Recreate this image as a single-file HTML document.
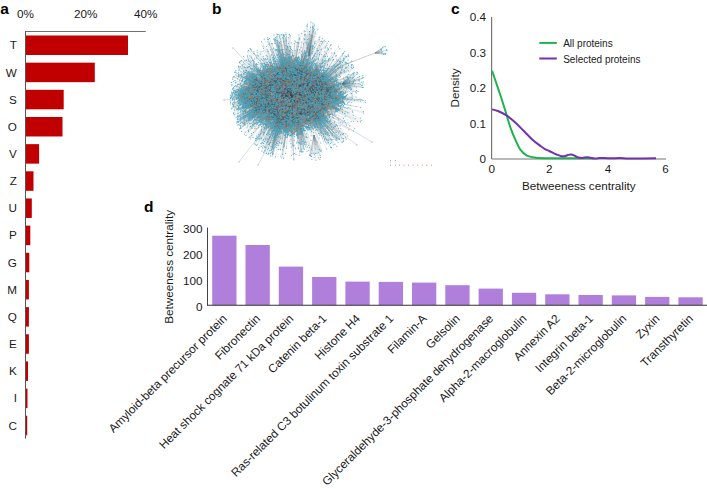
<!DOCTYPE html>
<html><head><meta charset="utf-8"><style>
html,body{margin:0;padding:0;background:#fff;width:707px;height:489px;overflow:hidden}
svg{display:block;font-family:"Liberation Sans", sans-serif}
</style></head><body>
<svg width="707" height="489" viewBox="0 0 707 489">
<filter id="nb" x="-10%" y="-10%" width="120%" height="120%"><feGaussianBlur stdDeviation="0.35"/></filter><g filter="url(#nb)"><path d="M298.9 104.2L300.1 85.3M289.7 129.9L291.3 120M262.7 70.1L277.6 66.3M243.2 84.3L319.1 80.3M271.1 66.1L275.3 80.7M309.1 72.6L294.6 71M327.2 111L307.3 70.2M247.6 92.1L265.1 93.7M290.5 113.4L294.3 111.6M290.1 57.7L274.4 78.1M284.3 99.9L303.3 110.3M313.5 125.2L323.6 115.5M302.4 94.4L294.6 71M272.2 68.9L279.8 67.4M304.6 82.5L312.4 88.2M281 110.7L264.5 103.2M294.7 73.3L307.3 70.2M320.6 84.7L315.6 73.3M274.6 86.5L276.7 92.3M290.6 123.1L271.3 116.9M271.4 66.5L286.3 68.6M291.1 122.7L319.1 80.3M291.8 131.9L289.8 123M334.8 97L336.9 96.1M330.4 104.5L323.6 115.5M262.9 105L281.1 124.7M279.1 125L319.6 114.6M258.6 93.1L242.9 96.9M285.8 125.3L284.9 119.3M289.5 79.5L299.7 84.2M264.1 106.8L242.9 96.9M258.5 97.4L270.2 104.5M273.9 82.3L257.3 107.4M292.4 73.3L279.7 88.3M328.1 97.8L297.8 101.6M304.3 73.6L295.4 96.7M259.1 81.9L288.4 71.7M253.7 114.7L281.1 124.7M245.2 95.9L275.5 117.1M302.1 128.8L280.4 116M240 101.5L297.7 86M270.3 115.3L257.3 107.4M308.7 113.7L304.7 79.4M276.3 94.2L245.5 103.3M343.4 105.5L315.4 114.1M283.5 113L300.2 113.5M326.3 95.6L317.2 74.7M290.4 84.2L288.4 71.7M287.5 83.5L275.6 111.4M320.2 94.2L311.1 91.5M289.2 120.6L284.9 119.3M336.2 107.5L330.3 91.9M251.3 88.4L280.4 116M293.6 114.1L315.4 114.1M274.5 97.5L307.3 70.2M249.9 110.5L242.9 96.9M323 88.2L307.3 70.2M256.2 89.4L254.7 83.4M272.2 68.9L311.1 91.5M242.3 87.5L290 94.2M276.6 65.9L285 75.9M287.6 117.4L272 113.1M280.4 73.5L284 81.2M337.5 95.6L319.6 114.6M316.5 102.7L303.3 110.3M295.2 131.1L271.3 116.9M312.2 127.2L310.6 120.8M311.9 77.3L300.6 92.5M300.6 96.5L285 75.9M318.5 94.9L307.7 100.2M296.4 124L265.4 96.9M299 131.1L280.4 116M259.8 94.1L242.9 96.3M288.8 77.9L266.4 70M318.9 122.7L328.6 103.9M305.7 107.8L321.1 109.4M295 115.6L285.6 95.4M332.9 79.6L330.3 81M279.5 76.5L281.5 81M256.9 74.1L283 96.9M291.6 59.1L297.4 69.1M291.6 119.2L283 96.9M258.8 95.6L253.9 108.9M260.1 102.1L265.9 87.7M272.2 105.6L253.9 108.9M268.8 117.5L284.9 119.3M287.3 119.2L280.2 119.5M267.7 109.9L268.6 110.9M305 82.2L328.6 103.9M240.3 95.3L280.2 119.5M294.3 58.8L311.5 72M305.2 86.1L326.8 84.3M251.5 88.8L261.7 80.9M295 125.2L264.5 103.2M296.7 91.1L300.8 113.3M283.4 125.5L263.6 87.4M305.8 108.7L328.6 103.9M268.6 120.8L315.5 88.3M245.9 96.1L279.7 88.3M291.2 135.2L269 108.2M316.8 126.5L328.6 103.9M283.4 123.1L275.5 117.1M285.3 126.8L303.4 113.6M307.4 78.6L288.4 71.7M293.4 78.1L263 105.3M307.9 59.4L278.3 73.4M288.9 71.5L295.5 75.6M258.8 69.9L259.8 86.5M296.9 61L316.2 92.8M298.3 100.2L280.7 127.3M255.7 78.1L286.1 95.2M260.5 95.4L266 75.8M280.9 100.2L290.9 84.5M257.5 102.8L295.4 96.7M291.1 70.3L286.3 68.6M314.5 99.8L300.2 113.5M290 108.2L300.8 113.3M310.2 72.7L316.6 69.4M259.6 121L276.7 92.3M272.9 86.4L265.9 87.7M313 122.5L319.1 80.3M253.6 103.7L274.7 117M320.1 120.5L271.3 116.9M323.6 92.4L330.3 91.9M310.7 93.1L307.7 100.2M263.5 80L259.8 86.5M278.9 85.2L285.6 95.4M317.9 66.8L315.6 73.3M242.4 89.2L247.5 89.2M294.8 132.2L292.3 118.3M342.1 97.5L317.2 74.7M279.7 65.9L294.3 111.6M335.9 78.3L327.9 101.2M291.1 80.2L330.9 87.5M282.8 105.3L270.9 85.8M310.7 123.5L297.8 101.6M258.9 101L265.1 93.7M269.3 122.9L316 118.4M267.1 62.6L265.4 96.9M253 79.4L275.5 117.1M309.8 90.8L309.5 87.5M244.9 90.4L319.1 80.3M322.3 98.8L327.9 101.2M310.7 93.1L326.5 91.1M282.5 67.7L288.4 71.7M279.7 99.9L280.2 119.5M314 96.4L279.7 88.3M308.8 126.1L311.7 98.4M311.5 108.4L292.3 95M263.3 84.6L244.1 91.1M246.8 96.3L242.9 96.3M274.2 72.8L290 94.2M329.3 90.5L334.1 86.7M292.9 127.4L307.5 111.6M280.9 94.1L265.4 96.9M256 89.6L280.7 127.3M303 113.3L319.6 114.6M341.1 92.3L328.6 103.9M293 133.4L275.6 111.4M298.3 82.4L313.9 90.2M321.9 78.4L303.4 113.6M251.1 85.7L290 96.4M290.7 61.9L290.1 68.3M249.5 95.1L247.4 98.3M280.7 96.2L265.4 96.9M290 119.6L310.6 120.8M319.9 86.1L309.5 87.5M291 63.8L318.4 86M314.5 92.3L300.1 85.3M287.3 61.7L294.7 68.7M291.9 128.8L294.3 111.6M315.6 127.1L319.1 80.3M293.7 87.1L297.7 86M297.6 85.6L292.3 95M261.1 97.4L284 81.2M243.5 98L286 67.5M335.1 112.1L326.5 91.1M259.2 74.9L279.7 88.3M299.5 125.9L300.1 85.3M260.3 82.2L265.9 87.7M281.2 125.4L297.8 101.6M308.5 94.3L294.7 68.7M272 128L300.2 113.5M324.3 117.1L315.5 91.1M313.2 77.7L331.3 95.8M298.7 89.1L307.5 111.6M330 86.2L336.9 96.1M287.6 109.2L280.2 119.5M259.8 91.2L285 75.9M265.5 114.8L266.6 72.8M248.4 89L254.7 83.4M288.9 121.1L268.6 110.9M290.4 65.3L286.1 95.2M298.6 109.1L275.6 116.2M291.5 124.2L302.2 126.1M263.1 79.3L259.8 86.5M279.8 70.8L286.1 95.2M281.1 60.7L301.7 74.7M279.1 73L281.5 81M272.6 109L290 94.2M273.1 114.2L276.7 92.3M262.5 71.1L277.6 66.3M306.2 59.6L330.3 81M293 122.8L290 96.4M248.7 97L285 75.9M263.1 105.2L260.3 83.4M302.2 68.1L311.1 91.5M314 76.1L327.9 101.2M334.2 93.6L301.7 74.7M280.7 96.2L276.8 99.6M277.3 66.7L284.2 104.5M270.2 104.7L256.8 93M305.4 79.5L297.4 69.1M265.5 114.8L264.5 103.2M267 81.8L300.1 85.3M281 77.4L266 100.1M315.6 65.9L301.7 74.7M334.3 101L311.7 98.4M284.6 128.7L284.2 104.5M281.2 125.4L253.9 108.9M276.5 95.4L283 96.9M333.4 82.8L292.1 91.4M248.4 85.8L282.9 114.6M329.9 114.5L311.7 98.4M304.3 73.6L294.6 71M261.5 126.7L268.6 110.9M254 109.9L300.6 92.5M288.6 75.3L297.8 101.6M280.3 111.9L282.9 114.6M312.4 67.5L301.7 74.7M311.5 108.4L330.3 81M292 103.4L286.8 112M261.2 122.2L247.5 89.2M298.2 96.9L303.4 113.6M286.1 129.4L258.8 117.6M297 65L307.3 70.2M271 110.7L272 113.1M289 104.5L291.7 91.8M278.8 123.9L280.2 119.5M296.9 76.1L297.7 86M250.2 87.6L275.6 116.2M241.9 94.6L263.9 97.4M262.6 103.3L295.5 75.6M276.2 102.7L272 113.1M306.3 123.3L330 89M333.3 104.8L336.9 96.1M275.2 99.6L279.7 88.3M323.7 88.4L307.3 70.2M308.1 130L336.9 96.1M239.8 100.9L275.6 111.4M283.5 104.6L307.5 111.6M318.6 89.1L316.2 92.8M262.7 95.6L261.7 80.9M330 94.8L294.1 119.8M292 111.3L289.8 106.4M281.6 115L291.7 91.8M270.9 100L286 67.5M258.3 94L265.1 93.7M291.6 122.9L299.6 94.3M313 63.1L278.3 73.4M341.5 102.9L321.1 109.4M295.2 80.6L282.2 96.1M303.5 71.3L290.1 68.3M318.7 107.8L294.3 111.6M284 126.5L265.4 96.9M306.6 105.7L300.6 92.5M247.6 92.1L281.5 81M255 115.9L276.8 99.6M275.3 77.1L259.8 86.5M305.3 85.4L307.5 69.3M301.3 106.6L303.3 110.3M309.9 121L315.4 114.1M293.5 84L297.4 69.1M273.7 75.9L276.7 92.3M265.8 78.7L266.4 70M271 82.8L309.4 99.1M334.6 97.4L326.8 84.3M266.3 75.8L257.9 84.5M275.4 68L259.8 86.5M302.8 115.4L284.9 119.3M285.6 59.3L307.3 70.2M302.1 128.8L291.3 120M331.4 94.6L284.9 119.3M253.2 116.7L269 108.2M251.3 102.9L284.2 104.5M305.2 66.7L279 67.8M291.9 127.3L286.8 112M278 91.1L282.2 96.1M307.6 101.2L289.8 106.4M303.1 72L294.6 71M296.9 67.9L295.4 96.7M251.6 112L303.4 113.6M292.2 89.6L265.1 93.7M263.3 114.7L275.5 117.1M283 113.1L297.8 101.6M297.4 62.2L304.7 79.4M314.5 103.1L294.7 100.7M279.6 73L285.6 95.4M340.3 106.3L327.9 101.2M300.1 97L307.5 69.3M288.7 130.1L310.7 93M290.5 125.5L292.3 118.3M297.1 111.2L328.6 103.9M307.4 71.8L311.1 91.5M281.9 89.3L275.3 80.7M268.2 109.5L290 96.4M238.8 97.1L307.3 70.2M285.6 59.3L299.6 94.3M339.8 99.2L338.4 99.1M257.7 101.7L265.1 93.7M253.8 74.1L291.3 80.5M319.1 96.9L315.5 88.3M343.2 102.5L299.6 94.3M319.9 106.4L319.1 80.3M273.6 105.6L271.3 116.9M289.7 115.1L289.8 123M311.7 115.9L280.2 119.5M265.8 121.6L286.8 112M255.4 86.2L292.2 67.5M281.5 88.6L276.7 92.3M281.2 118.6L291.7 91.8M257.7 104L275.6 111.4M323.7 120.5L307.2 121.6M316 99.6L317.2 74.7M247.5 113.1L303.4 113.6M285.5 132.7L280.4 116M325 74.3L315.6 73.3M315.4 110.7L282.9 114.6M305.2 70.1L279.7 88.3M321 76.5L311.7 98.4M307.3 63.4L318.4 86M298.5 96.2L276.8 99.6M300.3 120.9L331.3 95.8M291.8 75.2L320.7 95.2M325.4 117.4L302.2 126.1M285.9 104.4L271.3 116.9M294.2 132L297.8 101.6M270.2 69.2L260.3 83.4M299.9 63.2L292.2 67.5M283.5 104.6L307.5 111.6M298.2 114.3L258.8 117.6M316.2 104.7L328.6 103.9M315.6 127.1L294.1 119.8M320.2 84.7L300.1 85.3M285.9 62.6L316.6 69.4M278.7 131.5L272 113.1M266.1 118.9L242.9 96.3M291.9 103.2L323.6 115.5M284 126.5L300.6 92.5M312.1 103.6L300.2 113.5M290.9 117.7L275.6 116.2M316.2 66.1L288.4 71.7M311.5 108.4L309.4 99.1M265.9 116L247.5 89.2M284.5 76.6L279 67.8M287.3 85.1L291.8 99.9M292.5 100L291 102.7M249.1 110.1L261.7 80.9M287.8 132.2L280.7 127.3M335.7 102.4L291.8 99.9M291.3 83.5L307.3 70.2M314.7 121.9L292.3 95M292.7 62.1L290.1 68.3M245.7 105.4L244.5 99M281.4 74.6L259.8 86.5M281.4 88.2L284 81.2M323.6 70.7L330.9 87.5M296 66.8L290 94.2M322.7 80.3L295.5 75.6M247.1 104.7L276.8 99.6M261 122.7L281.5 81M270.6 83.7L282.9 114.6M269.7 80.1L274.4 78.1M332 94.8L319.6 114.6M259.9 94L297.7 86M292.9 126.8L310.6 120.8M269.4 117.9L281.1 124.7M298.4 60.4L294.6 71M315.3 74.3L303.3 110.3M274.1 79.5L261.7 80.9M301.3 106.6L309.5 87.5M326.3 86.2L334.1 86.7M269.1 72.6L266.6 72.8M325.6 105.1L299.6 94.3M315.6 94.5L330.3 91.9M277.2 127.1L276.7 92.3M268.6 69.2L279.7 88.3M270.4 78.9L292.1 91.4M283.5 79.2L282.2 96.1M322.7 98.3L328.6 103.9M325.2 123.6L303.4 113.6M309.2 123.2L307.2 121.6M238.3 90.2L292.1 91.4M280.7 106L284.9 119.3M315.2 111.8L316 118.4M283.1 120.7L294.7 100.7M289.1 66.5L290.9 84.5M318.6 79.2L336.8 89.3M310.3 84.5L305.2 72.7M289.6 78L294.6 71M292.1 69.2L294.7 68.7M279.4 96.6L257.2 82M318.7 90.5L326.5 91.1M280 113.5L284.9 119.3M323.7 88.4L300.1 85.3M299.9 102.7L297.8 101.6M256.5 75.8L257.2 82M303 122.5L321.1 109.4M296 66.8L315.4 114.1M326.4 116.9L289.8 123M304.6 130.6L294.1 119.8M334.2 83.3L327.9 101.2M266.5 125.5L265.3 97.7M276.3 94.2L285.6 95.4M317.1 76.1L309.5 87.5M299.8 124.6L285.6 95.4M330.7 109.3L300.8 113.3M297.5 127.3L275.6 116.2M325.8 86.1L330.9 87.5M326.3 86.2L316.6 69.4M342.6 99.5L290 96.4M280.9 73.4L297.7 86M333 91.7L307.2 121.6M320 72.6L318.5 85.1M277.7 66.3L288.4 71.7M342.8 84.8L330.3 91.9M280.7 117.3L297.8 101.6M268.5 126.3L270.9 85.8M309.4 102.1L290 96.4M321.7 110.4L279 67.8M321.4 118.2L291.3 120M343.6 92.4L303.3 110.3M262.5 120.4L269 108.2M294.6 69.4L291.7 91.8M325.1 73.3L318.4 86M249.5 95.1L272 113.1M271 82.8L291.3 80.5M318.1 96.3L307.5 111.6M265.3 67.3L294.7 100.7M287.6 66.2L300.6 92.5M302 87.4L319.6 114.6M297.4 78.7L286.1 95.2M306.3 122.4L284.8 118.3M262.2 112.3L257.3 107.4M263.4 82L247.5 89.2M304.2 78.6L297.7 86M300.6 66.9L275.3 80.7M264.1 124.5L288.4 71.7M307.6 129.8L315.4 114.1M281.6 109.9L307.5 112.8M324.6 86.6L326.5 91.1M294.2 88.4L315.5 88.3M289.6 67.9L286.1 95.2M326.5 96.5L326.8 84.3M310.7 123.5L300.8 113.3M297 78.4L290.1 68.3M284 66.8L266 100.1M246.5 84L261.7 80.9M251.2 97.4L280.2 119.5M323.9 99.4L298.1 103.5M274.6 77.9L281.5 81M302.6 86L288.4 71.7M240.5 88.9L256.8 93M257.3 104.7L256.8 93M320.5 92L318.4 86M275.2 105.6L263.6 87.4M316.4 89L286.1 95.2M326.4 116.9L268.6 110.9M327.4 100.9L291.5 127M253.1 101.8L257.3 107.4M332 85.3L284.8 118.3M330 105.4L311.7 98.4M296 111.1L298.1 103.5M323.6 72.3L313.9 90.2M326.4 116.9L307.7 100.2M287.5 83.5L282.2 96.1M261.9 91.8L327.9 101.2M317.1 106.2L323.6 115.5M311.4 62.4L316.6 69.4M266.6 89.4L292.2 67.5M286.5 128.9L286.1 95.2M281.2 125.4L286.3 68.6M266.5 102.8L275.6 111.4M324.8 77.3L297.7 86M264.8 115.9L257.3 107.4M326.9 93L326.5 91.1M257.5 105.6L257.3 107.4M246.4 89.2L247.4 98.3M274.1 70.6L257.2 82M332.2 81.5L317.2 74.7M263.1 79.3L284 81.2M306 120.4L328.6 103.9M311.5 103.2L330 89M251.4 111L260.6 73.4M320.4 108.9L312.4 88.2M299.5 109.2L298.1 103.5M308.1 130L316 118.4M255 115.9L266.6 72.8M334.7 88.7L330.3 81M325.8 93.9L316.2 92.8M340.8 95.5L295.5 75.6M328.9 114.4L323.6 115.5M271 110.7L289.8 106.4M262.7 109L265.4 96.9M311.4 62.4L288.4 71.7M287.6 117.4L289.8 106.4M323.9 76.1L294.7 68.7M325.1 78L291.3 80.5M304.4 130.4L309.4 99.1M288.9 133.6L318.6 117.7M337.8 109.7L319.8 99.3M285.3 118.3L289.8 106.4M305.7 72L290 96.4M302.2 67.3L285 75.9M304 128.5L286.8 112M310.7 125.1L318.6 117.7M252.8 96.8L270.9 85.8M289.9 74.9L311.5 72M302.4 94.4L299.5 69.3M323.6 92.4L318.4 86M244.8 92.8L289.8 106.4M291.9 103.2L294.7 100.7M271.7 127.7L263.9 97.4M322.8 77.9L321.6 73M307.3 127.8L285 75.9M252.5 74.8L295.4 96.7M318.5 83.9L301.7 74.7M281.1 78.1L275.6 111.4M260.3 78.1L266.6 72.8M269.8 76.9L253.7 98.7M278.6 98.8L295.4 96.7M336.3 101.3L331.3 95.8M262.7 120.9L307.5 111.6M252.6 77.2L256.8 93M262.4 102.9L294.3 111.6M328.9 100.8L330 89M338.8 105.5L300.2 113.5M297.8 131.1L300.8 113.3M305.7 72L311.1 91.5M291.2 108.4L310.6 120.8M254 109.9L271.3 116.9M247.1 78.3L244.5 99M298.5 71.5L257.2 87.6M345.2 99L286.8 112M295.5 130.8L290 96.4M264.2 70.5L309.5 87.5M337.4 101.6L300.1 85.3M278.9 117.5L291.3 120M336.8 95.4L311.7 98.4M298.9 91.6L312.4 88.2M263.4 96.4L245.5 103.3M332.9 79.6L297.7 86M272.3 95.6L292.3 95M298 116.6L281.7 129.3M246.1 99L292.2 67.5M251.8 111.1L265.1 93.7M312.3 96.4L309.4 99.1M273.7 67L299.7 84.2M262.8 118.1L258.8 117.6M334.4 85.2L319.6 114.6M253.7 84.1L259.8 86.5M239.9 98.6L253.9 108.9M274.4 129.3L282.2 96.1M296.3 57.9L288.4 71.7M308.8 110.8L303.3 110.3M303.1 67L286.1 95.2M291.7 124.9L315.4 114.1M261.9 91.8L274.7 117M277.3 96.5L282.2 96.1M291.5 57L310.7 93M260.1 70.5L290 94.2M280.4 73.5L266 100.1M315.6 127.1L292.3 118.3M287.8 132.2L265.3 97.7M264.9 76.6L257.2 82M331.1 95.2L288.4 71.7M272 78.2L286.1 95.2M265.8 121.6L307.7 100.2M310.7 120.5L290 96.4M268.2 109.5L272 113.1M247.1 104.7L263 105.3M293.2 125.8L319.1 80.3M328.6 86.5L326.8 84.3M274.1 79.5L260.6 73.4M325.2 101.9L291 102.7M301.7 107.9L288.4 71.7M292.1 134.4L302.2 126.1M311.5 119.3L284.8 118.3M285.3 71.6L300.1 85.3M336.1 84L313.9 90.2M284.2 69.7L279 67.8M296.6 127L316.2 92.8M296.6 72.1L309.5 87.5M291.2 104.7L266 100.1M302.4 94.4L311.7 98.4M272.1 98L270.2 104.5M271 71.8L260.6 73.4M303.5 130.3L301.7 74.7M310.4 68.2L315.6 73.3M333.8 92.7L307.5 111.6M316 71.7L294.7 68.7M268.9 115.2L260.3 83.4M262.5 85.9L281.5 81M313.9 93.9L330.3 81M289.6 103.4L261.7 80.9M343 101.4L300.8 113.3M276.9 98.2L284.2 104.5M266.4 92.2L292.2 67.5M275.8 106.3L266 100.1M296.4 115.6L294.3 111.6M319.5 92.6L297.7 86M303.7 99.1L315.5 91.1M291 57.8L299.6 94.3M267.4 120.8L307.7 100.2M268.1 110.9L275.5 117.1M313.4 95L299.7 84.2M247.5 103.3L275.6 111.4M263.3 88.8L291.8 99.9M308 97.2L337.4 91.4M318.1 81.4L299.6 94.3M275.7 69.5L292.1 91.4M285.6 92.2L299.7 84.2M266.7 80.3L298.1 103.5M317.1 119.4L291 102.7M274.6 77.9L266.4 70M281.1 121.3L310.6 120.8M266.7 108.9L284.2 104.5M314.2 96.3L317.2 74.7M297.9 105.4L318.4 86M292.1 77.3L295.5 75.6M305.7 72.2L307.3 70.2M259.2 85.3L264.5 103.2M334.4 97.9L292.2 67.5M321.1 124.7L310.6 120.8M322.1 109.9L299.5 69.3M269.5 104L294.7 100.7M266.3 71.3L282.2 96.1M259.2 116.7L275.5 117.1M257.8 116.4L242.9 96.3M336.4 92L291.3 120M242.4 89.2L276.8 99.6M288.8 121.4L280.7 127.3M326.9 76.3L300.1 85.3M325.9 108.1L313.9 90.2M266.5 116.4L264.5 103.2M280.4 90.4L284.2 104.5M312.2 75.5L313.9 90.2M270 67.1L242.9 96.9M272.8 75.4L299.7 84.2M258.2 107.8L280.7 127.3M274.4 99.4L280.2 119.5M262.7 70.1L292.1 91.4M256.9 120.1L256.8 93M276.6 103.4L307.2 121.6M311.6 105.6L319.1 80.3M335.1 104.9L336.8 89.3M272.9 86.4L276.7 92.3M326.9 95.1L309.5 87.5M281.4 74.6L290.9 84.5M266 106.2L247.4 98.3M306.6 79.2L319.6 114.6M258.2 102.9L266 75.8M251.5 88.6L275.3 80.7M282.5 67.7L299.6 94.3M303.1 72L295.5 75.6M278.5 63.9L270.9 85.8M299.2 63.5L257.9 84.5M277.3 96.5L292.3 95M253.5 96.4L289.8 106.4M340.6 93.4L297.8 101.6M336.5 96L310.6 120.8M307.9 97.9L286.1 95.2M300.6 96.5L315.4 114.1M336.2 107.5L307.5 112.8M271.6 88.4L294.7 100.7M313.5 125.2L313.9 90.2M273.1 81.7L297.7 86M263.1 105.2L242.9 96.3M294.5 114.5L303.3 110.3M279.7 99.9L294.1 119.8M249 98.2L294.7 68.7M252.3 81.7L276.8 99.6M291.6 119.3L303.3 110.3M264.6 113.7L265.9 87.7M305.2 100.9L279.8 67.4M297.2 125.3L280.7 127.3M337.6 89.2L319.8 99.3M285.5 118.8L280.4 116M291.9 127.3L292.1 91.4M243.6 89.6L261.7 80.9M243.5 98L242.9 96.9M272.9 76.1L299.6 94.3M263 96L276.7 92.3M261.6 111.7L274.7 117M265.5 101.4L253.9 108.9M300.4 121.8L275.6 111.4M284.1 131.9L259.8 86.5M292.1 134.4L292.3 95M260.5 96L275.3 80.7M278.1 119.5L276.8 99.6M318.8 116.3L328.6 103.9M273 72.1L265.4 96.9M284.4 129.5L307.2 121.6M273.9 89.7L305.2 72.7M274.1 124.9L310.7 93M291.2 109.7L283 96.9M273.1 115.3L274.7 117M303.3 106L316.2 92.8M298.8 79.4L292.1 91.4M315.7 64L331.3 95.8M324.4 120.4L330.9 87.5M278.8 97.7L263.9 97.4M250 86.8L244.1 91.1M273.3 123.4L292.1 91.4M296 103.1L285 75.9M245.1 90.5L254.7 83.4M336.4 89.3L270.2 104.5M257.3 102.6L257.2 87.6M289.9 74.9L291.3 80.5M259.2 119.3L280.2 119.5M307 60.5L305.2 72.7M338.5 110.3L320.7 95.2M332.1 114.2L310.6 120.8M276.5 70.6L282.9 114.6M241.8 95.2L254.7 83.4M267.1 93.4L275.5 117.1M261.1 117L281.7 129.3M316 107.9L318.5 85.1M244.8 86.6L274.7 117M262 94.2L266 75.8M262.7 116.4L285 75.9M253.8 102.2L307.2 121.6M249.2 91.7L275.3 80.7M297.5 99L295.5 75.6M339.4 102.7L311.5 72M242 91.7L244.1 91.1M316.4 106L307.5 112.8M266.7 80.3L294.7 68.7M245.9 96.9L280.2 119.5M307.3 127.4L315.5 88.3M284 66.8L299.7 84.2M259.9 119.3L280.2 119.5M261.8 73.5L265.1 93.7M295.6 123.9L284.8 118.3M291.2 108.4L284.2 104.5M271.9 84L285 75.9M264.3 128.8L298.1 103.5M272.2 130.5L310.6 120.8M260.8 119.3L256.8 93M264.1 117L265.1 93.7M260.2 74L265.9 87.7M319.2 87.3L338.4 99.1M292.7 62.1L288.4 71.7M315.9 76.5L337.4 91.4M305.9 111.8L321.1 109.4M284.2 68.9L289.8 106.4M292.5 81.4L279.7 88.3M316.4 72.7L285 75.9M288.2 87.6L298.1 103.5M263.3 88.8L275.3 80.7M259.7 74.5L291.8 99.9M254.7 118.2L253.7 98.7M281.6 80.6L279.7 88.3M272.5 87.6L260.3 83.4M295.8 72L270.9 85.8M261 96.1L265.3 97.7M317.8 125.6L326.8 84.3M245.6 110.1L244.1 91.1M261.6 110.2L297.7 86M288.2 120.6L291.3 120M299 73.6L307.3 70.2M315.7 95.5L328.6 103.9M301.1 106.1L307.7 100.2M264.3 72.6L292.3 95M259.2 121.3L284 81.2M245.9 86.7L295.4 96.7M306.3 122.4L327.9 101.2M328 94.6L310.6 120.8M275.5 71.4L278.3 73.4M273.9 87L245.5 103.3M280.9 113.3L281.5 81M259.7 93.3L254.7 83.4M289.3 87.2L279.8 67.4M289.5 79.5L284 81.2M261.8 102.5L261.7 80.9M326.6 75.6L312.4 88.2M304.1 115.2L292.1 91.4M307.1 64.5L318.4 86M291.1 88.8L281.5 81M281 91.3L282.9 114.6M288.1 134.8L280.2 119.5M266.9 82.6L263.6 87.4M296.2 118.6L315.4 114.1M252.4 100.4L265.3 97.7M274.6 77.9L298.1 103.5M333.7 94.4L292.3 95M304.1 72.1L301.7 74.7M291.1 80.9L276.7 92.3M326 98.6L330.3 91.9M271.9 80.7L295.4 96.7M330.1 98.4L295.4 96.7M304.4 120.6L289.8 106.4M255.2 105.4L244.1 91.1M293.6 79.1L318.5 85.1M280 71.9L304.7 79.4M323 82.9L313.9 90.2M314.1 101.8L299.6 94.3M299.9 66.3L303.3 110.3M241.6 101.1L244.1 91.1M304.6 85L311.5 72M287.4 64.1L292.2 67.5M330 105.4L319.6 114.6M248.2 94.8L280.2 119.5M342.8 94L336.8 89.3M286.9 102.1L289.8 106.4M287.4 60.8L288.4 71.7M247.1 90.2L265.4 96.9M315.4 112.5L297.8 101.6M325.2 101.9L297.7 86M315.7 64L318.4 86M329.9 85.4L307.5 111.6M311.6 78.9L292.2 67.5M342.9 95.4L318.6 117.7M284.5 115.4L292.3 118.3M319.6 100.6L318.6 117.7M247.2 95.6L266.4 70M317.1 119.4L326.5 91.1M332.9 79.6L295.4 96.7M300.8 118.2L291.3 120M292.4 67.9L290 94.2M322.9 114L280.7 127.3M289.6 73.8L310.7 93M279.8 108.2L291.8 99.9M331.5 88.8L330 89M316.8 110.7L286.3 68.6M246.8 75.9L297.8 101.6M283.9 130.4L284.8 118.3M242.9 107.7L263.9 97.4M253.6 103.7L297.7 86M323.8 93L307.5 111.6M319 102.2L289.8 106.4M266.9 84.7L279.7 88.3M296.5 130.3L307.5 112.8M300 68.3L284 81.2M284.8 65.8L294.7 100.7M290 122.5L295.4 96.7M248.2 96.8L260.6 73.4M327 107.7L281.5 81M269.9 67L242.9 96.3M276.5 70.6L286.3 68.6M262.5 80.7L266 75.8M288.7 127.3L291.5 127M282.5 67.7L297.7 86M313.8 114.1L307.5 112.8M293.3 88.6L294.7 68.7M325.4 101L334.1 86.7M336.9 92.1L291.7 91.8M309.4 73.9L301.7 74.7M325.9 96L283 96.9M272.9 73.7L285 75.9M251.2 109.6L280.4 116M318.6 102.6L301.7 74.7M287.6 101.3L292.3 95M296.4 62.7L301.7 74.7M293.5 96.9L315.4 114.1M300.6 116L292.3 118.3M243.2 84.3L292.3 118.3M260.3 113.7L264.5 103.2M242.5 102.3L301.7 74.7M283 122.7L291.5 127M332.6 92.9L311.5 72M335 84.5L327.9 101.2M293.6 98.9L284.9 119.3M274.6 110.7L275.6 111.4M338.1 101.3L299.5 69.3M268.4 90.7L292.3 118.3M307.6 127.3L280.2 119.5M313.6 98L315.5 91.1M299.5 119.5L309.4 99.1M289 70.1L301.7 74.7M302.9 92.6L313.9 90.2M297.2 133.1L304.7 79.4M254.9 111.3L289.8 106.4M289 104.5L269 108.2M303.7 91L312.6 116M289.2 96L310.7 93M322.6 91.9L309.5 87.5M324.9 75.7L299.7 84.2M317.1 109.5L321.1 109.4M296.1 96.6L297.8 101.6M320.3 107.7L316.2 92.8M281.7 99.7L300.1 85.3M273.5 125.7L276.8 99.6M276 108.2L292.1 91.4M294.3 134.4L274.7 117M343.5 94L330 89M293.5 121.3L311.5 72M300.6 66.9L300.2 113.5M335.1 93.8L321.1 109.4M245.1 96.4L305.2 72.7M287.6 66.2L284 81.2M259.8 90.3L280.2 119.5M254.7 118.2L279.8 67.4M290.9 103.9L265.1 93.7M254.9 111.3L295.4 96.7M295.8 130L253.7 98.7M336.8 96L286 67.5M287.3 122.9L264.5 103.2M260.2 100.8L253.9 108.9M289.2 81L317.2 74.7M312.8 82.1L298.1 103.5M268.2 122.3L291.3 120M295.2 126L286.1 95.2M251.2 97.4L282.9 114.6M266.2 124.4L272 113.1M283.3 103.8L284.9 119.3M290.4 85.9L270.9 85.8M304.4 120.6L321.1 109.4M291.2 124.9L307.7 100.2M264.3 128.8L310.6 120.8M312.3 100.1L291.8 99.9M278.7 81L279.8 67.4M329.4 91.1L289.8 123M261.5 126.7L291.5 127M298.9 118.3L302.2 126.1M255 74L259.8 86.5M334.7 88.7L316.2 92.8M314.4 124.5L323.6 115.5M320.1 120.5L307.7 100.2M267.8 102.4L268.6 110.9M322.2 101.8L285.6 95.4M242.5 93.5L263 105.3M271 71.8L297.4 69.1M246.2 101.3L256.8 93M265.5 116.4L284.9 119.3M304.9 98.8L304.7 79.4M329 88.4L336.9 96.1M336.9 80.6L291 102.7M297.1 89.4L311.7 98.4M341.5 96L318.5 85.1M247.7 88.3L244.1 91.1M306.9 108L289.8 106.4M318.2 84.5L290 96.4M313.6 98L300.1 85.3M253.1 92.1L281.5 81M275.1 92L292.3 95M300.2 66.7L266.6 72.8M302.9 83L299.6 94.3M326 76.5L292.2 67.5M297.6 58.6L290.9 84.5M322.4 92.5L321.1 109.4M307.3 127.8L319.6 114.6M280.5 127.9L263 105.3M285.3 71.6L283 96.9M329.6 117.4L312.4 88.2M299.9 82.3L299.7 84.2M307.3 127.8L294.1 119.8M266.8 107.9L294.3 111.6M275.5 71.4L275.3 80.7M293.6 114.1L294.1 119.8M327.4 112.3L286.8 112M318.6 102.6L276.7 92.3M326.4 76.5L307.5 69.3M298.1 121.9L300.8 113.3M290.7 107.8L285.6 95.4M291.1 80.9L275.3 80.7M278.8 97.7L264.5 103.2M272.1 98L286.1 95.2M291.2 135.9L268.6 110.9M316.8 96.7L330.9 87.5M270.4 64.7L298.1 103.5M244.8 86.6L301.7 74.7M322 111.9L275.5 117.1M291.1 88.8L295.4 96.7M295.5 126.4L312.6 116M254 117L259.8 86.5M337.8 109.7L328.6 103.9M250 93.4L245.5 103.3M243.4 87.2L263.9 97.4M295.3 126L294.1 119.8M260.9 89.8L259.8 86.5M269.3 122.9L264.5 103.2M273.1 114.2L286.3 68.6M330.8 90.2L337.4 91.4M290.6 60.3L266.4 70M316 99.6L326.8 84.3M267.1 111.4L279.7 88.3M334 96.7L331.3 95.8M289 93.5L291.8 99.9M307.5 110.4L310.6 120.8M276.8 66.6L291.7 91.8M307.3 127.8L328.6 103.9M298.8 57.6L292.2 67.5M338.4 86.4L289.8 106.4M311.6 105.6L289.8 123M256.1 96.2L258.8 117.6M289.9 74.9L321.6 73M286.4 126.9L281.1 124.7M268.5 126.3L282.9 114.6M317 103.9L328.6 103.9M281.9 133.2L297.8 101.6M259.9 116.5L291 102.7M279.8 133.1L319.6 114.6M245.9 96.9L278.3 73.4M336.8 96.4L318.4 86M282.7 61L247.4 98.3M305.7 97.7L315.5 91.1M273.8 86.2L290.1 68.3M329.1 86.5L299.5 69.3M298 57.3L291.8 99.9M308.8 110.8L330.9 87.5M295.4 101.1L274.4 78.1M313.7 121.3L292.2 67.5M332.6 92.9L292.1 91.4M288.5 72L291.8 99.9M335.9 108.6L307.2 121.6M256.1 106.1L265.3 97.7M332.4 82.8L321.1 109.4M276.5 125.7L298.1 103.5M269.6 120.7L291 102.7M244.2 92.3L253.9 108.9M341.8 91.5L274.4 78.1M292.1 103.1L268.6 110.9M310.5 69.3L303.4 113.6M244.4 84L289.8 106.4M250.7 90.7L260.6 73.4M250.4 99.7L279.7 88.3M332.8 85.7L316 118.4M287.4 71.7L294.6 71M272.2 91.3L259.8 86.5M324.9 106L294.3 111.6M281.5 131.7L245.5 103.3M338.5 110.3L309.5 87.5M322.7 119.6L311.7 98.4M317.5 106.1L309.4 99.1M310.9 73.8L311.5 72M269.3 124.2L244.1 91.1M279.1 129.9L280.7 127.3M307.4 71.8L321.1 109.4M294.5 90.9L319.1 80.3M259 102.6L257.2 87.6M324.3 70.4L286.3 68.6M273.2 101.4L289.8 106.4M310.2 101.8L294.1 119.8M266 73.7L270.9 85.8M304.5 85.6L291.7 91.8M281.6 107.2L280.4 116M272.4 81L279 67.8M297.3 119.7L337.4 91.4M303.4 78.6L295.4 96.7M268 85.9L265.1 93.7M326.9 76.3L318.6 117.7M298.7 89.9L291 102.7M301.3 106.6L303.3 110.3M294.7 76.1L294.7 68.7M255.8 101.8L280.4 116M325.4 101L336.9 96.1M342.9 85.2L307.2 121.6M264.3 72.6L284 81.2M297.1 84.3L310.7 93M292.6 119.8L294.3 111.6M338.8 104.6L294.6 71M337.4 85.4L319.1 80.3M258.5 97.4L265.9 87.7M328.3 97L275.6 116.2M279.9 61.9L285 75.9M265.1 76.7L275.6 116.2M296.1 126.7L280.2 119.5M323.7 88.4L336.8 89.3M326 115.6L315.4 114.1M282.9 121.3L284.9 119.3M254.9 77.9L244.1 91.1M291.2 102.4L294.7 100.7M283.6 69L312.4 88.2M339.9 92.9L279.7 88.3M252.7 114L297.7 86M283.3 94.6L286.8 112M308.8 126.1L303.3 110.3M266.3 98.2L280.7 127.3M267.9 123.7L307.5 111.6M279.1 73.1L265.9 87.7M292.5 92.7L265.1 93.7M284.6 125.5L289.8 106.4M287.3 69.6L291 102.7M342.5 96.3L312.6 116M310.7 96.7L291.3 80.5M324.1 80.6L318.6 117.7M299.7 134.3L315.5 88.3M316.2 104.7L300.8 113.3M314.9 93.5L294.6 71M268.1 66.8L257.2 82M286.3 117.4L270.9 85.8M307.1 65.9L291 102.7M293.3 88.6L288.4 71.7M259.8 94.1L266 100.1M336.8 93.5L327.9 101.2M318 86L318.4 86M304.3 123.2L316.2 92.8M297.8 131.1L291.3 120M287.6 64.9L321.6 73M340 83.5L311.5 72M301.2 106.6L275.6 111.4M242.9 107.7L311.7 98.4M261.1 117L263.9 97.4M326.3 95.6L303.3 110.3M292.5 62.1L328.6 103.9M320.9 92.7L326.5 91.1M296.9 129.7L291.5 127M271.9 66.3L295.5 75.6M284.2 69L330 89M324.1 88.8L328.6 103.9M314.2 97.6L307.5 111.6M292.3 80.4L285.6 95.4M266.8 77.4L261.7 80.9M305.7 107.8L307.5 112.8M297.1 67.9L266.4 70M248.8 96.1L303.4 113.6M273.3 96.3L253.7 98.7M285.1 127.9L307.5 111.6M288.8 77.7L294.6 71M246.4 89.2L261.7 80.9M322.9 96.7L310.7 93M293 122.8L292.3 95M266.1 118.9L294.1 119.8M256.8 74.9L274.4 78.1M262.2 81.2L275.6 111.4M263.3 90.9L289.8 123M290.3 115L258.8 117.6M267.9 100.7L257.9 84.5M257.3 117.3L291.3 120M277.5 70.6L275.3 80.7M255.9 108.9L257.2 87.6M253.5 103.5L266.6 72.8M285.4 129.3L290.9 84.5M250 86.8L295.5 75.6M257.2 81.4L300.1 85.3M272.8 75.4L294.7 68.7M312 115.6L294.3 111.6M270.5 77.9L270.2 104.5M287 113.2L309.5 87.5M323.7 93.9L312.6 116M296.4 89.2L309.4 99.1M273.1 67.1L284 81.2M301.5 121.7L281.7 129.3M317.9 69.5L297.7 86M282.9 121.5L280.7 127.3M274.7 73.9L292.3 95M310.9 110.3L315.4 114.1M247.3 106.8L244.5 99M252.7 111.9L280.2 119.5M289.2 81L284.9 119.3M269.4 72.1L269 108.2M310.6 124.1L284.9 119.3M323.8 112.8L290.9 84.5M291.9 129.7L292.3 95M317.1 93.4L290.9 84.5M306.1 109.5L307.5 112.8M262.5 80.5L282.9 114.6M336.6 99.3L334.1 86.7M267.9 123.7L302.2 126.1M277.5 106.8L307.2 121.6M248.5 89.1L265.4 96.9M289.1 124.5L265.3 97.7M291.1 88.8L283 96.9M245.8 108L242.9 96.9M310.1 112.1L300.2 113.5M323.4 90.3L295.4 96.7M244.4 84L286 67.5M303.1 72L286 67.5M285.3 118.3L263.9 97.4M271.9 84L277.6 66.3M293.7 67.8L292.3 95M249.1 82.7L263.9 97.4M323 88.2L336.8 89.3M263.7 92.9L263.9 97.4M255.9 108.9L291.8 99.9M334.6 99.4L330.9 87.5M286.6 116.5L280.2 119.5M317.4 87.9L320.7 95.2M247 101.5L292.3 95M274.1 101.2L275.6 116.2M320.4 98.1L321.6 73M299.3 103.3L300.1 85.3M291.1 65L299.5 69.3M326 102.5L327.9 101.2M259 102.6L247.4 98.3M248.3 78.9L279.8 67.4M276.4 111.2L275.5 117.1M296 99.3L282.2 96.1M278.8 121.9L284.9 119.3M311.4 89.8L307.2 121.6M324.7 110.9L321.1 109.4M324.3 70.4L312.4 88.2M313 86.8L289.8 106.4M296.1 57.2L307.5 111.6M344.2 92.9L300.1 85.3M253.9 77.9L258.8 117.6M240.4 99L318.6 117.7M276.1 90.7L285.6 95.4M320.4 121.7L326.5 91.1M333.5 90.2L299.6 94.3M331 94.2L305.2 72.7M316.5 106.4L300.6 92.5M271.9 95.8L269 108.2M246.9 102L286 67.5M333.2 99.5L336.9 96.1M276.2 79.4L265.4 96.9M253 117.4L307.5 111.6M314.5 92.3L275.6 111.4M300.8 125.2L295.4 96.7M278.7 99.7L274.4 78.1M305.7 72L281.5 81M248.8 94.6L247.5 89.2M299.5 59.3L294.7 100.7M317 86.4L318.4 86M293.1 107.6L303.3 110.3M261.1 90.7L297.8 101.6M328.6 98.5L311.5 72M290.1 70.9L266 75.8M271 82.8L253.7 98.7M321.4 75L316.2 92.8M310.2 72.7L309.5 87.5M293.5 68.5L300.1 85.3M269.9 62.4L326.8 84.3M267.4 120.8L275.3 80.7M331 94.2L316.6 69.4M327.7 122.6L319.8 99.3M309.4 100L316.2 92.8M317.5 71.3L318.5 85.1M276.1 90.7L266 75.8M331.3 108.9L330.3 91.9M278.9 77.5L274.4 78.1M297.4 59.3L266.4 70M288.2 70.8L299.5 69.3M280.2 70.7L309.5 87.5M297.2 80L263.6 87.4M269.5 108.3L281.1 124.7M290.9 103.9L297.8 101.6M288.4 70.9L316.6 69.4M299.3 115.1L292.3 95M294 65.1L304.7 79.4M279.4 107.1L270.2 104.5M239.8 100.9L274.7 117M291.2 120.3L313.9 90.2M264.6 113.7L258.8 117.6M251.5 88.8L263.9 97.4M274.2 95.6L290.9 84.5M303.5 71.3L317.2 74.7M282.4 126.8L286.8 112M294.5 113.5L291.5 127M278 85.6L279 67.8M280.9 65.2L309.5 87.5M258.7 122L289.8 106.4M276 72.9L300.1 85.3M342 94.2L328.6 103.9M264.7 103.2L272 113.1M275.4 68L266 75.8M270.3 111.9L311.1 91.5M308.1 130L311.1 91.5M266.6 122L289.8 123M262 94.2L253.9 108.9M267.1 93.4L269 108.2M247.6 92.1L291.8 99.9M293.9 60.6L291.7 91.8M325.6 78.7L297.7 86M258.6 88.8L300.6 92.5M276.7 83.7L280.4 116M340.4 94.7L319.6 114.6M286.1 73.5L290 94.2M287.7 74.9L286.1 95.2M242.9 107.7L260.3 83.4M244.2 103.7L260.3 83.4M334.1 80.7L327.9 101.2M317.5 94L312.4 88.2M246.3 102.7L275.3 80.7M328.1 114.2L313.9 90.2M303.7 99.1L321.6 73M290.2 79.9L279 67.8M280.8 71.8L305.2 72.7M244.2 103.7L282.2 96.1M292.5 86.3L299.6 94.3M309.6 128.1L257.3 107.4M253.6 103.7L265.4 96.9M263.6 95.7L286.3 68.6M272.4 81L259.8 86.5M304 123.4L327.9 101.2M257.5 70.7L254.7 83.4M261.5 66.8L247.4 98.3M273.7 67L260.6 73.4M313.9 105.2L283 96.9M250.9 110.8L263 105.3M330.9 93.5L294.3 111.6M291.7 59.1L290 94.2M300.8 125.2L276.7 92.3M239.6 101.2L263 105.3M272 127.6L264.5 103.2M273.9 82.3L294.6 71M331 83.3L316.2 92.8M293.2 109.7L288.4 71.7M309.9 121L322.9 84.7M324.7 92.3L336.9 96.1M285 60.3L282.2 96.1M269.2 87.3L257.9 84.5M321.4 106L284.2 104.5M257.3 123L257.3 107.4M267.8 81.9L260.6 73.4M313.5 91.2L300.6 92.5M293.8 87.2L290.9 84.5M241 94.2L242.9 96.9M314 96.4L309.5 87.5M290.5 125.5L264.5 103.2M271.3 68.9L284 81.2M285.6 90.6L285 75.9M289.7 79.6L307.3 70.2M252.4 77.2L247.5 89.2M252 104.5L258.8 117.6M259.4 79L274.4 78.1M246.4 99L244.1 91.1M297.7 58.3L276.7 92.3M342.9 95.7L312.6 116M263.2 117.4L280.2 119.5M270.3 71.1L266.4 70M310.4 81.7L303.3 110.3M304.5 91.2L303.3 110.3M279.5 113.8L270.9 85.8M250 93.4L265.1 93.7M243.4 87.2L259.8 86.5M302.2 64.7L318.5 85.1M260.4 110.1L284.2 104.5M271.9 80.7L297.8 101.6M317 65.1L315.5 91.1M290.1 70.9L292.1 91.4M290.9 63.3L284 81.2M249.4 82.2L284 81.2M322.4 96L310.6 120.8M335.9 81.8L330.3 81M281.8 61.8L307.3 70.2M311.2 68.5L312.4 88.2M299.7 82.6L290 94.2M256.8 84.9L260.3 83.4M281.8 69L299.5 69.3M270.5 111L256.8 93M318.6 102.6L318.4 86M292.1 77.3L284.2 104.5M259.3 75.7L291.8 99.9M262.9 114L265.9 87.7M319.6 111.5L291.3 120M309.1 107.9L309.4 99.1M268.4 94.3L291.3 120M302.2 106.6L284.9 119.3M253.2 88.9L286 67.5M298.2 104.6L285.6 95.4M245.8 112.4L247.5 89.2M312.1 113.3L272 113.1M277.3 96.5L276.7 92.3M245.3 106.8L270.2 104.5M306.3 122.4L307.5 111.6M239.3 95.7L280.4 116M322.9 114L321.1 109.4M305.2 119.1L307.5 112.8M268.5 74.8L257.9 84.5M289.8 130.7L247.4 98.3M322.7 80.3L297.7 86M298.9 104.2L319.8 99.3M290.1 65.7L277.6 66.3M250.9 110.8L269 108.2M304.5 104.3L307.7 100.2M280.3 130.4L302.2 126.1M303 122.5L307.7 100.2M324.7 110.9L316.2 92.8M289.5 69.6L294.6 71M264.6 123.6L288.4 71.7M291 62.1L266 75.8M292.2 60.7L312.4 88.2M266.7 104.9L290.1 68.3M257.5 70.7L300.1 85.3M292.9 124.2L292.3 95M310.3 104L321.1 109.4M244.9 100.4L284.8 118.3M264 100.1L284.8 118.3M287.6 109.2L276.7 92.3M248 102.3L242.9 96.9M249.8 94L298.1 103.5M276 121.4L291.8 99.9M315.6 85L292.3 95M332.6 85.3L319.6 114.6M307.6 101.2L282.9 114.6M263.8 105.4L280.7 127.3M288 80.3L299.5 69.3M293.1 64.4L313.9 90.2M281 93.9L263 105.3M291.3 70.3L288.4 71.7M292.9 91.4L291.8 99.9M334.3 106.5L315.4 114.1M262.2 112.3L291.3 80.5M301.5 122.7L289.8 123M329.5 86.1L311.7 98.4M284.4 121.5L294.3 111.6M327.8 77.3L309.5 87.5M291.8 72.9L290 96.4M253.2 97.7L245.5 103.3M285.5 132.9L300.8 113.3M268.8 113.7L307.5 112.8M300.7 120.6L275.5 117.1M279.1 73.1L272 113.1M242.2 101.3L319.8 99.3M322.4 111.7L270.2 104.5M258.8 98L283 96.9M260.7 124.4L279.7 88.3M294.2 97.9L303.3 110.3M264.7 104.8L300.8 113.3M296.7 78L317.2 74.7M255.9 98.2L245.5 103.3M281.2 110.4L284.2 104.5M249.6 110.2L307.5 111.6M291.6 122.9L307.2 121.6M273.6 118.3L294.6 71M324.1 81.8L303.3 110.3M259.2 83.6L284 81.2M286.6 128.2L268.6 110.9M304.3 117.6L265.9 87.7M326.9 95.1L297.8 101.6M303.4 74.2L261.7 80.9M310.2 129.2L321.1 109.4M298.9 67.2L301.7 74.7M264.3 128.8L284.9 119.3M283.9 130.4L263.9 97.4M307.6 118.7L284.9 119.3M275.1 92L266 100.1M288.3 58.5L266 75.8M293.6 77.4L286.1 95.2M291.1 70.3L297.4 69.1M329.9 85.4L330.3 81M312.9 75.8L307.5 69.3M312.2 126.1L338.4 99.1M272.1 97.8L282.9 114.6M272.8 109.5L276.8 99.6M285.7 86.8L294.7 68.7M290.3 99.3L292.3 118.3M332.9 115.1L321.6 73M306.3 62.2L292.2 67.5M284.9 125.8L313.9 90.2M287 73.8L257.9 84.5M326.9 108.7L303.4 113.6M254.5 98.9L286.1 95.2M316.7 79.7L289.8 123M271.9 118L289.8 123M299.5 121.7L280.7 127.3M289.5 79.5L270.2 104.5M251.5 91.8L279.7 88.3M300.9 93.4L307.5 112.8M325.3 80L312.6 116M251.5 92L258.8 117.6M271.3 68.9L290.9 84.5M323.6 100.7L298.1 103.5M275.1 92L276.7 92.3M247.2 95.6L265.1 93.7M269.7 92.8L279.7 88.3M294 78.2L292.1 91.4M335 88L307.3 70.2M329.6 117.4L307.5 111.6M274.5 97.5L278.3 73.4M328 78.1L310.7 93M308.5 81.8L290 94.2M268 85.9L281.5 81M330 86.2L310.7 93M246.4 89.2L278.3 73.4M306.3 62.2L299.7 84.2M281.8 70.9L290 94.2M280.4 90.4L316.6 69.4M344.2 97.4L307.7 100.2M335.5 107.1L318.6 117.7M317.5 106.1L263 105.3M267.6 85.7L292.2 67.5M273.6 105.6L282.2 96.1M315.9 76.5L322.9 84.7M328.7 92.7L304.7 79.4M270.3 111.9L294.1 119.8M285 71L285.6 95.4M327.1 87.2L330.3 81M302.2 78.9L299.6 94.3M296.1 100.4L271.3 116.9M330.3 79.2L307.5 111.6M304.6 85L330.9 87.5M309.4 102.1L318.4 86M309.9 104.2L330.9 87.5M292.4 127.1L291.3 120M303.4 75.8L315.6 73.3M291 62.1L304.7 79.4M307.2 72.6L277.6 66.3M311.4 66.7L309.5 87.5M317.9 66.8L315.6 73.3M301.7 65.9L292.1 91.4M311.9 98.5L294.6 71M278 85.6L291.7 91.8M290.6 123.1L265.9 87.7M309 69.1L320.7 95.2M299.8 112L284 81.2M320.1 82.5L323.6 115.5M328.9 114.4L312.4 88.2M289.8 80.3L290 96.4M270.8 109L244.1 91.1M290.4 107.9L304.7 79.4M328.7 92.7L299.6 94.3M318.2 81.2L307.5 69.3M289.4 83.6L291 102.7M285.8 123L286.8 112M270.3 71.1L260.6 73.4M293.3 123.9L263.9 97.4M261.8 119L289.8 106.4M320.5 95.8L330.3 91.9M311 97.9L311.1 91.5M257.1 94.8L307.7 100.2M314 96.4L291.7 91.8M266.7 75.3L279.7 88.3M318.2 81.2L318.6 117.7M304.8 102.2L297.4 69.1M296.9 61L307.5 112.8M243.2 98.2L265.4 96.9M282.5 107.5L281.1 124.7M343.1 97.2L328.6 103.9M293.5 121.3L279.7 88.3M323.7 88.4L309.4 99.1M330.9 78.3L322.9 84.7M319.6 100.6L338.4 99.1M332.6 99.8L321.6 73M248.8 89.5L263 105.3M246.2 101.3L257.9 84.5M335.7 96L338.4 99.1M283.5 128.1L276.8 99.6M332 94.8L290.1 68.3M262.5 75.9L253.9 108.9M330.3 102.4L319.1 80.3M265.2 76.6L254.7 83.4M330.3 79.2L297.7 86M283.1 63L279.8 67.4M268.3 72.3L266.6 72.8M250 93.4L270.9 85.8M254 80.4L284 81.2M338.8 105.5L321.1 109.4M325.5 109.7L317.2 74.7M320.6 92.8L337.4 91.4M268.2 122.3L265.9 87.7M315.6 127.1L330.3 81M342.8 94L307.3 70.2M293.2 66.2L291.7 91.8M287.3 122.9L302.2 126.1M290.7 118.2L309.4 99.1M254.4 95.2L261.7 80.9M329.5 86.1L312.6 116M321.6 102.6L301.7 74.7M310.2 116.6L307.5 111.6M265.5 120.4L291.7 91.8M279.6 69.8L278.3 73.4M341 92.5L326.5 91.1M338.8 85.9L301.7 74.7M325.5 85.3L290.9 84.5M261.8 121.8L281.7 129.3M299.4 77.5L276.8 99.6M283.1 73.1L281.5 81M279.4 120.4L307.7 100.2M336.7 97.5L318.4 86M257.2 81.4L290 94.2M271.5 105.5L298.1 103.5M252.2 107.3L291 102.7M245.3 108L288.4 71.7M330.3 79.2L336.9 96.1M258.8 95.6L284 81.2M275.2 60.7L295.5 75.6M280.8 127L289.8 106.4M250.1 91.5L281.7 129.3M259.6 91.6L292.1 91.4M270.3 101.8L268.6 110.9M296.2 118.6L285.6 95.4M316 99.6L307.3 70.2M291.3 89.2L270.2 104.5M262.3 99.3L260.6 73.4M306.1 115.5L319.6 114.6M293.5 109.2L312.6 116M328.1 82.6L292.2 67.5M252.3 102.3L289.8 106.4M315.4 72.4L330.9 87.5M280.9 65.2L278.3 73.4M250.4 99.7L299.6 94.3M341.1 101.5L294.6 71M342.8 94L309.4 99.1M260.1 91L256.8 93M304.1 74.7L307.3 70.2M302.7 102.9L291 102.7M284.3 125.1L266 100.1M312.4 67.5L317.2 74.7M323.7 88.1L307.7 100.2M291.9 132.8L272 113.1M258.6 93.1L266.4 70M325.8 91.5L291.3 80.5M302 87.4L291.8 99.9M248.1 93.9L280.4 116M284.5 131.2L295.4 96.7M242.9 104.7L275.6 111.4M285.1 127.9L309.5 87.5M297.2 125.3L303.3 110.3M264.3 63.3L289.8 123M298.9 129.9L315.4 114.1M328.6 111.7L272 113.1M286.5 90.9L300.6 92.5M312.2 75.5L326.8 84.3M271.3 111.2L266 100.1M258.3 86L259.8 86.5M241 86.3L266 100.1M285.5 69.8L318.5 85.1M312.3 63.3L291.8 99.9M326 95.9L311.1 91.5M266.7 90.9L258.8 117.6M267.8 81.9L288.4 71.7M253.1 79.3L294.7 100.7M329.6 117.4L336.9 96.1M296 99.3L292.3 95M311.1 77L290 96.4M309.8 100.8L290.9 84.5M314.4 101L284 81.2M278.9 91.1L279.8 67.4M243.9 100.5L280.4 116M301.9 87.4L337.4 91.4M286.6 128.2L268.6 110.9M309.5 64.8L291.7 91.8M261.8 121.8L259.8 86.5M291.3 83.5L294.6 71M317.7 81.8L299.7 84.2M308.7 71.9L321.6 73M335.1 97.5L336.9 96.1M249.2 107.8L271.3 116.9M325.8 93.9L328.6 103.9M333.3 91.7L290.9 84.5M299.1 71.3L309.4 99.1M260.7 108.2L280.2 119.5M297.3 62.3L321.6 73M298.7 89.9L294.6 71M274.5 118.9L302.2 126.1M296.3 127.8L307.7 100.2M300.2 129.6L276.8 99.6M333.8 96.7L316.2 92.8M296.2 118.6L299.7 84.2M237.8 89.1L244.5 99M290.4 65.3L290.1 68.3M337.3 111.6L318.6 117.7M309.9 104.2L319.6 114.6M262 74.7L274.4 78.1M272.7 67.2L301.7 74.7M276.1 97.3L257.2 87.6M304.9 98.8L319.6 114.6M257 91.8L245.5 103.3M249.6 94.5L253.7 98.7M307.2 64.3L315.6 73.3M272.9 86.4L285.6 95.4M308.7 127.2L291.3 120M330.3 102.4L315.5 91.1M275.3 80L265.9 87.7M297.8 131.1L289.8 123M323.8 106.7L320.7 95.2M289.7 72.8L301.7 74.7M333.2 78.3L317.2 74.7M281.7 61.7L321.6 73M281.8 70.9L300.1 85.3M266.9 84.7L257.9 84.5M297.5 113.9L281.5 81M276 87.7L265.4 96.9M290.5 127.5L319.6 114.6M298.9 90L304.7 79.4M277.3 129.9L300.6 92.5M310.7 65.7L300.2 113.5M284.4 73.2L286.3 68.6M327 81.7L331.3 95.8M290.1 77.6L285.6 95.4M310.8 66.3L290.9 84.5M318.5 104.3L282.9 114.6M259.4 79L278.3 73.4M289.5 79.5L292.1 91.4M250.2 96.1L295.4 96.7M292 87.4L326.5 91.1M252 99.7L257.9 84.5M324.1 87.6L316.2 92.8M335 88L327.9 101.2M258.9 102.1L279.7 88.3M273.2 125.6L278.3 73.4M319.1 90.9L312.4 88.2M325.6 112.2L300.1 85.3M312.4 98L334.1 86.7M282.9 121.5L265.9 87.7M268.7 101.1L268.6 110.9M241.9 94.6L266 100.1M307 118.5L315.5 91.1M328.1 99.3L313.9 90.2M316 71.7L284.9 119.3M317.9 75.3L319.8 99.3M337.5 109.2L297.8 101.6M250.2 87.6L257.2 82M342.6 101.9L316.2 92.8M332.5 87L283 96.9M300.6 72.7L257.9 84.5M281.7 110.7L285.6 95.4M312.6 94.6L311.1 91.5M270.7 114.2L263.9 97.4M317.8 101.9L310.7 93M269.4 120.3L284.8 118.3M290.1 103.3L291.3 80.5M285.6 92.2L263.6 87.4M298 57.6L266.6 72.8M307.3 106.2L290 96.4M276.5 120L291 102.7M274.1 124.9L274.4 78.1M250.9 80.3L247.4 98.3M300.4 64.4L336.8 89.3M288 123.4L276.8 99.6M261.8 73.5L292.2 67.5M260.4 116.2L268.6 110.9M333.7 94.4L275.6 111.4M324.2 90.9L322.9 84.7M272.6 128.4L284.2 104.5M282.1 70.1L326.5 91.1M314.3 126.8L320.7 95.2M321.4 121.3L299.6 94.3M309.7 87.8L301.7 74.7M281.2 118.6L253.9 108.9M265.4 64.6L334.1 86.7M261.2 70.5L294.3 111.6M301.2 63.4L260.6 73.4M339.4 110L311.1 91.5M260.5 119.6L271.3 116.9M318.2 81.2L318.5 85.1M304.3 91.9L286.1 95.2M253.7 84.1L245.5 103.3M256.5 92.5L282.9 114.6M313.9 104.2L307.5 111.6M302.6 66.4L290 94.2M239.6 95.2L279 67.8M307.5 62.4L284 81.2M294.9 95.6L285 75.9M324.7 118.1L321.1 109.4M292 87.4L285 75.9M274.1 79.5L286.1 95.2M259.8 76.3L275.3 80.7M287.5 81L291.7 91.8M338.1 95.7L323.6 115.5M323.9 99.2L318.5 85.1M289 114.7L303.3 110.3M306 105.2L309.4 99.1M321.1 88.4L315.5 91.1M310.7 120.5L307.7 100.2M318.7 107.8L303.3 110.3M306.7 95.5L284.2 104.5M252.2 73.5L269 108.2M279.3 108.8L275.6 111.4M249.6 79.6L263 105.3M300.3 120.9L319.8 99.3M244.7 102.9L253.7 98.7M273.9 112.3L292.3 95M317.2 111.2L319.6 114.6M296.6 127L326.5 91.1M289.8 82.7L301.7 74.7M239.8 100.9L292.1 91.4M306.7 100.7L302.2 126.1M309.4 103.1L300.6 92.5M278.8 87.9L260.3 83.4M305.2 86.3L320.7 95.2M343.2 102.4L288.4 71.7M257 91.8L266.4 70M299.9 117L284.9 119.3M294.5 120.7L279.7 88.3M310 83.3L300.6 92.5M254.1 80.9L263 105.3M299.3 115.1L310.6 120.8M261.6 111.7L258.8 117.6M244 95.7L292.1 91.4M310.7 93.1L299.5 69.3M288.7 130.1L297.7 86M266.7 108.9L291.7 91.8M248.5 102.2L284 81.2M262 113L291.5 127M275.8 118.8L318.5 85.1M328.2 75.3L330.3 81M252 104.5L259.8 86.5M294.7 99.1L300.2 113.5M254.1 80.9L244.1 91.1M312.5 110.8L284.9 119.3M262.9 105L275.3 80.7M275.7 116.4L274.7 117M247.7 95.2L263.9 97.4M255.1 94.4L258.8 117.6M266.4 109.7L263 105.3M245.5 111.5L281.5 81M334.6 99.4L281.7 129.3M253.6 103.7L284.8 118.3M337.8 109.7L311.7 98.4M293.3 126L291.3 120M286.3 74.3L299.7 84.2M279.1 129.9L280.2 119.5M304.8 71.6L315.6 73.3M314.9 67.4L330 89M340.1 94.5L336.9 96.1M321.2 113.8L307.2 121.6M306.3 123.3L280.4 116M329.9 92.4L312.4 88.2M326 76.5L330.9 87.5M311 97.9L313.9 90.2M286.1 109.5L291.8 99.9M281 91.3L283 96.9M321.9 72L328.6 103.9M310.7 120.5L307.2 121.6M308 111L297.8 101.6M280.1 107.8L282.9 114.6M258.2 68.1L242.9 96.3M319.9 73.9L313.9 90.2M303 95.1L300.6 92.5M292.7 73.3L299.5 69.3M277.1 126.9L269 108.2M238.4 90.2L286.3 68.6M247.5 96.1L265.9 87.7M249.7 100.8L253.7 98.7M258.7 122L286 67.5M323.1 119.8L300.8 113.3M284.2 68.9L304.7 79.4M269.2 80.2L242.9 96.9M288.8 122.7L292.1 91.4M261.2 93.1L260.3 83.4M255.8 117.3L283 96.9M291.7 115.3L310.6 120.8M311.9 68.4L316 118.4M296.2 110.7L309.4 99.1M299.2 129.3L315.5 88.3M243.7 103.3L284.8 118.3M257.6 96.7L289.8 106.4M267 113.5L291.5 127M246.4 99L274.4 78.1M255.9 98.2L291 102.7M269.7 80.1L279 67.8M282.9 96.1L299.7 84.2M291.8 72.9L330 89M272.6 83.3L253.7 98.7M336.1 110.8L336.8 89.3M257.8 110.8L269 108.2M317 104.8L321.1 109.4M307.8 124.5L269 108.2M287.4 76.5L283 96.9M281.1 78.1L291.8 99.9M294 78.2L277.6 66.3M328.3 98.3L317.2 74.7M296.4 89.2L316.2 92.8M280.3 86L266 100.1M307.3 101.9L290 94.2M323.3 98.6L295.5 75.6M280.2 94.9L305.2 72.7M241.9 94.6L284.2 104.5M336.1 103.6L322.9 84.7M251.5 92L281.5 81M293.6 88.2L294.7 68.7M291.9 116.5L258.8 117.6M341.4 84.1L300.6 92.5M272.2 105.7L257.3 107.4M318.6 121.1L327.9 101.2M299.1 129.2L312.6 116M295.3 107L283 96.9M314.9 121.6L315.5 88.3M298.7 71.2L330.3 81M275.9 116.9L315.6 73.3M313.9 105.2L300.2 113.5M278.8 68.8L294.7 68.7M305.5 64.3L318.5 85.1M266.8 127.8L284.8 118.3M315 110.2L312.6 116M270.5 77.9L257.9 84.5M325.9 108.1L310.7 93M304.1 74.7L307.3 70.2M315.1 84.2L315.5 88.3M293.5 75.4L266 75.8M254.8 75.2L291.7 91.8M283.5 114L280.4 116M275 112.7L282.2 96.1M271.9 114.9L290 96.4M322.3 118.2L303.4 113.6M260.2 85.9L265.9 87.7M276 82.9L283 96.9M291.1 88.8L305.2 72.7M293 133.4L281.1 124.7M283.2 61.5L326.8 84.3M314.5 113.4L307.2 121.6M307.4 91.7L319.1 80.3M266.8 107.9L256.8 93M306 105.2L300.2 113.5M274.6 86.5L276.7 92.3M336.5 94.9L263.6 87.4M294.7 66.5L311.1 91.5M265.2 99.6L286.8 112M286.2 89.5L266 75.8M292.2 131.4L319.6 114.6M285.5 69.8L290.9 84.5M292.9 127.4L291.8 99.9M260.5 80.5L290.1 68.3M294 69.8L330.3 81M308.4 118.9L338.4 99.1M255.4 77.5L294.6 71M290.4 65.3L291 102.7M309.9 62.7L305.2 72.7M273.3 67.7L290.9 84.5M265.3 67.3L242.9 96.3M264.3 63.3L299.6 94.3M245.9 92.3L290.9 84.5M319.9 96.8L282.2 96.1M326.1 117.8L291.8 99.9M329.4 103.1L310.6 120.8M318.7 70.3L316 118.4M244.5 101.4L286.8 112M328.2 96.5L303.3 110.3M304 128.5L253.9 108.9M325.8 86.1L307.7 100.2M284.5 130.8L270.2 104.5M328.6 111.7L292.2 67.5M294.7 99.1L288.4 71.7M305.5 64.3L266.4 70M276 121.4L286.1 95.2M338.7 104.9L327.9 101.2M252.5 73.6L265.1 93.7M309.3 92.3L328.6 103.9M337.1 85.8L323.6 115.5M336.3 109.4L338.4 99.1M333.8 83.6L299.5 69.3M290.4 84.2L291.8 99.9M247.2 95.6L299.6 94.3M313.8 68.1L279.8 67.4M272.7 125.7L292.3 95M253.9 77.9L260.6 73.4M328 83.7L295.4 96.7M273.3 76.7L260.6 73.4M321.8 77.9L286 67.5M306.7 100.7L286.1 95.2M314.7 97.3L307.7 100.2M248.7 98.9L263 105.3M292.7 130.2L318.6 117.7M255.5 103.4L274.7 117M247 101.5L281.1 124.7M340.3 103.2L304.7 79.4M256.4 95.8L260.3 83.4M261 84.7L270.2 104.5M298.9 129.9L309.5 87.5M261.1 90.7L284.2 104.5M276 90.6L291.8 99.9M265.2 124.1L284.8 118.3M255.9 98.2L290.1 68.3M264.2 92.4L315.5 91.1M273.2 97.3L280.7 127.3M287.7 102.9L292.3 118.3M341.6 86.3L326.5 91.1M276.7 66.1L286.3 68.6M242.9 107.7L289.8 106.4M297.2 76.4L263.6 87.4M321.3 110.4L292.1 91.4M319.7 80L290.1 68.3M319.1 90.9L292.2 67.5M254.2 86.1L264.5 103.2M274.6 86.5L283 96.9M291.2 68.4L294.7 68.7M291.4 98.5L297.8 101.6M257.9 103.3L286.1 95.2M312.8 82.1L294.6 71M299.8 106.3L292.3 95M308.8 81L294.3 111.6M266.3 105.1L258.8 117.6M309 86L321.1 109.4M291.4 129.1L257.9 84.5M310.9 85.1L312.4 88.2M290.1 90.4L285 75.9M254.5 109.4L253.7 98.7M280.6 116.6L280.2 119.5M271.2 103.2L283 96.9M342.6 101.9L289.8 123M264.9 72.1L279 67.8M297.5 119.6L291.7 91.8M274.4 102.1L265.1 93.7M245.1 96.4L257.9 84.5M282.4 117.7L274.7 117M332.4 102.8L328.6 103.9M298 116.6L275.5 117.1M338.3 85.1L313.9 90.2M250.7 96.3L286.1 95.2M308.5 94.3L311.1 91.5M239.3 94.6L260.6 73.4M302.5 73.5L279 67.8M266.6 81.9L284.8 118.3M280.8 80.6L304.7 79.4M321 79.1L313.9 90.2M297.9 131.2L289.8 123M290.6 66.7L278.3 73.4M267.8 67.7L285 75.9M293.4 87.4L292.1 91.4M248.3 77.9L279 67.8M254.9 77.9L270.2 104.5M291.2 127.2L291.5 127M243.4 87.2L269 108.2M302.3 117.3L275.6 116.2M306.3 115L299.6 94.3M346.4 95.7L291.8 99.9M294.3 119.8L284.9 119.3M274.1 79.5L264.5 103.2M246.9 99.9L275.6 111.4M289.8 82.7L316.6 69.4M331.9 96.3L276.8 99.6M257.6 96.7L244.5 99M272.5 106.3L300.2 113.5M252.4 75.3L265.1 93.7M305.8 84.1L290.9 84.5M325.6 101L294.6 71M276.2 127.2L309.4 99.1M290.2 79.9L315.6 73.3M293.4 78.1L276.8 99.6M263.2 117.4L266 100.1M285.4 131.4L295.5 75.6M284.9 98.4L299.6 94.3M259 84.6L300.6 92.5M305.5 117.1L320.7 95.2M295.2 71.2L299.7 84.2M291.8 68.9L322.9 84.7M305.9 97.8L299.6 94.3M320 108.6L330 89M326 76.5L299.7 84.2M244.7 96.1L280.4 116M280.7 117.3L266 100.1M330.3 102.4L315.5 88.3M283 69.7L291.3 80.5M314.5 103.1L315.5 91.1M312 100.2L318.4 86M337.1 110.8L320.7 95.2M277.9 116L292.3 118.3M275.7 66.1L295.5 75.6M285.8 123L272 113.1M296.7 108L303.4 113.6M291.3 70.3L281.5 81M301.5 121.7L270.2 104.5M319.1 96.9L316 118.4M310.4 106L280.4 116M301.9 61.2L319.1 80.3M339.9 96.2L289.8 106.4M291.2 108.4L284 81.2M276.7 83.7L259.8 86.5M299.9 63.2L322.9 84.7M281.2 110.4L281.5 81M292.2 131.4L258.8 117.6M302.7 77L301.7 74.7M242 91.7L242.9 96.3M322.1 81.1L307.5 111.6M267.9 64.1L286.1 95.2M262 74.7L266.6 72.8M291 58.1L291.3 80.5M291.3 89.2L270.9 85.8M275.1 61.5L266.6 72.8M332.9 107.8L300.2 113.5M313.5 91.2L294.7 68.7M314.5 103.1L312.6 116M319.6 100.6L300.1 85.3M246.1 104.6L265.9 87.7M275 121.1L253.9 108.9M291.2 135.2L303.4 113.6M295 124.9L294.7 100.7M292.7 130.2L310.6 120.8M297.3 119.7L305.2 72.7M273.9 89.7L303.3 110.3M302.3 96.6L279.7 88.3M254.5 109.4L242.9 96.3M288 72.2L315.5 91.1M320.9 100.2L323.6 115.5M255.7 97L299.5 69.3M293.6 98.9L295.5 75.6M294.8 113.1L311.1 91.5M299.2 129.3L283 96.9M305.6 116.7L303.3 110.3M324 106L307.2 121.6M263.2 103.8L266 75.8M322.7 119.6L295.4 96.7M248.8 108.5L260.3 83.4M248.5 89.1L253.9 108.9M260.4 110.1L297.8 101.6M283 69.7L261.7 80.9M279.3 112L271.3 116.9M262.8 118.6L303.4 113.6M328.1 82.6L284 81.2M324.1 80.6L327.9 101.2M261.2 93.1L266 75.8M325.5 88.1L283 96.9M268 75.9L266.6 72.8M317.2 111.5L302.2 126.1M261.5 126.7L258.8 117.6M323.1 110.1L326.8 84.3M322.1 94.9L294.7 68.7M336.2 107.5L313.9 90.2M336.9 92.1L336.8 89.3M328.6 86.5L297.4 69.1M291 111.2L272 113.1M339.2 83.2L307.5 69.3M242.8 98.7L242.9 96.3M298.3 82.4L318.4 86M307.3 99.4L309.5 87.5M273.2 89.3L268.6 110.9M300.9 93.4L291 102.7M305.5 94.5L283 96.9M291.7 64.5L297.4 69.1M250 97L276.7 92.3M288.1 68L274.4 78.1M281.8 61.8L264.5 103.2M262.7 70.1L286 67.5M283.8 82.5L261.7 80.9M283.8 65.1L279.8 67.4M286.8 88.1L291 102.7M285.6 92.2L288.4 71.7M320.6 75.3L318.4 86M330.6 97.9L313.9 90.2M284.2 69.7L286.1 95.2M305.7 72L305.2 72.7M266.3 71.3L276.7 92.3M259 92L294.7 68.7M297.3 63.5L310.7 93M264.6 119.1L280.2 119.5M325.6 105.1L317.2 74.7M263.6 66.5L266.6 72.8M239.2 95.6L244.1 91.1M333.5 106L318.6 117.7M335.7 102.4L315.6 73.3M293 68.4L285 75.9M326.5 79.6L315.6 73.3M248.8 89.5L259.8 86.5M307.1 65.9L299.7 84.2M296.2 116.5L307.2 121.6M281.7 99.7L291.3 120M290.6 87.5L295.4 96.7M258.7 99.1L257.2 87.6M330.4 104.5L291.8 99.9M287.3 119.2L266 100.1M264.6 123.6L286.1 95.2M327.6 113.9L268.6 110.9M323.5 95.9L311.5 72M289 131.4L281.5 81M317.1 106.2L319.6 114.6M286.1 114.8L289.8 106.4M312.2 120.9L291.3 120M261.9 91.8L274.7 117M252.8 111.2L256.8 93M304.5 85.6L292.3 95M312.5 74.2L290.1 68.3M292.1 71.6L311.5 72M265.5 72.7L282.2 96.1M313.5 129.1L336.8 89.3M330.1 89.8L336.9 96.1M249.4 110.4L268.6 110.9M331.3 95L292.3 95M290.4 85.5L292.1 91.4M284.6 126.6L265.3 97.7M278.2 114.2L292.1 91.4M287.6 85.5L292.1 91.4M261.9 90.2L278.3 73.4M287.6 85.5L288.4 71.7M246.4 89.2L247.5 89.2M265.9 121.5L284.8 118.3M279.6 84.5L290.1 68.3M291.2 127.2L280.4 116M319.6 76.5L315.5 88.3M314.9 76.9L291.7 91.8M290.2 68.8L290 96.4M294.5 114.5L269 108.2M256.4 76.3L244.5 99M305.2 100.9L300.1 85.3M291.4 98.5L291.8 99.9M310 123.3L291.3 80.5M324 103.8L319.1 80.3M251.1 85.7L271.3 116.9M285.6 65.6L285.6 95.4M243.6 89.6L257.9 84.5M292.9 135.8L321.1 109.4M266.3 75.8L257.2 87.6M294 68.7L307.3 70.2M320.6 94.2L282.2 96.1M274.1 101.2L257.3 107.4M275.3 72.5L275.3 80.7M261.9 117.9L280.4 116M257.9 103.3L275.6 116.2M296.4 74.2L286.1 95.2M313.4 65.1L282.2 96.1M293.8 132.9L295.4 96.7M317.3 101L310.7 93M250.8 102.3L259.8 86.5M315.6 124.1L318.6 117.7M291.7 87.3L304.7 79.4M258.5 97.4L286.3 68.6M325.5 77.6L276.7 92.3M325.4 117.4L284.2 104.5M315.2 85.9L322.9 84.7M332 85.3L317.2 74.7M338.8 89L286.8 112M245.1 96.4L277.6 66.3M280.9 73.4L281.5 81M271.6 86.3L300.8 113.3M241.9 94.6L279 67.8M336 108.2L318.6 117.7M333.5 106L330.3 81M295.8 91L291.3 80.5M294.3 71.2L330.3 91.9M306.5 128.7L316 118.4M245.3 107L289.8 106.4M321.4 118.2L326.8 84.3M286.5 97.4L290 94.2M291.5 57L290.1 68.3M307.6 127.3L294.1 119.8M262.9 75.6L260.3 83.4M259.1 81.9L270.9 85.8M311.4 94.4L299.6 94.3M338.3 108.3L307.7 100.2M301.4 93.5L294.6 71M333.8 83.6L330.3 81M260.1 97L271.3 116.9M246.3 102.7L278.3 73.4M321.1 88.4L301.7 74.7M339.5 83L276.8 99.6M296.3 59.8L318.4 86M320.5 95.8L303.3 110.3M316.5 93.8L316.2 92.8M336.2 107.5L338.4 99.1M320.6 95.2L294.7 100.7M332.1 114.2L323.6 115.5M297.2 76.4L266 75.8M258 73.7L297.8 101.6M291.2 104.7L292.1 91.4M289.2 125.7L276.7 92.3M268.9 65L283 96.9M264.5 101.6L266 100.1M309.5 84.2L330.3 81M317.2 83.2L309.5 87.5M291 105.3L291 102.7M284.3 129.6L299.7 84.2M301.1 106.1L311.5 72M336.7 82.1L319.8 99.3M271 82.8L244.5 99M266.5 102.8L294.6 71M298.1 119.8L292.1 91.4M334.3 94.9L311.7 98.4M297.2 121.1L298.1 103.5M283.1 73.1L278.3 73.4M241.3 94.4L274.4 78.1M311.2 103.2L318.6 117.7M280 113.5L280.4 116M260 80.2L247.4 98.3M262.3 95.9L294.7 68.7M328.6 86.5L318.4 86M308.4 81.9L283 96.9M311.6 95.2L294.3 111.6M307.1 64.5L292.2 67.5M275.7 62.9L286.3 68.6M319.1 96.9L318.5 85.1M273.6 69.5L284 81.2M279.5 98.6L275.6 116.2M258 73.7L279.7 88.3M252.1 97.5L258.8 117.6M302.2 101.7L280.2 119.5M338.9 98.1L290 94.2M249.1 82.7L256.8 93M297.8 99.9L310.7 93M302 88.3L318.5 85.1M247.3 84.7L291.3 120M278.5 129.1L291.3 120M302.1 66.9L316.6 69.4M290.1 57.7L283 96.9M309.6 118.8L280.7 127.3M253 117.4L269 108.2M269.1 99.9L266 100.1M246.4 100.5L265.1 93.7M276.2 102.7L279.7 88.3M322.3 98.8L309.5 87.5M316.9 68L330.3 91.9M331.9 91.8L318.4 86M269.7 129.6L307.5 112.8M324 73.9L320.7 95.2M319.3 90.1L321.6 73M297.5 127.3L280.4 116M254.2 108.1L263.9 97.4M256.7 84L266.4 70M298.7 61.4L304.7 79.4M265.8 66.2L291.7 91.8M296.9 66.5L282.2 96.1M298.3 103.8L291.8 99.9M285 60.3L290.1 68.3M262.1 87L265.1 93.7M250 86.8L278.3 73.4M276.7 83.7L279 67.8M302.2 106.6L294.1 119.8M255.5 103.4L282.9 114.6M305.4 64.8L286.1 95.2M257.7 101.7L300.2 113.5M316.3 86.5L327.9 101.2M284.6 126.6L322.9 84.7M281.1 76.2L297.7 86M268.1 80.1L263.6 87.4M272.4 107.4L294.1 119.8M311.7 80.3L292.1 91.4M312.6 94.6L294.1 119.8M332 85.3L289.8 123M338.8 89L290.9 84.5M257.8 84L269 108.2M264.6 71.4L257.9 84.5M273.2 89.3L279 67.8M303.4 107.2L311.7 98.4M294.3 83.9L315.5 91.1M273.7 67L266.6 72.8M288.9 121.1L275.6 116.2M280.2 94.9L291.7 91.8M262.8 118.1L290 96.4M345.6 96.6L282.2 96.1M282.6 60.9L315.5 88.3M257.5 118.6L253.9 108.9M247.7 95.2L286.1 95.2M283.5 64.2L292.2 67.5M257.8 110.8L268.6 110.9M277.1 87.6L313.9 90.2M299.2 63.5L326.8 84.3M293.9 69.8L290.1 68.3M335.7 91.5L297.8 101.6M333.9 95.8L309.5 87.5M281.1 76.2L275.6 111.4M287.7 104.8L307.5 112.8M317.2 95.6L319.6 114.6M243.5 105.3L282.2 96.1M244.2 92.3L265.3 97.7M307.4 78.6L311.5 72M301.9 85.6L298.1 103.5M273.5 70.2L292.2 67.5M322.4 92.5L276.8 99.6M252.2 97L285 75.9M270.9 79.1L274.4 78.1M330.6 99.2L322.9 84.7M320.1 74.1L301.7 74.7M338.7 99.1L295.5 75.6M294.7 130.2L315.4 114.1M290.3 69.8L311.7 98.4M266.7 104.9L265.1 93.7M262.9 105L297.8 101.6M255.8 98.1L268.6 110.9M248.3 99.4L271.3 116.9M299.5 59.3L301.7 74.7M284.2 73.3L276.8 99.6M280.7 69.4L291 102.7M303.1 111.7L284.2 104.5M293.7 67.8L311.7 98.4M293.8 76.3L318.5 85.1M284 73.9L281.5 81M296.7 102.5L265.9 87.7M295.5 126.4L304.7 79.4M290.1 90.4L281.5 81M286.3 103.6L303.3 110.3M293.5 96.9L270.2 104.5M245.5 88.6L272 113.1M310.8 66.3L286.3 68.6M257 91.8L291.3 80.5M342.5 96.3L291.5 127M251.6 102.7L257.2 87.6M310.1 112.1L307.5 112.8M304 124.6L315.6 73.3M319.5 92.6L323.6 115.5M279.1 73.1L309.4 99.1M274.2 73.4L290 94.2M307.8 124.5L300.8 113.3M313.4 95L337.4 91.4M304.1 58.9L266 75.8M281.2 110.4L275.5 117.1M249.6 77.9L261.7 80.9M336.2 107.5L284.8 118.3M299.7 68.9L278.3 73.4M270.2 97.5L263 105.3M305.8 101.3L292.3 118.3M286.1 73.5L265.4 96.9M294.3 71.2L315.6 73.3M281.4 74.6L278.3 73.4M284.3 104.7L297.7 86M262.9 103.4L291.8 99.9M338.7 99.1L316.2 92.8M339.3 88.2L295.5 75.6M305.8 84.1L297.8 101.6M290.6 87.5L294.7 68.7M329.6 104.6L336.8 89.3M312.4 103.1L291.3 80.5M267.9 105L297.8 101.6M262.8 118.6L263 105.3M287.3 120.9L253.9 108.9M275.4 118.2L318.6 117.7M267.8 72.5L286.3 68.6M280.8 131L284 81.2M274.1 124.9L310.6 120.8M280.7 117.3L294.3 111.6M246.4 82.6L303.3 110.3M333.8 108.9L312.4 88.2M282.1 127.7L302.2 126.1M277.2 81.4L292.3 95M328.5 82.8L264.5 103.2M284 96.1L280.4 116M297.5 99.5L299.6 94.3M291.9 116.5L291.3 120M308 69.1L307.5 111.6M335.1 90.2L319.6 114.6M243.6 89.6L257.9 84.5M330.6 99.2L322.9 84.7M274.7 84.5L281.5 81M267 81.8L281.5 81M241.6 101.1L266.6 72.8M320.4 70.4L317.2 74.7M325.8 98.4L327.9 101.2M332.9 89.4L330.3 81M299.4 78.9L316.6 69.4M307.2 81.9L292.2 67.5M250.6 116.8L265.9 87.7M271.9 77.4L274.4 78.1M315.1 84.2L297.7 86M325.5 77.6L334.1 86.7M327.4 100.9L330.3 91.9M258.8 98L253.7 98.7M264.1 91.8L265.4 96.9M254 96.3L263.6 87.4M300.9 79.9L284 81.2M286.1 73.5L284 81.2M284.3 57.5L294.6 71M279.3 82.2L278.3 73.4M287.9 70.1L318.5 85.1M324.3 70.4L334.1 86.7M268.4 73.6L300.6 92.5M256.5 75.8L290 96.4M325.8 91.5L330.3 91.9M320.4 108.9L330 89M251.3 88.4L257.2 82M324.2 90.9L297.7 86M343 94.7L309.4 99.1M339.9 96.2L328.6 103.9M272.2 91.3L292.3 95M283.9 130.4L265.9 87.7M306 105.2L319.6 114.6M328 78.1L300.1 85.3M298 116.6L291.3 120M263.1 88.4L257.2 82M320.5 92L300.1 85.3M241.5 97L253.9 108.9M274.8 128.9L275.6 116.2M261.2 70.5L299.7 84.2M258.8 98L263.6 87.4M310.1 94L292.3 95M296.4 115.6L292.3 118.3M293.2 109.7L315.5 88.3M275.2 96L265.3 97.7M255.5 90.7L278.3 73.4M297.3 63.5L307.5 69.3M327.4 103.2L290 94.2M247.5 103.3L266 100.1M310.5 93.7L311.7 98.4M283 81.9L247.5 89.2M283.1 63L278.3 73.4M338.9 102.7L307.7 100.2M311.9 118.6L294.7 100.7M330.1 98.7L291.3 120M261.2 122.2L290 94.2M321.2 113.8L310.7 93M248.6 111.6L260.3 83.4M256.4 95.8L275.5 117.1M303.1 118.1L300.8 113.3M288.3 103.2L263.9 97.4M298 62.2L316.2 92.8M310.7 79.9L300.6 92.5M326.2 111.7L309.5 87.5M293 66.3L299.6 94.3M330.4 108.5L319.8 99.3M265.7 116.8L284.9 119.3M296.9 61L259.8 86.5M246.2 92.5L275.5 117.1M257.8 73.6L279.7 88.3M281.8 62.9L299.7 84.2M332.1 114.2L336.8 89.3M241 100.2L263.9 97.4M290.1 90.4L274.7 117M322.6 66.4L286.8 112M297.4 96.4L281.5 81M299.2 63.5L298.1 103.5M238.8 94.9L266.6 72.8M309.4 100L322.9 84.7M323.9 99.4L326.5 91.1M315.2 89.7L311.1 91.5M276.3 94.2L276.7 92.3M279.7 65.9L266 75.8M305.7 107.8L311.5 72M285.2 115.5L289.8 106.4M292.1 69.2L299.5 69.3M253 79.4L244.5 99M273.8 103.3L265.4 96.9M278.7 131.5L291.5 127M275.2 71.9L278.3 73.4M336.9 92.1L307.5 69.3M244.5 81.6L291.3 120M324.9 106L327.9 101.2M251.1 85.7L257.2 87.6M247.1 84.5L265.4 96.9M291 63.8L307.7 100.2M278.8 121.9L272 113.1M336.6 89.8L276.8 99.6M328.5 82.8L318.5 85.1M299.1 62.5L315.5 88.3M326 76.7L312.4 88.2M291.1 127.3L291.5 127M283.5 114L291.7 91.8M337.4 101.6L331.3 95.8M276.6 103.4L242.9 96.3M245.9 107.6L290 94.2M310.7 120.5L286.1 95.2M313.2 79.8L334.1 86.7M283.5 85.1L278.3 73.4M320.3 69.7L328.6 103.9M339.2 83.2L303.4 113.6M277.6 130.6L284.8 118.3M298.2 61.2L305.2 72.7M268.1 80.1L259.8 86.5M313 86.8L299.6 94.3M321 79.1L305.2 72.7M268.1 116.3L290.9 84.5M260.2 74L297.7 86M272.7 125.7L302.2 126.1M299.4 78.9L291.8 99.9M310.7 96.7L309.5 87.5M320.3 99.3L299.5 69.3M291.2 63.7L286.1 95.2M312.3 63.3L304.7 79.4M275.7 116.4L283 96.9M247.8 107.6L299.7 84.2M339.7 90.1L312.4 88.2M289 131.4L294.7 100.7M282.6 60.9L330.3 81M323.8 86L330.3 91.9M300 68.3L290.1 68.3M318.6 89.1L294.3 111.6M292.6 55.4L260.6 73.4M317.7 81.7L312.4 88.2M284.5 115.4L297.8 101.6M284.7 116.2L303.3 110.3M321.9 112.3L274.4 78.1M313.9 104.2L291 102.7M283.5 85.1L299.7 84.2M327.8 116.2L317.2 74.7M282 120.4L275.6 116.2M288.6 78.4L301.7 74.7M317.9 69.5L307.3 70.2M239.4 95.6L260.3 83.4M258.2 68.1L276.8 99.6M264.9 96.8L283 96.9M246.3 102.7L312.4 88.2M294.7 116.2L282.2 96.1M296.6 127L315.5 88.3M321.9 79.8L330.3 91.9M292.6 92.4L311.7 98.4M304.8 118.5L295.4 96.7M325.5 77.6L291.3 80.5M326 76.5L319.1 80.3M291.8 86.7L263 105.3M337.2 103.3L311.7 98.4M320.4 70.4L291.7 91.8M304.8 87.8L291.7 91.8M297 78.4L318.4 86M302.3 112.1L291 102.7M304.9 97L322.9 84.7M296.6 125.4L263 105.3M316 120.9L300.8 113.3M306.6 105.7L319.8 99.3M295.8 84.7L297.8 101.6M316.3 91.5L309.4 99.1M276.3 73L257.3 107.4M317.5 76L316.2 92.8M317.2 95.6L327.9 101.2M289.8 63.5L285 75.9M288.4 115.4L315.4 114.1M298.7 61.4L318.4 86M268.8 113.7L270.9 85.8M243.6 89.6L295.5 75.6M325.3 88.2L290 94.2M253.4 88.6L289.8 106.4M337.5 95.6L315.5 88.3M276 87.7L276.7 92.3M291 57.8L320.7 95.2M279.4 96.6L266 100.1M285.7 127L269 108.2M278.7 81L295.5 75.6M280.3 111.9L274.7 117M294.6 129.1L283 96.9M302.7 131.6L315.5 91.1M281.5 131.7L292.1 91.4M307.6 101.2L290 96.4M313.3 117.9L294.3 111.6M260.5 96L244.5 99M307.4 91.7L291.7 91.8M296.1 100.4L290 96.4M302.7 82.3L290 96.4M341.1 91.2L297.4 69.1M296.9 67.9L265.4 96.9M322.2 80.3L318.5 85.1M255.5 103.4L294.1 119.8M297.5 99.5L286.1 95.2" fill="none" stroke="#3a4248" stroke-opacity="0.25" stroke-width="0.45"/>
<path d="M351.2 99.7L307.8 96.6M339.3 100.9L307.8 96.6M360.1 99.1L307.8 96.6M342.2 104.6L307.8 96.6M350.3 105.4L307.8 96.6M356.1 97L307.8 96.6M354.5 100.7L307.8 96.6M347.8 99L307.8 96.6M341.9 100.7L307.8 96.6M357.1 100.2L307.8 96.6M361.9 99.7L307.8 96.6M347.7 103.1L307.8 96.6M344 102.1L307.8 96.6M258.5 125.8L271 107.5M254.8 128.6L271 107.5M243.7 120.1L271 107.5M240.6 128.1L271 107.5M247.4 123.9L271 107.5M286.6 57.7L288.4 73.4M282.9 53.4L288.4 73.4M283.2 35L288.4 73.4M284.1 41.3L288.4 73.4M278.9 47.8L288.4 73.4M284.5 36.4L288.4 73.4M284.7 35L288.4 73.4M285 54.3L288.4 73.4M277.5 34.6L288.4 73.4M286.1 55L288.4 73.4M279.7 43.2L288.4 73.4M286 60.6L288.4 73.4M286.7 36.9L288.4 73.4M283 37.6L288.4 73.4M362.8 75.7L326 89.6M344.3 82.1L326 89.6M337.1 82L326 89.6M354.8 76.3L326 89.6M355.1 80.7L326 89.6M346.1 77L326 89.6M347.2 79.1L326 89.6M359.1 80.3L326 89.6M353.7 73.4L326 89.6M336.1 80.8L326 89.6M348.9 74.6L326 89.6M337.9 85.3L326 89.6M336.4 77.9L326 89.6M348.3 79.3L326 89.6M250.6 126.4L262.1 112.5M251.7 123.4L262.1 112.5M241.6 131.5L262.1 112.5M253.5 120.6L262.1 112.5M251.9 128.4L262.1 112.5M244.3 134.2L262.1 112.5M279.8 133.7L280.1 124.4M269.5 134.5L280.1 124.4M273.5 148.6L280.1 124.4M273 143.8L280.1 124.4M325.3 56.5L314.4 76.1M314.2 61.8L314.4 76.1M324.3 63.3L314.4 76.1M318 65.9L314.4 76.1M338.7 46.8L314.4 76.1M334.5 53.5L314.4 76.1M315.9 60.3L314.4 76.1M319.4 54.4L314.4 76.1M328.6 59.2L314.4 76.1M327.6 56.2L314.4 76.1M326.6 53.7L314.4 76.1M321.8 67.8L314.4 76.1M311.6 62.5L314.4 76.1M319.5 54.8L314.4 76.1M331.1 44.7L314.4 76.1M327.5 48L314.4 76.1M316.5 59.2L314.4 76.1M323.9 123.1L307.8 104M340.7 134.5L307.8 104M333.7 127.9L307.8 104M329.4 123L307.8 104M340.7 122.2L307.8 104M321.9 127.7L307.8 104M342.8 123L307.8 104M344.8 120.7L307.8 104M334.7 122.7L307.8 104M332.5 135.4L307.8 104M329.7 121.4L307.8 104M331.5 129.3L307.8 104M340.9 135.1L307.8 104M257.9 70.2L274.9 87.7M240.4 66.7L274.9 87.7M263.4 67.6L274.9 87.7M243.7 56.4L274.9 87.7M248.1 59.1L274.9 87.7M251.5 68.4L274.9 87.7M241.3 60.7L274.9 87.7M248.5 60.2L274.9 87.7M254.4 69.6L274.9 87.7M256.3 68L274.9 87.7M253.5 66.2L274.9 87.7M253.6 65.2L274.9 87.7M241.3 60.6L274.9 87.7M278.9 51.7L283.7 66.6M278.5 53.7L283.7 66.6M279.9 56.4L283.7 66.6M275.8 40.7L283.7 66.6M281.1 34.8L283.7 66.6M281.5 61.1L283.7 66.6M282.7 61L283.7 66.6M283.1 55.3L283.7 66.6M275.4 57L283.7 66.6M278.9 34.5L283.7 66.6M280.7 58L283.7 66.6M278 41.4L283.7 66.6M276.7 40.2L283.7 66.6M334.7 136.2L314.2 113.1M320.8 124.5L314.2 113.1M330.6 143.5L314.2 113.1M332.8 139.6L314.2 113.1M325.8 126L314.2 113.1M314.6 125.7L314.2 113.1M327.9 134.6L314.2 113.1M324.6 126.3L314.2 113.1M345.5 137.3L314.2 113.1M317.9 127.8L314.2 113.1M329 139.4L314.2 113.1M331.8 142.7L314.2 113.1M287.7 46.9L289.8 69.2M284.7 61.5L289.8 69.2M289.4 56.3L289.8 69.2M281.8 34.4L289.8 69.2M289.3 59.4L289.8 69.2M295.7 41.7L289.8 69.2M287.1 59.2L289.8 69.2M283.5 34.9L289.8 69.2M299.2 38.1L289.8 69.2M290.6 48.6L289.8 69.2M286.6 60.2L289.8 69.2M286 34.5L289.8 69.2M288.8 56.8L289.8 69.2M287 53.4L289.8 69.2M287.5 58.2L289.8 69.2M233.5 76.7L269.5 94.4M232.6 79.2L269.5 94.4M245.3 84.1L269.5 94.4M241.8 80.7L269.5 94.4M235.3 82.8L269.5 94.4M245.2 83.7L269.5 94.4M240.1 90.7L269.5 94.4M237.4 84.7L269.5 94.4M233.1 92.8L269.5 94.4M241.8 94.7L269.5 94.4M286 39.6L288.5 82M278.2 50.6L288.5 82M286.8 59.3L288.5 82M279.8 35.5L288.5 82M269.6 38.4L288.5 82M277.6 40.6L288.5 82M277.1 59.3L288.5 82M274.5 40.9L285.6 76.2M281.6 54.4L285.6 76.2M281.8 59.8L285.6 76.2M283.7 58.4L285.6 76.2M277.9 51L285.6 76.2M278.2 46.3L285.6 76.2M282.4 52L285.6 76.2M278.1 45.1L285.6 76.2M275.4 39.6L283.4 74.3M272.3 43.7L283.4 74.3M282.2 60.6L283.4 74.3M274.8 38.9L283.4 74.3M276.7 63.7L283.4 74.3M278.6 61L283.4 74.3M277.2 59.9L283.4 74.3M276.9 34.1L283.4 74.3M275.4 37.6L283.4 74.3M264.2 39.2L283.4 74.3M278 56.9L283.4 74.3M273.3 59.3L283.4 74.3M281.8 61.6L283.4 74.3M274.4 55.2L283.4 74.3M269.3 43.8L283.4 74.3M276.6 49.4L283.4 74.3M337.4 61.3L321.7 81.2M336.7 59.8L321.7 81.2M348.2 54.8L321.7 81.2M324 67L321.7 81.2M325.5 68.4L321.7 81.2M333.6 59.4L321.7 81.2M332.9 60L321.7 81.2M327.7 65.1L321.7 81.2M337.6 65L321.7 81.2M328.7 59.8L321.7 81.2M343.4 58.9L321.7 81.2M340.3 66.5L321.7 81.2M351.2 61.1L321.7 81.2M325.1 61.8L321.7 81.2M324.9 68.1L321.7 81.2M346 56.5L321.7 81.2M277.7 132.3L279.2 116.4M265.2 150.8L279.2 116.4M279.7 130.2L279.2 116.4M281.1 129.7L279.2 116.4M262.5 148L279.2 116.4M273.5 129.4L279.2 116.4M269 126L279.2 116.4M276.2 145.3L279.2 116.4M270.2 126.2L279.2 116.4M268.5 144.5L279.2 116.4M267.4 142.4L279.2 116.4M257.1 144.7L279.2 116.4M271.8 152.5L279.2 116.4M263.5 139.8L279.2 116.4M234.2 114.9L257.1 102M241 109.7L257.1 102M245.2 109.8L257.1 102M236.8 108.8L257.1 102M242.3 110.8L257.1 102M238.2 110.2L257.1 102M238.5 107.5L257.1 102M240.7 114.2L257.1 102M239.1 115.2L257.1 102M237.4 116.5L257.1 102M347 108.3L322.8 99.1M341 108L322.8 99.1M341.6 105.5L322.8 99.1M356 106.7L322.8 99.1M343 98.4L322.8 99.1M342.6 112L308.2 97.9M361.2 120.5L308.2 97.9M363.6 113L308.2 97.9M349 112.9L308.2 97.9M342.4 109.5L308.2 97.9M365.3 102.5L308.2 97.9M342.5 112.8L308.2 97.9M344.4 103.7L308.2 97.9M343.3 102.8L308.2 97.9M342.8 107.9L308.2 97.9M347.4 112.8L308.2 97.9M302.9 52L299.4 69.8M301.4 54.7L299.4 69.8M303.6 43.9L299.4 69.8M307.9 49.4L299.4 69.8M299.9 59L299.4 69.8M304 38.8L299.4 69.8M307.1 35.8L299.4 69.8M302.2 55.1L299.4 69.8M303.3 54.7L299.4 69.8M304.8 39.6L299.4 69.8M301.3 59.3L299.4 69.8M309.6 47.1L299.4 69.8M308.2 51.6L299.4 69.8M301.6 61.8L299.4 69.8M307.5 39.5L299.4 69.8M304.7 50.9L299.4 69.8M236.2 86.8L261.3 92.8M237.6 91.4L261.3 92.8M246.3 79.9L261.3 92.8M244.7 77L261.3 92.8M240 84.6L261.3 92.8M231.9 84.6L261.3 92.8M233.3 81.4L261.3 92.8M235.7 85.6L261.3 92.8M243.8 84.9L261.3 92.8M238.5 84.4L261.3 92.8M232.4 88.8L261.3 92.8M242.9 86.2L261.3 92.8M240.5 83.5L261.3 92.8M314.9 141L306.3 119.9M307.1 137.4L306.3 119.9M310.9 156.5L306.3 119.9M315.7 144.3L306.3 119.9M233.5 105.8L250.5 99.2M240.1 105.3L250.5 99.2M233.6 105L250.5 99.2M233.5 106.6L250.5 99.2M232.7 104.5L250.5 99.2M232.8 106.2L250.5 99.2M234.8 114.7L250.5 99.2M241.4 102.6L250.5 99.2M232 108.1L250.5 99.2M241.2 103.7L250.5 99.2M240.9 98.2L250.5 99.2M244 74.5L259.1 87.7M235.2 72L259.1 87.7M249 78.2L259.1 87.7M242.2 66.9L259.1 87.7M249.2 73.4L259.1 87.7M252.5 73.1L263.8 86.1M248.2 72.2L263.8 86.1M249.5 66.5L263.8 86.1M248.8 71.6L263.8 86.1M241.8 74.2L263.8 86.1M244.3 67L263.8 86.1M238.6 67L263.8 86.1M252 71.2L263.8 86.1M253.5 73.6L263.8 86.1M246.5 70.7L263.8 86.1M240.9 71.8L263.8 86.1M240.3 61.2L263.8 86.1M245.7 67.7L263.8 86.1M241.9 68.6L263.8 86.1M340.9 128.7L314.7 113.5M320.4 126.1L314.7 113.5M333.4 132.5L314.7 113.5M327.1 134.2L314.7 113.5M331.2 140.7L314.7 113.5M338.5 133L314.7 113.5M340.1 126L314.7 113.5M336.8 140L314.7 113.5M328.8 128L314.7 113.5M330.6 147.4L314.7 113.5M321.2 127.5L314.7 113.5M321.5 131.1L314.7 113.5M337.4 126L314.7 113.5M339 136.9L314.7 113.5M308.4 47.8L296.5 79.6M302.5 56.8L296.5 79.6M303 62.3L296.5 79.6M307.8 51.9L296.5 79.6M310.5 40.2L296.5 79.6M309.7 42.2L296.5 79.6M301 47.3L296.5 79.6M304.5 56.4L296.5 79.6M303.4 62L296.5 79.6M305.1 42.3L296.5 79.6M299.5 62.3L296.5 79.6M301.9 56.5L296.5 79.6M234.8 96.7L253.3 95.9M235.5 92.5L253.3 95.9M242.6 92.8L253.3 95.9M241.3 95.2L253.3 95.9M241.7 99.7L253.3 95.9M243 89.8L253.3 95.9M237.3 91.6L253.3 95.9M236.3 98.8L253.3 95.9M232 94.8L253.3 95.9M242.4 85.1L253.3 95.9M330.6 139.1L303.3 102.8M328.1 119.6L303.3 102.8M342.5 134.4L303.3 102.8M336.1 137.5L303.3 102.8M325.9 121.7L303.3 102.8M331.8 126.7L303.3 102.8M334.9 135.9L303.3 102.8M348.9 129.8L303.3 102.8M335.4 126.5L303.3 102.8M347.7 91.9L332.4 91.9M358.1 91.5L332.4 91.9M359.2 81L332.4 91.9M342.5 67.4L332.4 91.9M348.8 84L332.4 91.9M352.9 83.7L332.4 91.9M361.9 82.1L332.4 91.9M359.5 76.7L332.4 91.9M360.2 84.4L332.4 91.9M343.1 91.7L332.4 91.9M347.6 81.5L332.4 91.9M345.6 84.5L332.4 91.9M341.1 81.6L332.4 91.9M363.6 77.7L332.4 91.9M350.8 86.9L332.4 91.9M356.9 72.2L332.4 91.9M337.7 82.5L307.4 92.7M337.4 76.3L307.4 92.7M347.3 76.7L307.4 92.7M359.8 79.2L307.4 92.7M337.6 79.7L307.4 92.7M343.4 78L307.4 92.7M352.6 64.7L307.4 92.7M356.3 87.8L307.4 92.7M261.6 138.3L282 106M267.9 131.2L282 106M263.5 143.4L282 106M255.6 138.7L282 106M265 147.9L282 106M258.4 138.2L282 106M256.3 140.8L282 106M258.9 147.6L282 106M259.9 139L282 106M268 141.4L282 106M271.4 129L282 106M263.3 134.2L282 106M266.7 134.7L282 106M257.2 137.9L282 106M325.5 60.2L311.6 79.7M322.2 60.6L311.6 79.7M339.6 61.5L311.6 79.7M313.1 61L311.6 79.7M335.4 56L311.6 79.7M331 48.6L311.6 79.7M339.9 48.7L311.6 79.7M323.6 68.1L311.6 79.7M339 64.5L311.6 79.7M322.5 63.2L311.6 79.7M321.6 49.2L311.6 79.7M324.4 60.9L311.6 79.7M329.3 58.5L311.6 79.7M326.8 45.6L311.6 79.7M245.4 78.2L269.8 90.6M249.8 72.1L269.8 90.6M240.2 74.7L269.8 90.6M246.8 75.2L269.8 90.6M246.9 67.9L269.8 90.6M245.6 83.4L269.8 90.6M234.4 72.3L269.8 90.6M242.4 79.3L269.8 90.6M249.2 75.5L269.8 90.6M242.3 81.2L269.8 90.6M247.3 67.6L269.8 90.6M235.9 74.9L269.8 90.6M244.4 81.4L269.8 90.6M256.9 70.2L269.8 90.6M239 66.6L269.8 90.6M301.7 42.2L297.9 75.8M312.6 47.3L297.9 75.8M312.2 37.3L297.9 75.8M308 42.3L297.9 75.8M304.5 39.1L297.9 75.8M299.2 61.9L297.9 75.8M307.7 55.8L297.9 75.8M311 36.5L297.9 75.8M306.6 55.5L297.9 75.8M312.3 45.3L297.9 75.8M310.5 44.7L297.9 75.8M302.6 56.2L297.9 75.8M311.5 46.6L297.9 75.8M302.9 53.6L297.9 75.8M240 83.3L275.8 93.2M249.1 78.6L275.8 93.2M234.9 80.6L275.8 93.2M233 77.5L275.8 93.2M239.5 80.7L275.8 93.2M241.4 81.7L275.8 93.2M245.6 83.2L275.8 93.2M241.5 76.6L275.8 93.2M340.4 83.2L321.6 92.7M362.8 85.7L321.6 92.7M355.2 83.5L321.6 92.7M341 82.8L321.6 92.7M354.9 79.9L321.6 92.7M340.3 85.1L321.6 92.7M349.8 86L321.6 92.7M363.3 81.9L321.6 92.7M348.2 83.2L321.6 92.7M240.3 95.1L270.9 95.4M233.3 88.5L270.9 95.4M231.5 92L270.9 95.4M231.5 82.5L270.9 95.4M231.8 85.6L270.9 95.4M236 95.2L270.9 95.4M241.6 89.7L270.9 95.4M271.4 65.2L274.5 71.9M265 64.9L274.5 71.9M263.2 56.4L274.5 71.9M272.7 57.7L274.5 71.9M267.1 49.6L274.5 71.9M263.5 48.2L274.5 71.9M266.2 55.5L274.5 71.9M267.1 51.3L274.5 71.9M261 51.9L274.5 71.9M268.2 51.4L274.5 71.9M257.2 54.9L274.5 71.9M271.5 43.6L274.5 71.9M270.3 57L274.5 71.9M267.4 58.9L274.5 71.9M262.7 65.7L280.8 86.8M265.6 58.7L280.8 86.8M268.7 65.8L280.8 86.8M251.3 50.8L280.8 86.8M260.3 54.1L280.8 86.8M257.2 52.1L280.8 86.8M265.7 65.2L280.8 86.8M248.6 50.5L280.8 86.8M260.1 64L280.8 86.8M266.9 62.3L280.8 86.8M258.3 62.6L280.8 86.8M261.4 59.2L280.8 86.8M262.9 60.4L280.8 86.8M254.7 53.9L280.8 86.8M251 49.6L280.8 86.8M266.8 65.9L280.8 86.8M253.7 53.4L280.8 86.8M303.5 147.1L294.2 108.7M308.8 150.5L294.2 108.7M311.4 149.8L294.2 108.7M299.3 133L294.2 108.7M243.3 117.9L264.8 103.9M241 128.6L264.8 103.9M252.1 116.8L264.8 103.9M249.7 119.8L264.8 103.9M238.1 116.9L264.8 103.9M246.1 115.3L264.8 103.9M250.7 115.2L264.8 103.9M248.1 118.4L264.8 103.9M237.3 119.2L264.8 103.9M244.3 124.2L264.8 103.9M238.9 119.6L264.8 103.9M240.8 120.1L264.8 103.9M247.8 125.9L264.8 103.9M245.7 80.9L266.8 91.8M248 77.2L266.8 91.8M238.7 77.1L266.8 91.8M234.5 76.8L266.8 91.8M243.8 82.9L266.8 91.8M241.1 75.5L266.8 91.8M233.6 102.4L268.4 98.5M232.6 103.4L268.4 98.5M243.7 103.9L268.4 98.5M243.7 106L268.4 98.5M242.3 106.3L268.4 98.5M240.5 104.3L268.4 98.5M235.9 102.9L268.4 98.5M237.7 108.8L268.4 98.5M238.8 100.6L268.4 98.5M233.6 104.6L268.4 98.5M234.5 109.1L268.4 98.5M241.8 111.9L268.4 98.5M234.4 110.7L268.4 98.5M236.4 109.7L268.4 98.5M238.7 107.5L268.4 98.5M230.5 98.4L268.4 98.5M238.9 109.5L268.4 98.5M236.7 91.8L249.4 94.6M235.4 91.3L249.4 94.6M234.3 94L249.4 94.6M230.2 95.2L249.4 94.6M234.6 92L249.4 94.6M238.8 91L249.4 94.6M234.9 90.5L249.4 94.6M233.6 87.5L249.4 94.6M241.4 91.1L249.4 94.6M233.6 92.2L249.4 94.6M233.4 91L249.4 94.6M236.5 94.8L249.4 94.6M240.6 91.6L249.4 94.6M237.2 91.8L249.4 94.6M233.6 90.3L249.4 94.6M236.3 89.8L249.4 94.6M234.4 90.2L249.4 94.6M298.4 142.4L294.8 120M297.5 136.3L294.8 120M301.2 149L294.8 120M301 134.8L294.8 120M301.9 144.6L294.8 120M303.4 148.8L294.8 120M301.5 143.1L294.8 120M298 138.2L294.8 120M303 144L294.8 120M298.5 148.7L294.8 120M300.4 143.8L294.8 120M293.3 145.6L294.8 120M240.7 118.8L268.7 100.6M244.3 119.2L268.7 100.6M237.5 115.8L268.7 100.6M241.1 115.7L268.7 100.6M240 119.5L268.7 100.6M238.1 124.5L268.7 100.6M238.2 122.1L268.7 100.6M236.1 117.2L268.7 100.6M242.1 107.5L268.7 100.6M246 112.9L268.7 100.6M246.1 120.6L268.7 100.6M242.2 114.6L268.7 100.6M237.7 109.6L268.7 100.6M243.4 113.5L268.7 100.6M245.7 111.7L268.7 100.6M250 117.5L263.3 104.5M243.8 118L263.3 104.5M248.6 120L263.3 104.5M243.9 116.1L263.3 104.5M237.8 121.3L263.3 104.5M240.3 117L263.3 104.5M240.9 118.4L263.3 104.5M246.3 115L263.3 104.5M252.4 118.9L263.3 104.5M241.8 122.5L263.3 104.5M245.1 116L263.3 104.5M240.6 123.3L263.3 104.5M243.4 114.6L263.3 104.5M250.7 117.6L263.3 104.5M353.3 81.4L322 89.2M346 62.5L322 89.2M344.8 72.7L322 89.2M335.6 80.4L322 89.2M337.1 79.2L322 89.2M332.6 78.5L322 89.2M349 87.2L322 89.2M334.5 78.1L322 89.2M354.2 79.7L322 89.2M348.2 55.8L322 89.2M335.7 77.1L322 89.2M344.8 51.4L322 89.2M335.8 80L322 89.2M363 100.5L318.4 95.9M351.9 93.7L318.4 95.9M343.5 96.3L318.4 95.9M351.1 97.7L318.4 95.9M341.1 92.2L318.4 95.9M338 105.2L318.4 95.9M352.2 95L318.4 95.9M351.7 89.3L318.4 95.9M360.5 101.1L318.4 95.9M345.4 97.8L318.4 95.9M365.3 100.6L318.4 95.9M346.4 89.9L318.4 95.9M352.7 98.2L318.4 95.9M338.5 84.6L318.4 95.9M352.2 96.9L318.4 95.9M267.3 138.7L276.8 112.4M256.3 145.5L276.8 112.4M261.3 146.6L276.8 112.4M259.3 138.3L276.8 112.4M256.5 138.7L276.8 112.4M285.9 130.7L289 111.3M287.3 137.3L289 111.3M284.5 135.5L289 111.3M282.5 154.6L289 111.3M280.8 156.2L289 111.3M287.4 136.2L289 111.3M282.2 142.9L289 111.3M286.6 148.2L289 111.3M285.4 135L289 111.3M284.2 146.1L289 111.3M280.4 139L289 111.3M284.1 146.2L289 111.3M297.4 49.5L293.3 72.9M292.6 50.8L293.3 72.9M292.5 54L293.3 72.9M299.3 39.3L293.3 72.9M298.8 43.2L293.3 72.9M299.7 38L293.3 72.9M298.6 58.7L293.3 72.9M298.5 42.7L293.3 72.9M293.8 58.7L293.3 72.9M236.4 97.6L249.8 96.1M239.1 98.8L249.8 96.1M240.7 85.8L249.8 96.1M234.6 99.9L249.8 96.1M240.6 110.1L249.8 96.1M238.4 103L249.8 96.1M231 97.2L249.8 96.1M241.5 98.5L249.8 96.1M240.5 97.9L249.8 96.1M234.5 103.1L249.8 96.1M238.3 95.4L249.8 96.1M231.9 97.3L249.8 96.1M232.4 95L249.8 96.1M314.1 128.2L306.5 109.9M323.2 134.4L306.5 109.9M325.1 132.1L306.5 109.9M318.6 127.5L306.5 109.9M327.2 140.1L306.5 109.9M328.6 142.4L306.5 109.9M319.9 133.9L306.5 109.9M325.2 133.4L306.5 109.9M333.3 145L306.5 109.9M333.1 66.5L318.8 81M336.2 64L318.8 81M340.9 61.7L318.8 81M327.1 70.5L318.8 81M320.4 66.6L318.8 81M336.5 55.7L318.8 81M328.3 68L318.8 81M333.6 59.4L318.8 81M338.1 64.9L312.2 86.4M334.5 69L312.2 86.4M342.4 55.9L312.2 86.4M340 67.5L312.2 86.4M346.6 56.6L312.2 86.4M329.7 68.4L312.2 86.4M331.6 66.3L312.2 86.4M348.3 56.3L312.2 86.4M343.8 60.8L312.2 86.4M280 137.7L282.3 120.7M273.9 139.2L282.3 120.7M273 144.7L282.3 120.7M272.7 153L282.3 120.7M279.9 130.2L282.3 120.7M274.4 139.3L282.3 120.7M277 135.5L282.3 120.7M271.4 149.2L282.3 120.7M280.7 133.2L282.3 120.7M279.4 142.7L282.3 120.7M275.8 132.6L282.3 120.7M277.5 143.7L282.3 120.7M278.8 141.3L282.3 120.7M247 81L269.2 91M247.6 73.1L269.2 91M242.6 79.1L269.2 91M246.4 76.7L269.2 91M247.6 75.1L269.2 91M246 81.7L269.2 91M248.8 78.3L269.2 91M247.8 79.2L269.2 91M236.8 76.2L269.2 91M248.8 78.9L269.2 91M246.3 77.9L269.2 91M245 76.3L269.2 91M247 77L269.2 91M240 75.8L269.2 91M238.1 75.8L269.2 91M289.8 50.7L288.1 79.5M276.7 54.8L288.1 79.5M282.4 55.3L288.1 79.5M286.9 59.8L288.1 79.5M282.2 49.6L288.1 79.5M234.3 93.9L264.9 95.8M241.5 98.7L264.9 95.8M237.1 85.9L264.9 95.8M234.3 96.2L264.9 95.8M241.3 85.4L264.9 95.8M232.6 98.8L264.9 95.8M234.3 86.6L264.9 95.8M239.5 94.7L264.9 95.8M231 95.8L264.9 95.8M236.3 91.2L264.9 95.8M231.5 93.2L264.9 95.8M230.5 102.5L264.9 95.8M232.2 89.6L264.9 95.8M241.1 104L264.9 95.8M242.4 123L270 103.2M251.1 119.2L270 103.2M237.1 121.6L270 103.2M237.7 122.4L270 103.2M251.6 117.3L270 103.2M242.2 118.7L270 103.2M243.5 123.7L270 103.2M239.4 125L270 103.2M247.3 116.7L270 103.2M297.7 135.8L295.3 111.4M303.8 141.8L295.3 111.4M305.1 131L295.3 111.4M304.1 130.4L295.3 111.4M303.6 145.8L295.3 111.4M304 136.2L295.3 111.4M299.8 155.4L295.3 111.4M300.4 133.9L295.3 111.4M313.9 153.4L295.3 111.4M311 140.6L295.3 111.4M298.6 142.8L295.3 111.4M297.1 135.3L295.3 111.4M306.9 137.8L295.3 111.4M305.4 146.2L295.3 111.4M303 135.2L295.3 111.4M300.8 149.8L295.3 111.4M306.4 136.9L295.3 111.4M321.8 43.8L299.5 77.8M308.5 43.9L299.5 77.8M314 36.7L299.5 77.8M306.2 43.3L299.5 77.8M327.1 43.3L299.5 77.8M319.4 39.8L299.5 77.8M304.3 53L299.5 77.8M306.1 57.7L299.5 77.8M312.7 51.5L299.5 77.8M306 52.1L299.5 77.8M302.6 61.2L299.5 77.8M308.8 38.4L299.5 77.8M310.8 44.7L299.5 77.8M309.8 34.5L299.5 77.8M311.6 64.5L299.5 77.8M315.1 43.6L299.5 77.8M287.9 47.7L289.8 74.1M290.9 51.8L289.8 74.1M285.8 38.1L289.8 74.1M279.6 42.4L289.8 74.1M286 41L289.8 74.1M289.6 54.6L289.8 74.1M289.1 34.8L289.8 74.1M288.1 49.6L289.8 74.1M289.7 34.5L289.8 74.1M289.2 46.6L289.8 74.1M290.7 46.5L289.8 74.1M284 60.4L289.8 74.1M291.4 49.5L289.8 74.1M288.7 37.7L289.8 74.1M289.3 51.5L289.8 74.1M290.7 47.8L289.8 74.1M269.6 144.9L279.2 117.4M265.1 147.1L279.2 117.4M274.5 135.3L279.2 117.4M268.4 148.5L279.2 117.4M269.8 126.4L279.2 117.4M278.6 136.4L279.2 117.4M263.7 152.4L279.2 117.4M267.1 139.7L279.2 117.4M268.6 153.5L279.2 117.4M271.4 132.6L279.2 117.4M261.1 130.9L279.2 117.4M267.7 142.2L279.2 117.4M274.1 147.9L279.2 117.4M266.7 134.5L279.2 117.4M270.5 142.6L279.2 117.4M272.4 135L279.2 117.4M261.9 151.3L279.2 117.4M247.5 55.8L263.9 78.8M260.7 68.6L263.9 78.8M253.9 51.7L263.9 78.8M251.3 57.8L263.9 78.8M260.3 68.1L263.9 78.8M253.2 64.3L263.9 78.8M253.3 63L263.9 78.8M250 55.9L263.9 78.8M256.3 64.5L263.9 78.8M252.4 60.3L263.9 78.8M246 60.2L263.9 78.8M248.8 66.6L263.9 78.8M251.2 57L263.9 78.8M345.7 63.1L312.3 86.9M334 65.6L312.3 86.9M331.5 69.4L312.3 86.9M340 62.4L312.3 86.9M340.5 59L312.3 86.9M335.5 72.7L312.3 86.9M335.3 70.2L312.3 86.9M344.6 58.9L312.3 86.9M342 69.8L312.3 86.9M346.4 63.8L312.3 86.9M351.8 102.7L328.7 97.7M342.4 100.7L328.7 97.7M344.1 99.8L328.7 97.7M344.4 103.2L328.7 97.7M338 104.9L328.7 97.7M343.7 102.7L328.7 97.7M343.1 98.2L328.7 97.7M248.2 122L265.9 104.2M243 112L265.9 104.2M250 120.1L265.9 104.2M251.7 116.4L265.9 104.2M240.1 118.5L265.9 104.2M250.7 116.6L265.9 104.2M244 123L265.9 104.2M238.8 116.7L265.9 104.2M242.7 122.1L265.9 104.2M246.1 119.9L265.9 104.2M251.3 127.2L265.9 104.2M246.5 121.1L265.9 104.2M244.3 123.5L265.9 104.2M248.8 115.9L259.1 105.2M237.9 125.3L259.1 105.2M248 112.5L259.1 105.2M240.2 120.9L259.1 105.2M240.7 116.7L259.1 105.2M249.6 115.6L259.1 105.2M247.6 113L259.1 105.2M240.9 121.9L259.1 105.2M238.7 122L259.1 105.2M240.3 126.6L259.1 105.2M345.1 56L312.2 87.9M339.2 63.9L312.2 87.9M345.7 67.9L312.2 87.9M343.7 60.7L312.2 87.9M338.7 60.1L312.2 87.9M342.6 62.5L312.2 87.9M277.9 137.3L286.6 118.3M283.4 158.4L286.6 118.3M283 133.1L286.6 118.3M281.8 158L286.6 118.3M274.3 139.9L286.6 118.3M281.7 143.1L286.6 118.3M280.2 149.4L286.6 118.3M283.4 147.4L286.6 118.3M282.1 138.6L286.6 118.3M279.1 143L286.6 118.3M280.9 143.3L286.6 118.3M278.4 149.4L286.6 118.3M284.7 142.1L286.6 118.3M340.7 65.3L318.5 86.8M339.7 75.2L318.5 86.8M331.7 73.8L318.5 86.8M335.9 69.8L318.5 86.8M330.3 74.7L318.5 86.8M348.1 70.2L318.5 86.8M327.7 73.3L318.5 86.8M352.1 61.5L318.5 86.8M338.4 68.5L318.5 86.8M351.3 64.5L318.5 86.8M353.7 66L318.5 86.8M346.2 62.8L318.5 86.8M351.7 65.6L318.5 86.8M351.2 67.1L318.5 86.8M347.2 66.8L318.5 86.8M342.4 66.2L318.5 86.8M338.7 67L318.5 86.8M240.5 111.3L257.4 96.4M239.9 100L257.4 96.4M235.8 107.8L257.4 96.4M230.6 103.9L257.4 96.4M235.1 106.8L257.4 96.4M325.2 138.1L305.8 105.9M324 126.9L305.8 105.9M334.8 144.4L305.8 105.9M331.5 139.5L305.8 105.9M321.3 125.1L305.8 105.9M336.1 124.7L305.8 105.9M336.8 146.3L305.8 105.9M329 130.2L305.8 105.9M336.5 138.1L305.8 105.9M345.9 133.9L305.8 105.9M325.7 134.5L305.8 105.9M278.2 47L288.2 79.8M277.3 42.5L288.2 79.8M274.6 63.5L288.2 79.8M286 32.9L288.2 79.8M288.4 43.3L288.2 79.8M283.4 35.9L288.2 79.8M280 59.2L288.2 79.8M282.5 61.8L288.2 79.8M273.9 35L288.2 79.8M290.5 56.6L288.2 79.8M282 45.2L288.2 79.8M277.4 43.8L288.2 79.8M276.4 49.9L288.2 79.8M273.7 48.2L288.2 79.8M276.7 38L288.2 79.8M248.5 118.9L250.9 103.9M244 111L250.9 103.9M243.6 111.7L250.9 103.9M242.9 110.7L250.9 103.9M240 108.4L250.9 103.9M238.7 113.2L250.9 103.9M239.1 116.3L250.9 103.9M248.5 117.7L250.9 103.9M241.1 117.6L250.9 103.9M338.6 128.6L312 106.4M334.5 113L312 106.4M330.4 120.2L312 106.4M327.3 122.1L312 106.4M339.2 139.3L312 106.4M326.7 121.3L312 106.4M329.1 130L312 106.4M339.3 139.3L312 106.4M343.7 140.2L312 106.4M289.8 141.3L289.3 120.1M292.2 131.9L289.3 120.1M287.8 135.3L289.3 120.1M289.6 135.9L289.3 120.1M283.6 144.7L289.3 120.1M286.5 137.6L289.3 120.1M288.3 134.5L289.3 120.1M285.7 153.5L289.3 120.1M282.7 149.8L289.3 120.1M282.7 154.3L289.3 120.1M232.1 94.8L267.4 96.2M240.5 89.1L267.4 96.2M241.6 100.6L267.4 96.2M238.9 96.3L267.4 96.2M241.5 100.1L267.4 96.2M241.4 94.2L267.4 96.2M239.2 88.7L267.4 96.2M238.6 95.1L267.4 96.2M230.3 100.9L267.4 96.2M231.9 96.3L267.4 96.2M237.9 97L267.4 96.2M232.9 92.6L267.4 96.2M237.6 95.6L267.4 96.2M242 96.8L267.4 96.2M239.7 103.5L267.4 96.2M337.2 65.6L321.6 81.8M343.1 53.5L321.6 81.8M325.9 70.7L321.6 81.8M326.7 71.4L321.6 81.8M345.1 61.9L321.6 81.8M328.1 68.6L321.6 81.8M337.8 68.3L321.6 81.8M342.9 53.9L321.6 81.8M319.7 127.4L319.2 115.9M336.2 136.9L319.2 115.9M321.8 132.9L319.2 115.9M330.4 132.8L319.2 115.9M336.1 140.2L319.2 115.9M321 124.4L319.2 115.9M252.6 73.5L256 83.4M245.4 76.5L256 83.4M244.2 73.1L256 83.4M251.2 69.3L256 83.4M252.4 74.7L256 83.4M250 73.4L256 83.4M238.8 68.1L256 83.4M236 72.8L256 83.4M248 67.1L256 83.4M249.8 74.9L256 83.4M239.7 62.2L256 83.4M250.7 68.4L256 83.4M247.6 77.4L256 83.4M248.7 71.8L256 83.4M253.8 69.9L256 83.4M241.5 74.2L256 83.4M250.8 74L256 83.4M336.3 111.5L331.4 101.9M360.7 107.4L331.4 101.9M344.5 104L331.4 101.9M353.5 121.4L331.4 101.9M335.7 110.7L331.4 101.9M353.7 115.4L331.4 101.9M352.6 111.1L331.4 101.9M336.4 76.5L310.4 88.5M348.5 65.3L310.4 88.5M348 60.1L310.4 88.5M348.6 63.7L310.4 88.5M337.8 67.6L310.4 88.5M343.3 53L310.4 88.5M354.6 86L310.4 88.5M340.7 76.7L310.4 88.5M352.3 68.5L310.4 88.5M349.6 82.3L310.4 88.5M340.5 63.8L313.9 88.8M344.4 70.9L313.9 88.8M333 70.3L313.9 88.8M340.6 72.7L313.9 88.8M336.3 74.8L313.9 88.8M336.6 74.7L313.9 88.8M346 67.7L313.9 88.8M344.1 71.2L313.9 88.8M346.1 72L313.9 88.8M328.4 140.5L304.9 108.5M320.3 128.6L304.9 108.5M329.2 135.5L304.9 108.5M319.8 135.1L304.9 108.5M333.3 137.2L304.9 108.5M255.3 144.4L268 116.2M261.2 131.1L268 116.2M265.9 125.1L268 116.2M254.8 124.1L268 116.2M251.8 135.7L268 116.2M268.9 126.9L268 116.2M261.3 143L268 116.2M249.1 137.6L268 116.2M255.4 140.3L268 116.2M319.6 45.4L305.2 69.4M317.9 50.7L305.2 69.4M310.3 58.3L305.2 69.4M306.9 61.7L305.2 69.4M319.1 37.8L305.2 69.4M312.6 49L305.2 69.4M312.8 57.9L305.2 69.4M328.5 41.4L305.2 69.4M307.8 63.7L305.2 69.4M317.2 50.7L305.2 69.4M309.3 63.3L305.2 69.4M305.7 52.4L305.2 69.4M310 53.3L305.2 69.4M313 48.5L305.2 69.4M232.3 100.2L255.1 94.8M239 89.3L255.1 94.8M243.2 88.4L255.1 94.8M237.8 89.5L255.1 94.8M241.9 96.9L255.1 94.8M242.4 94.5L255.1 94.8M298.6 138.1L295.4 114.2M301.6 151.2L295.4 114.2M294.2 140.5L295.4 114.2M305.7 137.1L295.4 114.2M299.1 134.3L295.4 114.2M299.3 130.4L295.4 114.2M297.9 136.2L295.4 114.2M307.1 151.4L295.4 114.2M305.2 141.9L295.4 114.2M263.6 58.4L282.4 85.5M273.8 59.3L282.4 85.5M274.4 64.2L282.4 85.5M263.1 51L282.4 85.5M270.5 59.5L282.4 85.5M263.1 46L282.4 85.5M271.2 55.5L282.4 85.5M264.1 59.1L282.4 85.5M267.7 56.6L282.4 85.5M257.2 55.8L282.4 85.5M258.6 55.9L282.4 85.5M266.6 46.4L282.4 85.5M256.7 57.9L282.4 85.5M257.2 50.4L282.4 85.5M275.3 128L279.2 120.3M277.5 130.6L279.2 120.3M268.5 139.7L279.2 120.3M270.9 127.6L279.2 120.3M265.7 138.9L283 108.2M263 145.9L283 108.2M264.4 141.5L283 108.2M267.9 135.1L283 108.2M258.6 149.3L283 108.2M263.2 140L283 108.2M270 153.7L283 108.2M260.8 137.9L283 108.2M269.5 137.4L283 108.2M263.3 132.9L283 108.2M276.5 143.6L283 108.2M276.2 135.6L283 108.2M252.9 137.6L283 108.2M267.7 133.1L283 108.2M272.1 146.8L283 108.2M278.2 133.3L283 108.2M341.2 67.3L308.2 92M332.5 78L308.2 92M329.8 66.4L308.2 92M353.3 74.8L308.2 92M309.4 60.6L296.7 84.4M321.4 41.7L296.7 84.4M310.1 38.3L296.7 84.4M314.4 47.4L296.7 84.4M309 43.8L296.7 84.4M317 56.9L296.7 84.4M302.2 61.1L296.7 84.4M308.4 64.5L296.7 84.4M305.8 59.5L296.7 84.4M308.9 58.3L296.7 84.4M308.4 45L296.7 84.4M322.8 42.2L296.7 84.4M270.5 155.9L285.4 107.9M273 138.4L285.4 107.9M269.2 143.8L285.4 107.9M277.5 132.8L285.4 107.9M272.9 136.1L285.4 107.9M272.2 146.5L285.4 107.9M265.8 147.7L285.4 107.9M264.7 146.9L285.4 107.9M273.3 140.2L285.4 107.9M273.7 146L285.4 107.9M332.2 133.9L313.2 110.3M353.6 131L313.2 110.3M334.7 126.8L313.2 110.3M338.8 120L313.2 110.3M326.9 143.9L313.2 110.3M328.4 134L313.2 110.3M326.1 131L313.2 110.3M325.2 120.7L313.2 110.3M314.9 127.4L313.2 110.3M343.5 133.8L313.2 110.3M277.8 61L277.6 68M271.5 54.4L277.6 68M273.2 60.1L277.6 68M267.7 39.5L277.6 68M268.5 39.4L277.6 68M270.7 49.8L277.6 68M269 44L277.6 68M273.1 57.7L277.6 68M277.7 62.9L277.6 68M261.6 41.7L277.6 68M272.9 49.4L277.6 68M311.6 127.4L300.4 109M319.2 138.2L300.4 109M322.8 138.1L300.4 109M317.1 130.3L300.4 109M300.5 132.9L300.4 109M311.1 135.8L300.4 109M321 132.3L300.4 109M321.2 133.3L300.4 109M321.6 150L300.4 109M320.8 143.1L300.4 109M328 142.7L300.4 109M318.6 133.5L306.7 108.4M318.3 125L306.7 108.4M325.5 133.3L306.7 108.4M327.5 132.7L306.7 108.4M347.7 136L306.7 108.4M324.1 131L306.7 108.4M341.4 137.9L306.7 108.4M337.9 139.9L306.7 108.4M238.5 66.1L273.3 89.4M244.1 64L273.3 89.4M238.9 70.5L273.3 89.4M243.7 73.3L273.3 89.4M252.1 75.2L273.3 89.4M235.8 70.5L273.3 89.4M264.2 133.4L271.1 111.4M263.6 123.6L271.1 111.4M262.9 132.3L271.1 111.4M248.5 131.7L271.1 111.4M262.5 142.8L271.1 111.4M266.4 127L271.1 111.4M270.6 126.5L271.1 111.4M255.5 123.5L271.1 111.4M256.2 128.7L271.1 111.4M250 137.1L271.1 111.4M245.2 132.3L271.1 111.4M254.3 143.9L271.1 111.4M256.7 136.2L271.1 111.4M250.2 139L271.1 111.4M253.5 132.5L271.1 111.4M250.6 115.2L268.2 104.2M256.8 122.2L268.2 104.2M249.1 114.3L268.2 104.2M253.3 117.4L268.2 104.2M245 118.8L268.2 104.2M253.4 124.9L268.2 104.2M244 121.9L268.2 104.2M238.4 121.6L268.2 104.2M240.8 127.2L268.2 104.2M237.5 119.3L268.2 104.2M244.2 124L268.2 104.2M237.4 119L268.2 104.2M251 120.2L268.2 104.2M244 124.9L268.2 104.2M252.4 125.7L268.2 104.2M258 122.7L268.2 104.2M254.9 120.5L268.2 104.2M244.3 122.5L268.9 106.7M247.1 127.8L268.9 106.7M250 126.9L268.9 106.7M242.9 126L268.9 106.7M248.6 130.3L268.9 106.7M248.5 130.9L268.9 106.7M239.4 128.9L268.9 106.7M251.5 133.6L268.9 106.7M246 135.6L268.9 106.7M252.6 117.8L268.9 106.7M250.1 114.6L268.9 106.7M249.7 118.3L268.9 106.7M253 126.1L268.9 106.7M254.8 126.8L268.9 106.7M360.3 118.3L310 100.4M343.6 118.5L310 100.4M360.4 121.8L310 100.4M352.8 112.3L310 100.4M351.3 121.6L310 100.4M345.9 111.7L310 100.4M349.8 126L310 100.4M334.9 121.3L310 100.4M355.2 118.7L310 100.4M344 121.8L310 100.4M335.9 115.2L310 100.4M334.5 114.9L310 100.4M357.8 121.6L310 100.4M345.7 122.7L310 100.4M354.8 128.4L310 100.4M346.5 125L310 100.4M363.4 111.6L310 100.4M248.8 114.5L273.5 103.3M240.7 125.4L273.5 103.3M245.2 125L273.5 103.3M250.3 123.8L273.5 103.3M252.8 122.1L273.5 103.3M252.7 124.6L273.5 103.3M256 120.5L273.5 103.3M244.2 77.6L259.9 86.1M243.6 71.3L259.9 86.1M238.4 74.6L259.9 86.1M242.1 77L259.9 86.1M244.4 81.2L259.9 86.1M239.3 62.1L259.9 86.1M252.5 118.9L258.1 103.2M251.1 119.3L258.1 103.2M238 117.6L258.1 103.2M237.6 113.8L258.1 103.2M246 116.9L258.1 103.2M243 108.5L258.1 103.2M304.7 52.1L300.6 76.1M303.9 61.7L300.6 76.1M313.6 46L300.6 76.1M303.9 60.5L300.6 76.1M311 40.5L300.6 76.1M314.7 41.9L300.6 76.1M314.6 43.1L300.6 76.1M310.1 59.6L300.6 76.1M315.9 41L300.6 76.1M312.5 46.3L300.6 76.1M319.9 37L300.6 76.1M308.3 58.5L300.6 76.1M310.8 54.3L300.6 76.1M322.3 38.6L300.6 76.1M310.2 55.8L300.6 76.1M308.2 55L300.6 76.1M267.4 37.7L287.5 82.1M283.1 38.3L287.5 82.1M286.3 61.1L287.5 82.1M284 54.4L287.5 82.1M288.3 58.9L287.5 82.1M277.9 54.9L287.5 82.1M281.2 54L287.5 82.1M280.9 41.6L287.5 82.1M285.8 45.5L287.5 82.1M277.2 49.9L287.5 82.1M275.9 50.5L287.5 82.1M276.9 36.4L287.5 82.1M280.9 49.8L287.5 82.1M275.6 49.3L287.5 82.1M268 41.8L287.5 82.1M285.4 56.9L286.1 70.8M279.8 56.7L286.1 70.8M284.7 58.6L286.1 70.8M283.1 49.5L286.1 70.8M285.1 58.6L286.1 70.8M279.6 45.2L286.1 70.8M273.9 39.3L286.1 70.8M287.6 46.3L286.1 70.8M274 38.9L286.1 70.8M283.3 35.4L286.1 70.8M282.2 52.7L286.1 70.8M280.7 38.9L286.1 70.8M279.6 36.9L286.1 70.8M281.7 50.4L286.1 70.8M336.4 132.2L308.2 105.4M339.1 138.5L308.2 105.4M346.2 139.2L308.2 105.4M332.3 129.6L308.2 105.4M343.3 141.4L308.2 105.4M342.2 142.7L308.2 105.4M335.2 139.7L308.2 105.4M327.4 126.7L308.2 105.4M336.3 124.8L308.2 105.4M338.2 142.3L308.2 105.4M336.2 138.3L308.2 105.4M328 121.3L308.2 105.4M337 125.6L308.2 105.4M327 128.3L308.2 105.4M343.7 138.6L308.2 105.4M291.1 139.8L290 121.2M291.3 147L290 121.2M294 153.8L290 121.2M286.3 131.8L290 121.2M286 132.5L290 121.2M315.1 53.6L305.8 76.5M313.5 60.6L305.8 76.5M325.5 46.9L305.8 76.5M314.8 59.3L305.8 76.5M318.4 50.5L305.8 76.5M313.8 64.8L305.8 76.5M325.1 41.4L305.8 76.5M320.2 41.4L305.8 76.5M322.9 41.5L305.8 76.5M312.8 62.2L305.8 76.5M312.6 58.5L305.8 76.5M313.9 61.3L305.8 76.5M314.3 56.1L305.8 76.5M311.7 62.1L305.8 76.5M326.2 60.8L321.6 78.5M323.9 67.2L321.6 78.5M332 53.1L321.6 78.5M334.8 52.6L321.6 78.5M277.7 135.2L281.7 117.7M272.7 153.8L281.7 117.7M275.7 140.3L281.7 117.7M268.1 154.8L281.7 117.7M276.2 133.4L281.7 117.7M268.2 153.3L281.7 117.7M272.5 135.5L281.7 117.7M272 149.4L278 121.6M266.4 143L278 121.6M268.7 133.5L278 121.6M272.7 133.5L278 121.6M274 128.2L278 121.6M272.2 156.2L278 121.6M272.8 151.5L278 121.6M278.2 130.4L278 121.6M274 127.8L278 121.6M274.9 131.3L278 121.6M270.5 153.6L278 121.6M271.8 129L278 121.6M266.2 153.2L278 121.6M278 145.1L278 121.6M264.3 150.9L278 121.6M273.6 134.6L278 121.6M266.3 153.4L278 121.6M275.5 156.9L286.1 111.4M277.8 141.2L286.1 111.4M273.4 153.8L286.1 111.4M278.3 145.4L286.1 111.4M274.5 141.8L286.1 111.4M275.3 144.5L286.1 111.4M272.8 147.7L286.1 111.4M275.7 146.8L286.1 111.4M280.7 149.8L286.1 111.4M267.8 149.9L286.1 111.4M271.2 150.6L286.1 111.4M281.5 133L286.1 111.4M283.4 134.8L286.1 111.4M272.6 154.4L286.1 111.4M233 99L254.2 95.9M240 90.4L254.2 95.9M241.2 92.5L254.2 95.9M232.7 93.6L254.2 95.9M238.9 94.4L254.2 95.9M242 93.7L254.2 95.9M235.8 92.8L254.2 95.9M237.2 101.6L254.2 95.9M233.6 97.6L254.2 95.9M232.4 99.3L254.2 95.9M230.9 98.3L254.2 95.9M235.1 93.2L254.2 95.9M240 96.9L254.2 95.9M230.3 97.6L254.2 95.9M231.2 96.8L254.2 95.9M240.7 99.1L254.2 95.9M245 78.1L263.5 88.9M245.4 72.5L263.5 88.9M246 72.3L263.5 88.9M244.2 85.9L263.5 88.9M246.1 78.5L263.5 88.9M247.9 73.8L263.5 88.9M244.1 67L263.5 88.9M246.8 77.2L263.5 88.9M238.4 72.9L263.5 88.9M237.6 78.8L263.5 88.9M250.9 75.5L263.5 88.9M238.5 76.5L263.5 88.9M243.7 70.8L263.5 88.9M239.1 69.3L263.5 88.9M320.6 132.4L309.2 106.7M321.1 122.7L309.2 106.7M331.5 123.5L309.2 106.7M329.7 135.5L309.2 106.7M342 141.8L309.2 106.7M321.9 123.6L309.2 106.7M328.2 133L309.2 106.7M331.1 127.3L309.2 106.7M313.4 125.5L309.2 106.7M334.9 126.2L309.2 106.7M331.3 147.7L309.2 106.7M343.5 133.9L309.2 106.7M342.8 138.6L309.2 106.7M337 135.2L309.2 106.7M323.1 60.9L301.9 85.6M328.5 49.6L301.9 85.6M324.2 40.3L301.9 85.6M328.2 49.1L301.9 85.6M322.5 62.3L301.9 85.6M323 65.5L301.9 85.6M323.7 62.3L301.9 85.6M330.3 59.9L301.9 85.6M319.8 52.8L301.9 85.6M322.9 131.5L312.6 116M317.3 142.1L312.6 116M321.1 128.7L312.6 116M317.5 127.8L312.6 116M321.1 151.8L312.6 116M324.9 138.8L312.6 116M331.4 147.7L312.6 116M324.1 140.8L312.6 116M315.8 130.3L312.6 116M320.9 123L312.6 116M325.7 142.1L312.6 116M331.9 136L312.6 116M313.7 132.6L312.6 116M311.8 130.1L312.6 116M326.5 149.1L312.6 116M318.6 128.1L312.6 116M244.4 72.4L267.3 89.5M252.8 72.9L267.3 89.5M247.1 78.8L267.3 89.5M248.8 73.8L267.3 89.5M247.1 80.1L267.3 89.5M238.8 75.3L267.3 89.5M246.6 73.2L267.3 89.5M259.1 136.2L272.6 114.2M263.9 127.6L272.6 114.2M257.9 139.8L272.6 114.2M264.4 127.4L272.6 114.2M268.6 130.4L272.6 114.2M247.6 56.9L257.2 80.8M243.3 62.2L257.2 80.8M256.3 71.1L257.2 80.8M242.2 65.4L257.2 80.8M246.4 60.4L257.2 80.8M250.7 62.4L257.2 80.8M244.5 60.8L257.2 80.8M247.9 51.4L257.2 80.8M246.1 70.5L257.2 80.8M251.5 72L257.2 80.8M250.2 48.5L257.2 80.8M254.6 58.9L257.2 80.8M239.4 62.7L257.2 80.8M246.3 75.1L257.2 80.8M245.9 70.5L257.2 80.8M254.6 66.2L257.2 80.8M254.1 61.5L257.2 80.8M240.8 112.7L261.7 98.8M246.6 112.1L261.7 98.8M241.6 104.9L261.7 98.8M242.1 108.5L261.7 98.8M236.6 123.1L261.7 98.8M233.4 112.8L261.7 98.8M233.9 106.8L261.7 98.8M233.4 113.6L261.7 98.8M238.7 107.9L261.7 98.8M242.8 116.9L261.7 98.8M237.6 105.6L261.7 98.8M239.7 94.8L261.7 98.8M231.5 108.7L261.7 98.8M237.9 108.2L261.7 98.8M244.5 116.3L261.7 98.8M238.8 108.6L261.7 98.8M330.5 45.2L313.4 75.6M318.7 59L313.4 75.6M321.2 63.4L313.4 75.6M321.7 54.5L313.4 75.6M322.7 63.2L313.4 75.6M315.2 59.9L313.4 75.6M324.5 54.9L313.4 75.6M332.3 57.4L313.4 75.6M293.9 159L291.3 114.3M296 154.5L291.3 114.3M293.8 146.2L291.3 114.3M290.3 135.3L291.3 114.3M293.1 154.3L291.3 114.3M293.9 159.9L291.3 114.3M292.3 145L291.3 114.3M291.3 155.7L291.3 114.3M299 34.9L292.5 74.8M294.6 43.7L292.5 74.8M299.6 49.8L292.5 74.8M297.3 42.7L292.5 74.8M287.8 54.5L292.5 74.8M301.7 33.5L292.5 74.8M287.5 46.4L292.5 74.8M297 42.3L292.5 74.8M290.4 35.9L292.5 74.8M304.2 35.9L292.5 74.8M294.9 50.5L292.5 74.8M298.9 57.7L292.5 74.8M294.8 40.9L292.5 74.8M297.1 50.3L292.5 74.8M272.6 145.9L280.5 118.8M273.7 136.8L280.5 118.8M274.8 127.6L280.5 118.8M272.1 142.6L280.5 118.8M271.1 146.9L280.5 118.8M273.4 137.4L280.5 118.8M313.6 30.4L309 56M307.5 24.2L309 56M305.3 34.5L309 56M306.2 26L309 56M307.5 26L309 56M311.3 35.3L309 56M312.8 26.7L309 56M312.3 27.6L309 56M312.8 35.4L309 56M309.2 34.2L309 56M315.1 33.9L309 56M310.9 35.3L309 56M304.2 31L309 56M311 22L309 56M313.1 28.1L309 56M313.2 32L309 56M313.2 28.2L309 56M314.3 25.9L309 56M315.1 32.1L309 56M304.6 34.6L309 56M309.7 31.8L309 56M305.2 31.5L309 56M318 29.1L309 56M312.9 23L309 56M310.5 27.4L309 56M309.3 31.5L309 56M314.1 24.2L309 56M313.2 31.5L309 56M312.9 26.2L309 56M314.6 29.2L309 56M385.4 54.2L375 53M385.3 53.5L375 53M385.1 54.2L375 53M381.5 50L375 53M382.4 51.8L375 53M387.2 50.7L375 53M385.3 46.7L375 53M382.7 47.6L375 53M386.7 50.2L375 53M378.9 51.9L375 53M383.6 54.3L375 53M381.5 52.5L375 53M381.4 48.9L375 53M381 50L375 53M384 46.7L375 53M380.5 49.1L375 53M386.3 49.7L375 53M383.7 54.3L375 53M380 52L375 53M385.1 53.3L375 53M375 53L341 66M375 53L341 66M375 53L341 66M344.7 86.8L342 84M347 80.7L342 84M351.8 67.8L342 84M350.5 77.3L342 84M347.3 84L342 84M353.2 77.5L342 84M347.5 85.6L342 84M362.7 84.1L342 84M358.8 83.8L342 84M352.9 77.2L342 84M356.5 90.6L342 84M348.9 86.4L342 84M351.4 93.5L342 84M349.2 80.6L342 84M347.6 77.3L342 84M356.8 74.3L342 84M345.5 81.2L342 84M350.9 89.1L342 84M348.4 78.1L342 84M354 81.8L342 84M353 91.9L342 84M353.5 73L342 84M362.2 87.6L342 84M351.1 74.7L342 84M350.9 90L342 84M352 83.2L342 84M351.6 89.1L342 84M354.6 72.7L342 84M350.4 80.1L342 84M350.5 87.4L342 84M362 78.4L342 84M349.7 83L342 84M349.9 77.3L342 84M358 77.3L342 84M352.7 78.4L342 84M352.8 83.7L342 84M357.5 72.5L342 84M353 83.3L342 84M348.3 88.3L342 84M355.8 91.9L342 84M352 79L342 84M353.4 67.5L342 84M352.4 83.2L342 84M351.1 93.2L342 84M353.4 82.5L342 84M347.7 77.9L342 84M356.6 92.9L342 84M346 82.1L342 84M346.1 84.1L342 84M357.9 73.8L342 84M352.3 73.4L342 84M362.5 77.8L342 84M361.6 85.5L342 84M344.7 80L342 84M362.4 87.4L342 84M348.6 78.8L342 84M363.2 87.5L342 84M349.3 81.3L342 84M343.9 79.7L342 84M358.5 79.8L342 84M264.4 69.4L264 76M264.9 68.4L264 76M263.2 63.6L264 76M264.6 63.4L264 76M257.7 64.6L264 76M257.9 71.9L264 76M263.1 69L264 76M264.7 69.3L264 76M249.7 64.3L264 76M253.3 60.6L264 76M259.8 69.7L264 76M253.9 67.4L264 76M262 65L264 76M256.2 65.1L264 76M256.1 68.3L264 76M250.1 66.9L264 76M252.7 68.6L264 76M262.3 69.9L264 76M263.5 68.7L264 76M260.4 66L264 76M248.8 63.9L264 76M256.4 63.5L264 76M265 59.7L264 76M262 64.4L264 76M260.2 73.1L264 76M307.2 147.3L301 128M298.5 148.1L301 128M302.8 141.3L301 128M303.9 143.1L301 128M296.9 142.1L301 128M302.1 152.2L301 128M300.9 141.9L301 128M306.3 142.8L301 128M308.7 145.5L301 128M303 151.7L301 128M301.2 139.6L301 128M304.4 144.2L301 128M305.4 141.8L301 128M306 144.5L301 128M301.8 152L301 128M296.8 143.3L301 128M299.7 143.5L301 128M300.5 151.2L301 128M299.9 151.8L301 128M304.5 149.2L301 128M311.9 159.4L314 135M310.3 155.7L314 135M311.4 156.5L314 135M318.3 152.8L314 135M311.8 153.3L314 135M309.7 155.1L314 135M315.9 160.3L314 135M319.7 149.4L314 135M315.4 149L314 135M320.2 155.5L314 135M316.8 153.2L314 135M320.1 151L314 135M314.4 154.8L314 135M318.3 157.9L314 135M314.1 157.5L314 135M319.9 159.4L314 135M320.7 157.5L314 135M320.3 150.9L314 135M315.6 153.4L314 135M310.5 155.1L314 135M319 149.6L314 135M309.5 155.2L314 135M224 100L252 98M224 100L252 98M239 162L262 132M239 162L262 132M258 165L272 138M258 165L272 138M372 142L338 122M372 142L338 122M357 145L333 127M357 145L333 127M233 48L250 66M233 48L250 66M390.6 160.6L390.6 165.3M395.3 160.6L395.3 165.3" fill="none" stroke="#55606a" stroke-opacity="0.25" stroke-width="0.45"/>
<path d="M351.2 99.7h0M339.3 100.9h0M328.7 99.9h0M360.1 99.1h0M334.3 98.8h0M342.2 104.6h0M333.5 102.4h0M350.3 105.4h0M356.1 97h0M345.7 97.5h0M354.5 100.7h0M346.9 100.5h0M347.8 99h0M341.9 100.7h0M333.4 100h0M357.1 100.2h0M349.9 100.9h0M361.9 99.7h0M348.1 99.4h0M347.7 103.1h0M344 102.1h0M340.5 101.1h0M258.5 125.8h0M258 124.1h0M243.7 120.1h0M257.4 113.5h0M240.6 128.1h0M247.4 123.9h0M286.6 57.7h0M282.9 53.4h0M283.9 57h0M283.2 35h0M284.1 41.3h0M285 49.1h0M278.9 47.8h0M279.7 50.8h0M284.5 36.4h0M286.1 55.5h0M284.7 35h0M285 54.3h0M277.5 34.6h0M286.1 55h0M279.7 43.2h0M286 60.6h0M286.8 67.4h0M286.7 36.9h0M283 37.6h0M283.9 41.8h0M362.8 75.7h0M344.3 82.1h0M337.1 82h0M332.4 84.3h0M354.8 76.3h0M355.1 80.7h0M346.1 77h0M347.2 79.1h0M359.1 80.3h0M353.7 73.4h0M347.4 77.5h0M336.1 80.8h0M348.9 74.6h0M337.9 85.3h0M332.4 87.8h0M336.4 77.9h0M348.3 79.3h0M250.6 126.4h0M253.1 122.6h0M251.7 123.4h0M255.1 119.6h0M241.6 131.5h0M249.7 123.3h0M253.5 120.6h0M258.4 116.1h0M251.9 128.4h0M244.3 134.2h0M279.8 133.7h0M269.5 134.5h0M275 130.7h0M273.5 148.6h0M276.4 139.1h0M273 143.8h0M325.3 56.5h0M320.4 66h0M314.2 61.8h0M324.3 63.3h0M321 67.1h0M318 65.9h0M338.7 46.8h0M334.5 53.5h0M328.7 60.4h0M315.9 60.3h0M315.9 63.9h0M319.4 54.4h0M316.8 62.9h0M328.6 59.2h0M321.5 67h0M327.6 56.2h0M325.9 58.8h0M326.6 53.7h0M321.8 67.8h0M311.6 62.5h0M312.8 65.3h0M319.5 54.8h0M317.9 59h0M331.1 44.7h0M327.5 48h0M324.9 51.8h0M316.5 59.2h0M323.9 123.1h0M319.3 117.3h0M340.7 134.5h0M323 118.2h0M333.7 127.9h0M320.2 114.7h0M329.4 123h0M320.6 114.6h0M340.7 122.2h0M321.9 127.7h0M320.6 124.1h0M342.8 123h0M344.8 120.7h0M334.7 122.7h0M328.2 117.9h0M332.5 135.4h0M323.4 122.2h0M329.7 121.4h0M331.5 129.3h0M340.9 135.1h0M257.9 70.2h0M261.9 74.2h0M240.4 66.7h0M256.6 76.4h0M263.4 67.6h0M264 69.4h0M243.7 56.4h0M248.1 59.1h0M251.5 68.4h0M241.3 60.7h0M252.3 69.9h0M248.5 60.2h0M260.1 70.8h0M254.4 69.6h0M256.3 68h0M253.5 66.2h0M257.8 71.4h0M253.6 65.2h0M256.6 69.6h0M241.3 60.6h0M278.9 51.7h0M281.1 56.5h0M278.5 53.7h0M281.6 60.8h0M279.9 56.4h0M281.2 61.1h0M275.8 40.7h0M277.3 45.2h0M281.1 34.8h0M281.5 61.1h0M282.6 63.4h0M282.7 61h0M283.1 55.3h0M283.7 56.6h0M275.4 57h0M278.9 34.5h0M280.7 58h0M284.3 62.8h0M278 41.4h0M279.9 50.7h0M276.7 40.2h0M279.4 52.5h0M334.7 136.2h0M329.2 131.2h0M320.8 124.5h0M330.6 143.5h0M323.5 128.9h0M332.8 139.6h0M326.8 132.6h0M325.8 126h0M314.6 125.7h0M315.1 119.6h0M327.9 134.6h0M321 123.6h0M324.6 126.3h0M345.5 137.3h0M333.4 127.8h0M329 139.4h0M331.8 142.7h0M287.7 46.9h0M288.4 54.6h0M284.7 61.5h0M289.4 56.3h0M281.8 34.4h0M289.3 59.4h0M295.7 41.7h0M292.3 55.6h0M287.1 59.2h0M283.5 34.9h0M299.2 38.1h0M290.6 48.6h0M286.6 60.2h0M287.5 61.3h0M286 34.5h0M286.6 40.7h0M288.8 56.8h0M288.2 58.5h0M287 53.4h0M287.5 58.2h0M244.4 82.4h0M232.6 79.2h0M240.8 83.4h0M245.3 84.1h0M256.3 88.7h0M241.8 80.7h0M252.5 86.6h0M235.3 82.8h0M245.2 83.7h0M256.9 89.1h0M240.1 90.7h0M237.4 84.7h0M233.1 92.8h0M240.8 94.1h0M255.2 95.7h0M286 39.6h0M286.8 60h0M278.2 50.6h0M281 57h0M286.8 59.3h0M287.7 67.1h0M279.8 35.5h0M269.6 38.4h0M277.6 40.6h0M279.7 46.6h0M277.1 59.3h0M274.5 40.9h0M281.6 54.4h0M282.8 58.3h0M281.8 59.8h0M283.7 58.4h0M277.9 51h0M278.2 46.3h0M279.6 52h0M282.4 52h0M278.1 45.1h0M275.4 39.6h0M278.3 49.7h0M272.3 43.7h0M274.8 38.9h0M276.7 63.7h0M278.6 61h0M277.2 59.9h0M279.8 61.7h0M276.9 34.1h0M275.4 37.6h0M275.1 43.3h0M264.2 39.2h0M273.7 57.5h0M278 56.9h0M273.3 59.3h0M281.8 61.6h0M274.4 55.2h0M269.3 43.8h0M273.3 52.2h0M276.6 49.4h0M277.3 55.5h0M337.4 61.3h0M336.7 59.8h0M348.2 54.8h0M340.4 61.3h0M324 67h0M323.1 70.5h0M325.5 68.4h0M333.6 59.4h0M332.9 60h0M327.7 65.1h0M328.7 59.8h0M343.4 58.9h0M340.3 66.5h0M351.2 61.1h0M347.4 63.4h0M325.1 61.8h0M323.4 69.6h0M324.9 68.1h0M346 56.5h0M343.7 58.1h0M277.7 132.3h0M278.7 125h0M265.2 150.8h0M281.1 129.7h0M262.5 148h0M266 140.8h0M273.5 129.4h0M269 126h0M270.4 123.9h0M276.2 145.3h0M277 131.2h0M270.2 126.2h0M271.9 125.6h0M268.5 144.5h0M267.4 142.4h0M269.2 138.6h0M257.1 144.7h0M271.8 152.5h0M272.6 148h0M263.5 139.8h0M234.2 114.9h0M241 109.7h0M245.2 109.8h0M236.8 108.8h0M248.2 104.2h0M242.3 110.8h0M246.6 108.1h0M238.2 110.2h0M238.5 107.5h0M247.7 105.9h0M240.7 114.2h0M243.8 112.6h0M247.8 108.3h0M237.4 116.5h0M247.7 107.4h0M347 108.3h0M344.8 107.7h0M341 108h0M332.8 104.3h0M341.6 105.5h0M356 106.7h0M343 98.4h0M342.6 112h0M361.2 120.5h0M363.6 113h0M348.2 107.5h0M349 112.9h0M340 110.1h0M323.4 103.6h0M365.3 102.5h0M342.5 112.8h0M344.4 103.7h0M326 100.8h0M343.3 102.8h0M342.8 107.9h0M338.4 106.3h0M347.4 112.8h0M334.1 108.2h0M302.9 52h0M300.6 62.3h0M301.4 54.7h0M307.9 49.4h0M299.9 59h0M299.8 63.3h0M304 38.8h0M307.1 35.8h0M304.6 51h0M302.2 55.1h0M303.3 54.7h0M304.8 39.6h0M301.3 59.3h0M309.6 47.1h0M308.2 51.6h0M301.6 61.8h0M301.3 64h0M307.5 39.5h0M304.5 53.6h0M304.7 50.9h0M236.2 86.8h0M237.6 91.4h0M246.3 79.9h0M248.5 81.5h0M244.7 77h0M248.1 81h0M240 84.6h0M231.9 84.6h0M233.3 81.4h0M235.9 82.3h0M235.7 85.6h0M243.8 84.9h0M238.5 84.4h0M232.4 88.8h0M246.7 90.2h0M242.9 86.2h0M240.5 83.5h0M314.9 141h0M307.1 137.4h0M306.5 133.8h0M310.9 156.5h0M309.5 147.7h0M315.7 144.3h0M233.5 105.8h0M240.8 102.9h0M240.1 105.3h0M243.2 103h0M233.6 105h0M239.3 102.6h0M233.5 106.6h0M240 102.7h0M232.7 104.5h0M232.8 106.2h0M238.6 103.6h0M234.8 114.7h0M241.4 102.6h0M232 108.1h0M239 104.9h0M241.2 103.7h0M245.3 102.2h0M240.9 98.2h0M244 98.6h0M244 74.5h0M235.2 72h0M249 78.2h0M242.2 66.9h0M249.2 73.4h0M250.3 75.1h0M252.5 73.1h0M259.1 80.6h0M248.2 72.2h0M253.8 76.6h0M249.5 66.5h0M248.8 71.6h0M251.1 74.8h0M241.8 74.2h0M244.3 67h0M238.6 67h0M252 71.2h0M254.2 75h0M253.5 73.6h0M255.3 75h0M246.5 70.7h0M240.9 71.8h0M240.3 61.2h0M242.9 64.7h0M245.7 67.7h0M252.1 74.9h0M241.9 68.6h0M340.9 128.7h0M320.4 126.1h0M333.4 132.5h0M327.1 134.2h0M331.2 140.7h0M338.5 133h0M340.1 126h0M330.7 121.1h0M336.8 140h0M331.1 133.8h0M328.8 128h0M330.6 147.4h0M323.3 133.2h0M321.2 127.5h0M320.2 124.4h0M321.5 131.1h0M337.4 126h0M329.7 121.2h0M339 136.9h0M335.1 132.7h0M308.4 47.8h0M302.5 56.8h0M303 62.3h0M300.9 67.1h0M307.8 51.9h0M302.5 64.5h0M310.5 40.2h0M302.1 61.2h0M309.7 42.2h0M305.2 56.2h0M301 47.3h0M301.4 51.3h0M304.5 56.4h0M301 66.2h0M303.4 62h0M305.1 42.3h0M299.5 62.3h0M299 68h0M301.9 56.5h0M234.8 96.7h0M235.5 92.5h0M242.6 92.8h0M241.3 95.2h0M244 95.7h0M241.7 99.7h0M243 89.8h0M245.6 90.9h0M237.3 91.6h0M241 93.2h0M236.3 98.8h0M232 94.8h0M242.4 85.1h0M330.6 139.1h0M328.1 119.6h0M320.6 114.6h0M342.5 134.4h0M336.1 137.5h0M318.2 115.7h0M331.8 126.7h0M322.1 117.7h0M334.9 135.9h0M331 118.9h0M335.4 126.5h0M347.7 91.9h0M358.1 91.5h0M345.4 91.3h0M359.2 81h0M345.1 87.1h0M342.5 67.4h0M348.8 84h0M345 86h0M352.9 83.7h0M361.9 82.1h0M349.2 85.5h0M359.5 76.7h0M360.2 84.4h0M352 86.9h0M343.1 91.7h0M337.6 92.3h0M347.6 81.5h0M345.6 84.5h0M341.1 81.6h0M363.6 77.7h0M349.6 82.9h0M350.8 86.9h0M356.9 72.2h0M337.7 82.5h0M337.4 76.3h0M347.3 76.7h0M336.8 80.9h0M359.8 79.2h0M342.7 84.1h0M337.6 79.7h0M331.3 82h0M352.6 64.7h0M356.3 87.8h0M331.1 91.2h0M261.6 138.3h0M267.9 131.2h0M263.5 143.4h0M270.6 127.8h0M255.6 138.7h0M258.7 134.6h0M265 147.9h0M258.4 138.2h0M256.3 140.8h0M258.9 147.6h0M261 143.5h0M259.9 139h0M271.8 120.5h0M268 141.4h0M271.4 129h0M274.3 122.5h0M263.3 134.2h0M269.4 124h0M266.7 134.7h0M271.7 127h0M257.2 137.9h0M325.5 60.2h0M322.2 60.6h0M319 64.7h0M339.6 61.5h0M335.4 56h0M327.4 64.5h0M331 48.6h0M324.3 60.8h0M339.9 48.7h0M323.6 68.1h0M322.1 69.9h0M339 64.5h0M331.7 69.4h0M322.5 63.2h0M321.6 49.2h0M316 63.7h0M324.4 60.9h0M329.3 58.5h0M321.1 66.5h0M326.8 45.6h0M325.2 47.9h0M245.4 78.2h0M249.8 72.1h0M240.2 74.7h0M246.8 75.2h0M256.5 82.3h0M246.9 67.9h0M252.2 73.7h0M245.6 83.4h0M255.3 86.1h0M234.4 72.3h0M248.1 79.6h0M242.4 79.3h0M252.3 84h0M249.2 75.5h0M253.3 78.1h0M242.3 81.2h0M247.3 67.6h0M235.9 74.9h0M244.4 81.4h0M249.4 82.7h0M256.9 70.2h0M239 66.6h0M301.7 42.2h0M312.6 47.3h0M306.5 56.4h0M312.2 37.3h0M306.6 51.9h0M308 42.3h0M304.5 39.1h0M299.2 61.9h0M307.7 55.8h0M311 36.5h0M306.6 55.5h0M312.3 45.3h0M310.5 44.7h0M305.1 58.9h0M302.6 56.2h0M311.5 46.6h0M301.5 59.8h0M240 83.3h0M244.9 83.7h0M249.1 78.6h0M260.1 85.5h0M234.9 80.6h0M233 77.5h0M239.5 80.7h0M241.4 81.7h0M250.9 85.1h0M245.6 83.2h0M241.5 76.6h0M245.8 78.8h0M340.4 83.2h0M362.8 85.7h0M355.2 83.5h0M335.9 87.4h0M341 82.8h0M354.9 79.9h0M349.7 81.9h0M340.3 85.1h0M349.8 86h0M345.6 87.1h0M363.3 81.9h0M350.1 85.3h0M348.2 83.2h0M240.3 95.1h0M233.3 88.5h0M243.1 90.5h0M231.5 92h0M231.5 82.5h0M231.8 85.6h0M253.2 91.8h0M236 95.2h0M241.6 89.7h0M271.4 65.2h0M265 64.9h0M263.2 56.4h0M272.7 57.7h0M273.3 59.6h0M267.1 49.6h0M263.5 48.2h0M266.2 55.5h0M268.7 61.7h0M267.1 51.3h0M261 51.9h0M266.9 59.4h0M268.2 51.4h0M257.2 54.9h0M271.5 43.6h0M270.3 57h0M267.4 58.9h0M271 65.6h0M262.7 65.7h0M270.7 72.9h0M265.6 58.7h0M268.7 65.8h0M251.3 50.8h0M262 64h0M260.3 54.1h0M257.2 52.1h0M265.7 65.2h0M268.8 69.5h0M248.6 50.5h0M260.1 64h0M269.4 75.3h0M266.9 62.3h0M258.3 62.6h0M261.4 59.2h0M269.6 71.2h0M262.9 60.4h0M266.1 66.8h0M254.7 53.9h0M260.8 63.3h0M251 49.6h0M266.8 65.9h0M253.7 53.4h0M265.2 67.3h0M303.5 147.1h0M308.8 150.5h0M303 133.1h0M311.4 149.8h0M299.3 133h0M243.3 117.9h0M241 128.6h0M248.7 120.3h0M252.1 116.8h0M249.7 119.8h0M251.7 117.4h0M238.1 116.9h0M243.8 114.8h0M246.1 115.3h0M250.1 113.2h0M250.7 115.2h0M257.6 108.9h0M248.1 118.4h0M237.3 119.2h0M244.5 116.3h0M244.3 124.2h0M249.7 120.2h0M238.9 119.6h0M251.4 111.2h0M240.8 120.1h0M243.7 117.4h0M247.8 125.9h0M249.6 123.8h0M245.7 80.9h0M248 77.2h0M253.8 81h0M238.7 77.1h0M234.5 76.8h0M242.6 80.5h0M243.8 82.9h0M241.1 75.5h0M250.8 82.8h0M232.6 103.4h0M243.7 103.9h0M243.7 106h0M242.3 106.3h0M244.2 104.6h0M240.5 104.3h0M253.3 101.2h0M235.9 102.9h0M250.9 100.2h0M237.7 108.8h0M244.3 107.4h0M238.8 100.6h0M233.6 104.6h0M234.5 109.1h0M241.8 111.9h0M234.4 110.7h0M236.4 109.7h0M238.7 107.5h0M230.5 98.4h0M246.3 99.6h0M238.9 109.5h0M236.7 91.8h0M241.6 92.2h0M234.3 94h0M236.6 94.8h0M230.2 95.2h0M235.7 95h0M234.6 92h0M238.8 91h0M234.9 90.5h0M239.5 91.1h0M233.6 87.5h0M241.4 91.1h0M233.6 92.2h0M235.2 91.9h0M233.4 91h0M236.5 94.8h0M241.2 94.5h0M240.6 91.6h0M237.2 91.8h0M241.3 92.2h0M233.6 90.3h0M236.3 89.8h0M234.4 90.2h0M241.1 92.5h0M298.4 142.4h0M297.5 136.3h0M296.9 130.8h0M301.2 149h0M301.9 144.6h0M298.8 132.7h0M303.4 148.8h0M301.5 143.1h0M298 138.2h0M303 144h0M298.5 148.7h0M300.4 143.8h0M297.9 135h0M293.3 145.6h0M240.7 118.8h0M247.1 117.1h0M237.5 115.8h0M254.5 107h0M241.1 115.7h0M253.8 108.5h0M240 119.5h0M253.8 110.2h0M238.1 124.5h0M238.2 122.1h0M245.3 117.4h0M236.1 117.2h0M250.6 110.1h0M242.1 107.5h0M250.7 106.1h0M246 112.9h0M246.1 120.6h0M258.7 110.5h0M245.7 112.7h0M237.7 109.6h0M243.4 113.5h0M256.6 107h0M245.7 111.7h0M256 106.5h0M243.8 118h0M250.1 113.5h0M248.6 120h0M252.6 115.9h0M243.9 116.1h0M249.1 113.8h0M237.8 121.3h0M244.8 117.6h0M240.3 117h0M245.5 113.1h0M240.9 118.4h0M246.3 115h0M252.3 110.5h0M252.4 118.9h0M241.8 122.5h0M251.8 114.1h0M245.1 116h0M240.6 123.3h0M244.4 120.2h0M243.4 114.6h0M250.7 117.6h0M346 62.5h0M342.1 65.1h0M344.8 72.7h0M339.2 77.4h0M335.6 80.4h0M332.6 81.8h0M337.1 79.2h0M335 80h0M332.6 78.5h0M349 87.2h0M334.5 78.1h0M331.7 79.8h0M348 81.9h0M348.2 55.8h0M339.7 67.5h0M335.7 77.1h0M328.3 84.6h0M344.8 51.4h0M335.8 80h0M329.5 86.1h0M363 100.5h0M341.7 98.1h0M351.9 93.7h0M336.2 94.6h0M343.5 96.3h0M351.1 97.7h0M338 97.6h0M341.1 92.2h0M333.5 92.9h0M338 105.2h0M328.6 100.2h0M352.2 95h0M339 95.6h0M351.7 89.3h0M344.8 90.2h0M360.5 101.1h0M345.4 97.8h0M342.3 97.3h0M365.3 100.6h0M358.9 99.6h0M346.4 89.9h0M352.7 98.2h0M334 97.6h0M338.5 84.6h0M332.3 87.7h0M352.2 96.9h0M344 97h0M267.3 138.7h0M256.3 145.5h0M259.2 139.8h0M261.3 146.6h0M259.3 138.3h0M266.3 129.1h0M256.5 138.7h0M266.6 126.3h0M285.9 130.7h0M287.4 124.9h0M287.3 137.3h0M284.5 135.5h0M285.2 132.1h0M282.5 154.6h0M286 132.4h0M280.8 156.2h0M287.4 136.2h0M282.2 142.9h0M286.6 148.2h0M285.4 135h0M286.2 132.7h0M284.2 146.1h0M280.4 139h0M284.6 123.5h0M285.8 130.7h0M297.4 49.5h0M295 62.5h0M292.6 50.8h0M293.8 62.6h0M292.5 54h0M299.3 39.3h0M298.8 43.2h0M298.3 46.6h0M299.7 38h0M298.6 58.7h0M298.5 42.7h0M293.8 58.7h0M293.8 61.5h0M242.9 98.3h0M240.7 85.8h0M234.6 99.9h0M240.6 110.1h0M244.5 104.7h0M238.4 103h0M231 97.2h0M238.2 95.8h0M240.5 97.9h0M234.5 103.1h0M238.3 95.4h0M231.9 97.3h0M232.4 95h0M236.9 95.1h0M314.1 128.2h0M320.2 130.6h0M325.1 132.1h0M318.6 127.5h0M315.7 123.1h0M327.2 140.1h0M328.6 142.4h0M326.3 139.5h0M319.9 133.9h0M325.2 133.4h0M320.7 129.1h0M333.3 145h0M333.1 66.5h0M336.2 64h0M332.6 68.1h0M340.9 61.7h0M336.2 65.6h0M327.1 70.5h0M320.4 66.6h0M319.8 73h0M336.5 55.7h0M328.3 68h0M333.6 59.4h0M327 68.5h0M338.1 64.9h0M334.9 67.7h0M334.5 69h0M330.5 71.8h0M342.4 55.9h0M337.9 60.7h0M346.6 56.6h0M329.7 68.4h0M331.6 66.3h0M348.3 56.3h0M343.8 60.8h0M280 137.7h0M273.9 139.2h0M273 144.7h0M276.3 136.7h0M272.7 153h0M273.5 149.8h0M279.9 130.2h0M274.4 139.3h0M275.1 134.4h0M277 135.5h0M271.4 149.2h0M275 142.1h0M280.7 133.2h0M280.6 131.7h0M279.4 142.7h0M275.8 132.6h0M277.5 143.7h0M278.8 141.3h0M247 81h0M251.6 83.1h0M247.6 73.1h0M242.6 79.1h0M246.4 76.7h0M252.5 80.9h0M247.6 75.1h0M246 81.7h0M253.8 84.5h0M248.8 78.3h0M259 85.5h0M247.8 79.2h0M236.8 76.2h0M240.6 78.3h0M248.8 78.9h0M251.9 78.9h0M250 80h0M245 76.3h0M247 77h0M240 75.8h0M243.1 77.4h0M238.1 75.8h0M289.8 50.7h0M276.7 54.8h0M280.9 64h0M282.4 55.3h0M283.8 60.3h0M286.9 59.8h0M282.2 49.6h0M283.5 60.2h0M234.3 93.9h0M250.1 95.3h0M241.5 98.7h0M247 98.1h0M237.1 85.9h0M247.5 89h0M234.3 96.2h0M238.7 95.6h0M241.3 85.4h0M232.6 98.8h0M237.5 98.2h0M234.3 86.6h0M239.5 94.7h0M231 95.8h0M240.5 95.2h0M236.3 91.2h0M248.5 92.9h0M231.5 93.2h0M245.9 94.5h0M230.5 102.5h0M234.2 102h0M232.2 89.6h0M243.6 91.6h0M241.1 104h0M242.4 123h0M251.1 119.2h0M237.1 121.6h0M248.3 115.4h0M237.7 122.4h0M250.4 114.4h0M251.6 117.3h0M255.8 113.6h0M242.2 118.7h0M243.5 123.7h0M250 118.4h0M239.4 125h0M247.3 116.7h0M297.7 135.8h0M297.7 131h0M303.8 141.8h0M305.1 131h0M304.1 130.4h0M303.6 145.8h0M302.3 141.7h0M304 136.2h0M302.2 131.2h0M299.8 155.4h0M297.8 137.7h0M300.4 133.9h0M313.9 153.4h0M311 140.6h0M298.6 142.8h0M295.5 125.8h0M297.1 135.3h0M306.9 137.8h0M301.7 126.5h0M305.4 146.2h0M303.8 139.3h0M303 135.2h0M300.8 149.8h0M299.6 142.8h0M306.4 136.9h0M303 130.2h0M321.8 43.8h0M312.7 57.8h0M308.5 43.9h0M305.5 54.1h0M314 36.7h0M309.7 47.5h0M306.2 43.3h0M306.5 47.9h0M327.1 43.3h0M304.3 53h0M303.3 59.7h0M306.1 57.7h0M312.7 51.5h0M306 52.1h0M300.6 68.8h0M308.8 38.4h0M308 45.3h0M310.8 44.7h0M309.8 34.5h0M304.2 55.9h0M311.6 64.5h0M309.2 66.1h0M315.1 43.6h0M311.9 52.4h0M287.9 47.7h0M290.9 51.8h0M285.8 38.1h0M279.6 42.4h0M286 41h0M289.6 54.6h0M289.1 34.8h0M288.1 49.6h0M289.7 34.5h0M289.2 46.6h0M290.7 46.5h0M284 60.4h0M285.9 63h0M291.4 49.5h0M292.2 52.7h0M288.7 37.7h0M289.3 50.5h0M289.3 51.5h0M290.7 47.8h0M269.6 144.9h0M274.1 133.5h0M265.1 147.1h0M274.5 135.3h0M274.9 131.2h0M268.4 148.5h0M273 133.1h0M269.8 126.4h0M271 124.9h0M278.6 136.4h0M263.7 152.4h0M271.3 137.3h0M267.1 139.7h0M268.6 153.5h0M272.3 140.5h0M271.4 132.6h0M261.1 130.9h0M267.7 142.2h0M271.2 134.7h0M274.1 147.9h0M266.7 134.5h0M269.1 130.4h0M270.5 142.6h0M272.4 135h0M261.9 151.3h0M247.5 55.8h0M260.7 68.6h0M253.9 51.7h0M251.3 57.8h0M256.2 66.5h0M260.3 68.1h0M253.2 64.3h0M253.3 63h0M257 69h0M250 55.9h0M252.8 60.3h0M256.3 64.5h0M252.4 60.3h0M246 60.2h0M251 65.4h0M248.8 66.6h0M251.2 57h0M255.8 64.8h0M345.7 63.1h0M334 65.6h0M323.7 75.5h0M331.5 69.4h0M340 62.4h0M340.5 59h0M335.5 72.7h0M328.5 76.7h0M335.3 70.2h0M344.6 58.9h0M334.2 66.8h0M342 69.8h0M346.4 63.8h0M333.8 72h0M351.8 102.7h0M348.8 102.3h0M342.4 100.7h0M336.1 100h0M344.1 99.8h0M344.4 103.2h0M340.4 101.5h0M338 104.9h0M335.8 102.6h0M343.7 102.7h0M335.5 99.8h0M343.1 98.2h0M250.3 120.2h0M243 112h0M250 120.1h0M252.4 118.1h0M251.7 116.4h0M257.4 111.6h0M240.1 118.5h0M244.8 115.9h0M250.7 116.6h0M249.8 117.4h0M238.8 116.7h0M253.3 110.3h0M242.7 122.1h0M250.6 116.5h0M246.1 119.9h0M253.4 114.8h0M251.3 127.2h0M246.5 121.1h0M248 118h0M244.3 123.5h0M253.6 115.8h0M248.8 115.9h0M237.9 125.3h0M248 112.5h0M251.5 109.4h0M240.2 120.9h0M245.5 116.6h0M240.7 116.7h0M248 111.5h0M249.6 115.6h0M247.6 113h0M250.4 112.4h0M240.9 121.9h0M247.4 115.9h0M238.7 122h0M243.3 118.4h0M240.3 126.6h0M345.1 56h0M335.3 66.2h0M339.2 63.9h0M345.7 67.9h0M343.7 60.7h0M342.6 62.5h0M326.6 74.3h0M277.9 137.3h0M283.4 158.4h0M283 133.1h0M281.8 158h0M274.3 139.9h0M281.7 143.1h0M280.2 149.4h0M283.4 147.4h0M284.1 143.7h0M282.1 138.6h0M284.3 130.7h0M279.9 136.7h0M280.9 143.3h0M278.4 149.4h0M284.7 142.1h0M285.5 135.1h0M340.7 65.3h0M339.7 75.2h0M331.7 73.8h0M324.7 81h0M335.9 69.8h0M330.6 75.6h0M330.3 74.7h0M322.9 81.7h0M348.1 70.2h0M332.7 78.5h0M327.7 73.3h0M352.1 61.5h0M338.4 68.5h0M335.1 72.1h0M351.3 64.5h0M346.5 67.9h0M353.7 66h0M339.3 75.1h0M346.2 62.8h0M351.7 65.6h0M341.2 72.5h0M351.2 67.1h0M336.8 75.6h0M347.2 66.8h0M342.4 66.2h0M338.7 67h0M240.5 111.3h0M246.3 106.2h0M239.9 100h0M243.8 98.9h0M230.6 103.9h0M241.3 101.1h0M235.1 106.8h0M325.2 138.1h0M324 126.9h0M334.8 144.4h0M331.5 139.5h0M321.3 125.1h0M336.1 124.7h0M336.8 146.3h0M327 135.3h0M329 130.2h0M320.1 120.8h0M336.5 138.1h0M327.5 126.9h0M345.9 133.9h0M330.3 124h0M325.7 134.5h0M314 120.1h0M278.2 47h0M279.2 50.9h0M277.3 42.5h0M274.6 63.5h0M286 32.9h0M288.4 43.3h0M287.9 64.1h0M283.4 35.9h0M286.5 49.7h0M280 59.2h0M283.6 67.4h0M282.5 61.8h0M273.9 35h0M281.6 58.6h0M290.5 56.6h0M282 45.2h0M277.4 43.8h0M279.7 50.8h0M276.4 49.9h0M278 57.8h0M273.7 48.2h0M276.7 38h0M280 49.4h0M248.5 118.9h0M249.1 116.9h0M244 111h0M243.6 111.7h0M242.9 110.7h0M240 108.4h0M238.7 113.2h0M242 110.1h0M239.1 116.3h0M248.5 117.7h0M249.5 114.7h0M241.1 117.6h0M245 113.4h0M338.6 128.6h0M334.5 113h0M331.6 112h0M330.4 120.2h0M327.3 122.1h0M339.2 139.3h0M326.7 121.3h0M329.1 130h0M339.3 139.3h0M327.6 126.1h0M343.7 140.2h0M289.8 141.3h0M291.9 130.9h0M287.8 135.3h0M288.2 131.5h0M289.6 135.9h0M288.9 130.4h0M283.6 144.7h0M285.8 136.6h0M286.5 137.6h0M288.3 134.5h0M287.9 128.3h0M285.7 153.5h0M282.7 149.8h0M287.8 135.3h0M282.7 154.3h0M285.5 137h0M232.1 94.8h0M235.5 94.6h0M240.5 89.1h0M241.6 100.6h0M246.7 99h0M238.9 96.3h0M241.5 100.1h0M244.6 99.8h0M241.4 94.2h0M254.9 91.8h0M238.6 95.1h0M230.3 100.9h0M234.6 101h0M231.9 96.3h0M237.9 97h0M232.9 92.6h0M239.6 93.6h0M237.6 95.6h0M242 96.8h0M239.7 103.5h0M254.9 99.9h0M337.2 65.6h0M343.1 53.5h0M325.9 70.7h0M324.5 72.5h0M326.7 71.4h0M326.3 72.8h0M345.1 61.9h0M333.2 71.8h0M328.1 68.6h0M326.6 70.6h0M337.8 68.3h0M335.9 69.5h0M342.9 53.9h0M334.2 64.7h0M319.7 127.4h0M336.2 136.9h0M321.8 132.9h0M330.4 132.8h0M326.6 127.7h0M336.1 140.2h0M321 124.4h0M320.7 123.1h0M252.6 73.5h0M253 76.8h0M245.4 76.5h0M244.2 73.1h0M251.2 69.3h0M252.4 74.7h0M250 73.4h0M250.8 75h0M238.8 68.1h0M236 72.8h0M248 67.1h0M250.8 71.9h0M249.8 74.9h0M239.7 62.2h0M250.7 68.4h0M254.2 76h0M247.6 77.4h0M248.7 71.8h0M249.4 73.4h0M253.8 69.9h0M241.5 74.2h0M246.3 77.2h0M336.3 111.5h0M335.8 110h0M360.7 107.4h0M345 104.1h0M344.5 104h0M353.5 121.4h0M335.7 110.7h0M333.8 106.7h0M353.7 115.4h0M352.6 111.1h0M343.1 106.4h0M336.4 76.5h0M331.1 77.9h0M348.5 65.3h0M341.3 69.1h0M348 60.1h0M336.3 71.1h0M337.8 67.6h0M323.5 78.2h0M343.3 53h0M354.6 86h0M336.6 78.9h0M352.3 68.5h0M348.3 71.1h0M349.6 82.3h0M336.2 84.5h0M340.5 63.8h0M331.9 73.6h0M344.4 70.9h0M340.9 73.1h0M333 70.3h0M340.6 72.7h0M330.1 79.2h0M336.3 74.8h0M329.9 79.2h0M336.6 74.7h0M346 67.7h0M344.1 71.2h0M346.1 72h0M331.3 79.3h0M328.4 140.5h0M320.3 128.6h0M329.2 135.5h0M319.8 135.1h0M314.8 124.1h0M255.3 144.4h0M260.7 134.2h0M261.2 131.1h0M263.5 125.3h0M265.9 125.1h0M266.7 120.6h0M254.8 124.1h0M256.2 123.3h0M251.8 135.7h0M268.9 126.9h0M268.9 122.8h0M261.3 143h0M261.3 138.8h0M249.1 137.6h0M255.4 140.3h0M317.1 48.6h0M317.9 50.7h0M310.3 58.3h0M307.9 61.6h0M306.9 61.7h0M306.2 63.9h0M319.1 37.8h0M312.6 53.7h0M312.6 49h0M310.5 57.9h0M312.8 57.9h0M310.7 59.9h0M328.5 41.4h0M307.8 63.7h0M307.5 65.1h0M317.2 50.7h0M309.3 63.3h0M305.7 52.4h0M304.7 58.9h0M310 53.3h0M313 48.5h0M309.8 55.8h0M232.3 100.2h0M239 89.3h0M240 90.5h0M243.2 88.4h0M237.8 89.5h0M243.8 91.4h0M241.9 96.9h0M242.4 94.5h0M298.6 138.1h0M301.6 151.2h0M300.2 144.6h0M294.2 140.5h0M294.7 136.5h0M305.7 137.1h0M299.1 134.3h0M299.3 130.4h0M298.3 126.4h0M297.9 136.2h0M307.1 151.4h0M304.8 142.7h0M305.2 141.9h0M302.7 133.8h0M263.6 58.4h0M273.8 59.3h0M276.7 68.6h0M274.4 64.2h0M275.8 67.9h0M263.1 51h0M270.5 59.5h0M263.1 46h0M269.7 60.1h0M271.2 55.5h0M264.1 59.1h0M267.7 56.6h0M257.2 55.8h0M260.2 60.3h0M258.6 55.9h0M267.3 66h0M266.6 46.4h0M256.7 57.9h0M262.2 63.4h0M257.2 50.4h0M266.6 64.7h0M275.3 128h0M276.5 125.1h0M277.5 130.6h0M277.4 127.5h0M268.5 139.7h0M270.9 127.6h0M273.6 124.3h0M265.7 138.9h0M263 145.9h0M264.4 141.5h0M268.3 133.1h0M267.9 135.1h0M258.6 149.3h0M265.7 139.2h0M263.2 140h0M270 153.7h0M272.3 146.3h0M260.8 137.9h0M264.7 132.3h0M269.5 137.4h0M263.3 132.9h0M276.5 143.6h0M277.2 130.6h0M276.2 135.6h0M252.9 137.6h0M265.5 123.4h0M267.7 133.1h0M274.8 122.8h0M272.1 146.8h0M278.2 133.3h0M279.2 125.8h0M341.2 67.3h0M321.1 85.2h0M329.8 66.4h0M353.3 74.8h0M309.4 60.6h0M303.4 73.6h0M321.4 41.7h0M314.1 55.4h0M310.1 38.3h0M314.4 47.4h0M309 43.8h0M317 56.9h0M302.2 61.1h0M300.1 68h0M308.4 64.5h0M305.8 59.5h0M308.9 58.3h0M308.4 45h0M322.8 42.2h0M320.1 49.3h0M270.5 155.9h0M273 138.4h0M276.9 129.4h0M269.2 143.8h0M277.5 132.8h0M281.4 121.6h0M272.9 136.1h0M272.2 146.5h0M276.3 133h0M265.8 147.7h0M270.5 136.8h0M264.7 146.9h0M269.3 137.1h0M273.3 140.2h0M273.7 146h0M277.7 132.1h0M332.2 133.9h0M323.9 123.3h0M353.6 131h0M334.7 126.8h0M338.8 120h0M326.9 143.9h0M323.8 134.9h0M328.4 134h0M322.9 126.6h0M326.1 131h0M322.7 126.1h0M325.2 120.7h0M314.9 127.4h0M313.8 120.9h0M343.5 133.8h0M339.4 131h0M277.8 61h0M277 64.6h0M271.5 54.4h0M273.2 60.1h0M267.7 39.5h0M268.5 39.4h0M270.7 49.8h0M274.8 58.5h0M269 44h0M273.4 56h0M273.1 57.7h0M274.1 58.8h0M277.7 62.9h0M277.8 63.6h0M261.6 41.7h0M272.9 49.4h0M311.6 127.4h0M319.2 138.2h0M322.8 138.1h0M317.1 130.3h0M300.5 132.9h0M311.1 135.8h0M306.4 124.7h0M321 132.3h0M319 129.6h0M321.2 133.3h0M314.8 125.9h0M321.6 150h0M314.3 135.8h0M320.8 143.1h0M312 128.5h0M328 142.7h0M323.5 136.5h0M318.6 133.5h0M316 127h0M318.3 125h0M325.5 133.3h0M327.5 132.7h0M347.7 136h0M328 122.2h0M324.1 131h0M341.4 137.9h0M323.8 122.8h0M332.1 134h0M238.5 66.1h0M257.7 77.9h0M244.1 64h0M254.3 73.7h0M238.9 70.5h0M250.7 75.3h0M243.7 73.3h0M249.7 76.9h0M252.1 75.2h0M257.9 79.3h0M235.8 70.5h0M243.4 74.7h0M264.2 133.4h0M263.6 123.6h0M262.9 132.3h0M266.9 121.2h0M248.5 131.7h0M259.9 122.5h0M262.5 142.8h0M263.7 134.9h0M266.4 127h0M265.7 121.1h0M270.6 126.5h0M255.5 123.5h0M262.9 116.9h0M256.2 128.7h0M250 137.1h0M245.2 132.3h0M254.3 143.9h0M261.5 129.3h0M256.7 136.2h0M250.2 139h0M258.7 127.7h0M253.5 132.5h0M259.4 124.6h0M250.6 115.2h0M256.8 122.2h0M260.1 117.7h0M249.1 114.3h0M251 111.7h0M253.3 117.4h0M259.7 111.1h0M245 118.8h0M254.1 113.6h0M253.4 124.9h0M244 121.9h0M250.7 116.9h0M238.4 121.6h0M240.8 127.2h0M237.5 119.3h0M243.7 116.3h0M244.2 124h0M237.4 119h0M245.1 115.4h0M251 120.2h0M244 124.9h0M254.5 116.6h0M252.4 125.7h0M254.4 123.5h0M258 122.7h0M261.5 116.5h0M260.9 112.4h0M244.3 122.5h0M253.3 117.6h0M247.1 127.8h0M253.4 121h0M250 126.9h0M253.7 122h0M242.9 126h0M248.6 130.3h0M257.2 120.2h0M248.5 130.9h0M239.4 128.9h0M255.5 116.4h0M251.5 133.6h0M256.8 124.6h0M246 135.6h0M256.8 123.1h0M252.6 117.8h0M261.4 111.4h0M250.1 114.6h0M249.7 118.3h0M253 126.1h0M259.3 119.1h0M254.8 126.8h0M257.4 122.8h0M360.3 118.3h0M344.8 113.4h0M343.6 118.5h0M360.4 121.8h0M344.7 113.7h0M352.8 112.3h0M341.1 109.4h0M351.3 121.6h0M345.9 111.7h0M349.8 126h0M328.1 111.3h0M334.9 121.3h0M355.2 118.7h0M344 121.8h0M338.1 118.6h0M335.9 115.2h0M329.3 112.2h0M334.5 114.9h0M345.2 116.4h0M345.7 122.7h0M354.8 128.4h0M348 122.9h0M346.5 125h0M363.4 111.6h0M349.9 108.1h0M248.8 114.5h0M260.1 108.7h0M240.7 125.4h0M252 117.5h0M245.2 125h0M250.3 123.8h0M252.8 122.1h0M257.6 118.1h0M252.7 124.6h0M256 120.5h0M244.2 77.6h0M246.8 79.3h0M243.6 71.3h0M238.4 74.6h0M242.1 77h0M244.4 81.2h0M239.3 62.1h0M248.9 74.7h0M252.5 118.9h0M252 117.2h0M251.1 119.3h0M238 117.6h0M242.3 113.5h0M237.6 113.8h0M245.9 110.2h0M246 116.9h0M243 108.5h0M304.7 52.1h0M303.9 61.7h0M313.6 46h0M310 54.1h0M303.9 60.5h0M302.2 69.2h0M314.7 41.9h0M314.6 43.1h0M310.6 53.5h0M310.1 59.6h0M315.9 41h0M308.5 56.3h0M312.5 46.3h0M319.9 37h0M311.1 53.3h0M308.3 58.5h0M310.8 54.3h0M322.3 38.6h0M310.2 55.8h0M308.2 55h0M267.4 37.7h0M277.8 61.7h0M283.1 38.3h0M285.5 52.4h0M286.6 67.7h0M284 54.4h0M288.3 58.9h0M277.9 54.9h0M282.5 67.9h0M281.2 54h0M280.9 41.6h0M285.8 45.5h0M286.7 61.2h0M277.2 49.9h0M279.5 56.6h0M275.9 50.5h0M278 54.7h0M276.9 36.4h0M280.9 49.8h0M275.6 49.3h0M281.1 60.8h0M268 41.8h0M285.4 56.9h0M279.8 56.7h0M284.7 58.6h0M283.1 49.5h0M284.5 61.3h0M285.1 58.6h0M285 64.5h0M279.6 45.2h0M283.8 59.3h0M273.9 39.3h0M287.6 46.3h0M274 38.9h0M274.8 43.4h0M283.3 35.4h0M282.2 52.7h0M280.7 38.9h0M279.6 36.9h0M280.1 43.6h0M281.7 50.4h0M283 53.4h0M336.4 132.2h0M326.4 121.8h0M339.1 138.5h0M332.3 129.6h0M343.3 141.4h0M332.8 131.3h0M342.2 142.7h0M337.7 138.4h0M335.2 139.7h0M327.5 128h0M327.4 126.7h0M321.5 119.9h0M336.3 124.8h0M338.2 142.3h0M336.2 138.3h0M324.3 125.2h0M328 121.3h0M325.7 118.6h0M337 125.6h0M327 128.3h0M319.4 118.8h0M343.7 138.6h0M291.3 147h0M294 153.8h0M293.9 145.3h0M286.3 131.8h0M315.1 53.6h0M313.5 60.6h0M325.5 46.9h0M318.1 58.9h0M314.8 59.3h0M318.4 50.5h0M313.6 61.2h0M313.8 64.8h0M325.1 41.4h0M317.1 54.1h0M320.2 41.4h0M322.9 41.5h0M312.8 62.2h0M312.6 58.5h0M313.9 61.3h0M311 66.9h0M314.3 56.1h0M311.7 62.1h0M326.2 60.8h0M322.8 70.2h0M323.9 67.2h0M332 53.1h0M328.1 61.2h0M334.8 52.6h0M277.7 135.2h0M272.7 153.8h0M276.9 137.4h0M275.7 140.3h0M278.1 132.3h0M268.1 154.8h0M270 150.6h0M276.2 133.4h0M277.9 128.9h0M268.2 153.3h0M272.5 135.5h0M274 133.3h0M272 149.4h0M274.5 136.5h0M266.4 143h0M268.7 133.5h0M272.7 133.5h0M274 128.2h0M275.8 125.9h0M272.2 156.2h0M272.6 147.2h0M272.8 151.5h0M275.6 136.1h0M278.2 130.4h0M277.7 129.1h0M274 127.8h0M274.9 131.3h0M270.5 153.6h0M275.4 137.6h0M271.8 129h0M266.2 153.2h0M269.8 143h0M278 145.1h0M279 132.8h0M264.3 150.9h0M273.6 134.6h0M275.3 131.1h0M266.3 153.4h0M275.5 156.9h0M276.5 147.4h0M277.8 141.2h0M281.1 127.1h0M273.4 153.8h0M276.6 142.6h0M278.3 145.4h0M274.5 141.8h0M275.3 144.5h0M272.8 147.7h0M277.3 135h0M275.7 146.8h0M280.7 149.8h0M267.8 149.9h0M271.2 150.6h0M281.5 133h0M283.4 134.8h0M284 129.3h0M272.6 154.4h0M279.2 133.4h0M233 99h0M240 90.4h0M247.5 93.8h0M241.2 92.5h0M248.7 93.5h0M232.7 93.6h0M240.1 95.3h0M238.9 94.4h0M242 93.7h0M244.8 94.9h0M235.8 92.8h0M238.6 93.4h0M237.2 101.6h0M245.7 98.3h0M233.6 97.6h0M232.4 99.3h0M238.1 98.6h0M230.9 98.3h0M243.4 97.9h0M235.1 93.2h0M240 96.9h0M230.3 97.6h0M231.2 96.8h0M242.8 96.3h0M240.7 99.1h0M247.9 96.4h0M245 78.1h0M252.8 83.5h0M245.4 72.5h0M246 72.3h0M249.6 75.4h0M244.2 85.9h0M246.1 78.5h0M249.1 79.4h0M247.9 73.8h0M255.6 80.8h0M244.1 67h0M246.8 77.2h0M238.4 72.9h0M249.3 80.3h0M250.9 75.5h0M257 81.3h0M238.5 76.5h0M249.6 82.4h0M243.7 70.8h0M239.1 69.3h0M320.6 132.4h0M317.4 127.5h0M321.1 122.7h0M316.1 116.4h0M331.5 123.5h0M329.7 135.5h0M323.6 125.9h0M342 141.8h0M321.9 123.6h0M328.2 133h0M325.3 128.9h0M331.1 127.3h0M313.4 125.5h0M312.1 118.9h0M334.9 126.2h0M327.4 120.3h0M331.3 147.7h0M343.5 133.9h0M330.4 124.6h0M342.8 138.6h0M328.8 126.4h0M337 135.2h0M323.1 60.9h0M318.9 65.7h0M328.5 49.6h0M322.4 59.3h0M324.2 40.3h0M328.2 49.1h0M324 56.3h0M322.5 62.3h0M317.4 67.9h0M323 65.5h0M323.7 62.3h0M330.3 59.9h0M325 65.7h0M319.8 52.8h0M322.9 131.5h0M317.3 142.1h0M321.1 128.7h0M317.5 127.8h0M316.2 127h0M321.1 151.8h0M324.9 138.8h0M320.2 127.7h0M331.4 147.7h0M326.7 139.8h0M324.1 140.8h0M315.8 130.3h0M320.9 123h0M319.3 122.1h0M325.7 142.1h0M324.4 139.5h0M331.9 136h0M313.7 132.6h0M311.8 130.1h0M326.5 149.1h0M321.7 135.4h0M318.6 128.1h0M316.1 124.3h0M244.4 72.4h0M247.7 76.6h0M252.8 72.9h0M258.3 77.9h0M247.1 78.8h0M258.1 84.9h0M248.8 73.8h0M247.1 80.1h0M238.8 75.3h0M246.6 73.2h0M256.7 81.8h0M259.1 136.2h0M266.5 123.6h0M263.9 127.6h0M257.9 139.8h0M260.8 133.7h0M264.4 127.4h0M268.6 130.4h0M247.6 56.9h0M249 61.5h0M243.3 62.2h0M247.8 67.5h0M256.3 71.1h0M256.2 76.5h0M242.2 65.4h0M249.2 73.2h0M246.4 60.4h0M250.7 62.4h0M244.5 60.8h0M247.9 51.4h0M250.9 61.2h0M246.1 70.5h0M250.9 75.5h0M251.5 72h0M254 75.8h0M250.2 48.5h0M254.6 58.9h0M246.3 75.1h0M245.9 70.5h0M254.6 66.2h0M255.1 70.4h0M254.1 61.5h0M254.3 68.6h0M240.8 112.7h0M247.8 108.5h0M246.6 112.1h0M253.2 105.8h0M241.6 104.9h0M250.4 101.4h0M242.1 108.5h0M236.6 123.1h0M233.4 112.8h0M233.9 106.8h0M233.4 113.6h0M244.8 107h0M238.7 107.9h0M242.8 116.9h0M239.7 94.8h0M231.5 108.7h0M237.9 108.2h0M244.6 104.4h0M244.5 116.3h0M238.8 108.6h0M330.5 45.2h0M324 56.8h0M318.7 59h0M321.2 63.4h0M316.5 70.6h0M321.7 54.5h0M322.7 63.2h0M317.9 69.2h0M315.2 59.9h0M324.5 54.9h0M319.7 63.5h0M332.3 57.4h0M293.9 159h0M295.5 148.3h0M293.8 146.2h0M292.3 133.2h0M290.3 135.3h0M291.6 125.1h0M293.1 154.3h0M291.8 133.7h0M293.9 159.9h0M294.3 153.5h0M292.3 145h0M291.3 155.7h0M291 143.5h0M299 34.9h0M294.6 43.7h0M293.9 55.6h0M299.6 49.8h0M296 61.1h0M297.3 42.7h0M287.8 54.5h0M301.7 33.5h0M287.5 46.4h0M297 42.3h0M290.4 35.9h0M291.3 42.9h0M304.2 35.9h0M299.2 52.7h0M294.9 50.5h0M298.9 57.7h0M294.8 40.9h0M293.6 56.1h0M297.1 50.3h0M272.6 145.9h0M273.7 136.8h0M274.8 127.6h0M275.9 131.1h0M271.1 146.9h0M273.4 137.4h0M275.2 133.5h0M313.6 30.4h0M307.5 24.2h0M305.3 34.5h0M306.2 26h0M307.5 26h0M312.8 26.7h0M312.3 27.6h0M309.2 34.2h0M315.1 33.9h0M310.9 35.3h0M304.2 31h0M311 22h0M313.1 28.1h0M313.2 32h0M313.2 28.2h0M314.3 25.9h0M315.1 32.1h0M309.7 31.8h0M305.2 31.5h0M318 29.1h0M312.9 23h0M310.5 27.4h0M309.3 31.5h0M314.1 24.2h0M313.2 31.5h0M312.9 26.2h0M314.6 29.2h0M385.4 54.2h0M385.3 53.5h0M385.1 54.2h0M381.5 50h0M382.4 51.8h0M387.2 50.7h0M385.3 46.7h0M382.7 47.6h0M386.7 50.2h0M378.9 51.9h0M383.6 54.3h0M381.5 52.5h0M381.4 48.9h0M381 50h0M384 46.7h0M380.5 49.1h0M386.3 49.7h0M383.7 54.3h0M380 52h0M385.1 53.3h0M344.7 86.8h0M347 80.7h0M351.8 67.8h0M350.5 77.3h0M347.3 84h0M353.2 77.5h0M347.5 85.6h0M362.7 84.1h0M358.8 83.8h0M352.9 77.2h0M356.5 90.6h0M348.9 86.4h0M351.4 93.5h0M349.2 80.6h0M347.6 77.3h0M356.8 74.3h0M345.5 81.2h0M350.9 89.1h0M348.4 78.1h0M354 81.8h0M353 91.9h0M353.5 73h0M362.2 87.6h0M351.1 74.7h0M350.9 90h0M352 83.2h0M351.6 89.1h0M354.6 72.7h0M350.4 80.1h0M350.5 87.4h0M362 78.4h0M349.7 83h0M349.9 77.3h0M358 77.3h0M352.7 78.4h0M352.8 83.7h0M357.5 72.5h0M353 83.3h0M348.3 88.3h0M355.8 91.9h0M352 79h0M353.4 67.5h0M352.4 83.2h0M351.1 93.2h0M353.4 82.5h0M347.7 77.9h0M356.6 92.9h0M346 82.1h0M346.1 84.1h0M357.9 73.8h0M352.3 73.4h0M362.5 77.8h0M361.6 85.5h0M344.7 80h0M362.4 87.4h0M348.6 78.8h0M363.2 87.5h0M349.3 81.3h0M343.9 79.7h0M358.5 79.8h0M264.4 69.4h0M264.9 68.4h0M263.2 63.6h0M264.6 63.4h0M257.7 64.6h0M257.9 71.9h0M263.1 69h0M264.7 69.3h0M249.7 64.3h0M253.3 60.6h0M259.8 69.7h0M253.9 67.4h0M262 65h0M256.2 65.1h0M256.1 68.3h0M250.1 66.9h0M252.7 68.6h0M262.3 69.9h0M263.5 68.7h0M260.4 66h0M248.8 63.9h0M256.4 63.5h0M265 59.7h0M262 64.4h0M260.2 73.1h0M307.2 147.3h0M298.5 148.1h0M302.8 141.3h0M303.9 143.1h0M296.9 142.1h0M302.1 152.2h0M300.9 141.9h0M306.3 142.8h0M308.7 145.5h0M303 151.7h0M301.2 139.6h0M304.4 144.2h0M305.4 141.8h0M306 144.5h0M301.8 152h0M296.8 143.3h0M299.7 143.5h0M300.5 151.2h0M299.9 151.8h0M311.9 159.4h0M310.3 155.7h0M311.4 156.5h0M318.3 152.8h0M311.8 153.3h0M309.7 155.1h0M319.7 149.4h0M315.4 149h0M320.2 155.5h0M316.8 153.2h0M320.1 151h0M314.4 154.8h0M314.1 157.5h0M319.9 159.4h0M320.3 150.9h0M315.6 153.4h0M310.5 155.1h0M319 149.6h0M390.6 165.3h0M395.3 165.3h0" fill="none" stroke="#44a8c8" stroke-width="1.0" stroke-linecap="round"/>
<path d="M254.8 128.6h0M317.9 127.8h0M233.5 76.7h0M241.8 94.7h0M282.2 60.6h0M337.6 65h0M279.7 130.2h0M239.1 115.2h0M342.4 109.5h0M303.6 43.9h0M325.9 121.7h0M348.9 129.8h0M343.4 78h0M313.1 61h0M302.9 53.6h0M233.6 102.4h0M235.4 91.3h0M301 134.8h0M244.3 119.2h0M242.2 114.6h0M250 117.5h0M353.3 81.4h0M354.2 79.7h0M284.1 146.2h0M236.4 97.6h0M239.1 98.8h0M241.5 98.5h0M323.2 134.4h0M340 67.5h0M246.3 77.9h0M319.4 39.8h0M302.6 61.2h0M248.2 122h0M244 123h0M338.7 60.1h0M279.1 143h0M235.8 107.8h0M292.2 131.9h0M239.2 88.7h0M250.8 74h0M348.6 63.7h0M340.7 76.7h0M333.3 137.2h0M319.6 45.4h0M332.5 78h0M337.9 139.9h0M254.9 120.5h0M357.8 121.6h0M311 40.5h0M286.3 61.1h0M346.2 139.2h0M291.1 139.8h0M286 132.5h0M237.6 78.8h0M239.4 62.7h0M237.6 105.6h0M296 154.5h0M272.1 142.6h0M311.3 35.3h0M312.8 35.4h0M304.6 34.6h0M304.5 149.2h0M315.9 160.3h0M318.3 157.9h0M320.7 157.5h0M309.5 155.2h0M224 100h0M239 162h0M258 165h0M372 142h0M357 145h0M233 48h0M390.6 160.6h0M395.3 160.6h0M399.5 165.2h0M404.1 165.2h0M408.6 165.2h0M413.1 165.2h0M417.7 165.2h0M422.2 165.2h0M426.8 165.2h0M431.4 165.2h0" fill="none" stroke="#b87c55" stroke-width="1.0" stroke-linecap="round"/>
<path d="M280 131.8h0M262.9 103.4h0M308.6 88.9h0M281.5 110.3h0M295.8 85.3h0M286.2 89.5h0M344.2 92.9h0M296.6 127h0M263.2 80h0M330.4 104.5h0M305.2 86.3h0M238.1 97.3h0M334.5 104.9h0M325.8 81.9h0M289.2 125.7h0M308.8 110.8h0M268 85.9h0M293.3 88.6h0M313.4 100.4h0M327.5 118.9h0M298.6 82.1h0M273.2 121.6h0M275.2 105.6h0M247.8 107.3h0M318.9 79.9h0M322.4 78.1h0M272.2 98h0M254.7 118.2h0M290.7 118.2h0M279.4 96.6h0M259.2 121.3h0M309.3 92.3h0M282.8 127.2h0M250.5 115.3h0M284.3 129.6h0M303.1 112.3h0M334.6 106.1h0M331.3 95h0M304.4 101.9h0M279.5 101.8h0M302.9 98.2h0M284.7 109.2h0M254.1 91.2h0M262.6 116h0M247.6 103.9h0M314.2 110.5h0M291.2 108.4h0M298 116.6h0M276.2 127.2h0M324.5 78.7h0M305 68.3h0M287.2 63.4h0M301.4 104.2h0M289.1 128.5h0M313.1 113.3h0M293.4 120.9h0M288.1 100.4h0M322.1 109.9h0M274.4 128.7h0M257.3 104.7h0M256.7 84.9h0M271.2 106.8h0M264.2 121.7h0M275 112.7h0M284 59.6h0M297.8 74.3h0M248.2 94.8h0M323.3 98.6h0M248.7 98.9h0M332.4 82.8h0M245 90.6h0M317.6 106.4h0M277.3 129.9h0M288.6 84.4h0M323.9 79.3h0M289.4 64.6h0M292.9 135.8h0M288.1 97.5h0M331.1 76.4h0M277.1 104.3h0M259.2 119.3h0M283.6 115h0M263.2 73.3h0M330 105.4h0M261.9 106.5h0M315.6 85h0M251.7 86.6h0M266.1 70.8h0M327.8 104.6h0M312.4 73.1h0M313.7 121.3h0M307.3 63.4h0M302.2 101.7h0M260.4 110.1h0M319.4 114.3h0M292.4 62.6h0M265.3 121.8h0M270.8 109h0M264 87.5h0M311.9 72.8h0M283.9 85.9h0M322.5 110.3h0M307.4 91.7h0M290.9 122.7h0M276.5 95.4h0M272.1 97.6h0M333.9 89.3h0M295.3 69.7h0M293.6 70.2h0M309 66.3h0M309 86h0M244.4 111.3h0M288 123.4h0M255 119.6h0M293.3 102.2h0M306.5 109.4h0M301.4 93.5h0M291.3 70.3h0M322.5 114.3h0M268.8 113.7h0M265.7 89.1h0M293.9 69.8h0M283.1 120.7h0M248.2 92.1h0M341.1 87h0M323.8 106.7h0M255.6 93h0M299.7 82.6h0M319.6 93.1h0M288.9 133.6h0M259.6 114.3h0M243.1 107.2h0M336.4 102.6h0M298.9 90h0M260.3 78.1h0M325.6 105.1h0M326.4 76.5h0M323.5 117.9h0M290.4 98h0M269.1 98.4h0M288.6 134h0M322.7 106.6h0M278.1 82h0M250.8 103.7h0M306.6 111.5h0M249.4 87.6h0M298.2 61.2h0M262.1 123.5h0M262.9 74.3h0M282.5 107.5h0M313 69.9h0M262.8 71.7h0M264.5 107.2h0M284.8 113.7h0M271.9 95.8h0M239.3 94.6h0M272.1 98h0M335.1 112.1h0M265.9 102h0M298 123h0M260.3 115.9h0M323.7 88.4h0M259.6 96h0M300.5 126h0M250 104h0M311.9 124.1h0M282.9 103.8h0M322 117.5h0M238.6 97.4h0M286.5 119.5h0M267.8 68.9h0M275.9 128.8h0M249.1 110.1h0M245.8 95.6h0M295.9 79.8h0M252.9 91.7h0M306.2 80.3h0M273.3 76.7h0M334.8 97h0M290.3 68.1h0M263.4 116.6h0M247.9 104.8h0M292.1 82.3h0M300.4 64.4h0M284.1 62.2h0M282.2 107.2h0M313.9 105.2h0M288.2 70.8h0M339.3 88.2h0M246.3 102.7h0M293 61.5h0M297.8 71.5h0M285.4 70.8h0M280 113.5h0M244.7 91.1h0M324.7 110.9h0M314.2 96.3h0M294.7 98h0M294 99.3h0M242 99.1h0M326.7 83.5h0M246 106.1h0M280.8 131h0M288.4 70.9h0M274.3 95.2h0M327.4 100.9h0M279.9 77.6h0M309.4 79.7h0M242 104h0M288.5 131.8h0M270.8 118.9h0M271 71.8h0M273.2 101.4h0M264.7 118.2h0M267.3 99.5h0M280 68.5h0M302.8 82.7h0M275.4 125.2h0M298.8 57.6h0M254 117h0M287.7 68.9h0M305.2 119.1h0M266.1 79.6h0M260.2 100.8h0M291.7 124.9h0M239.3 95.7h0M274.4 86.3h0M296.7 135.6h0M295.5 123.2h0M322.9 94.7h0M309.8 100.8h0M312 67.2h0M303.4 114.6h0M284 96.1h0M316.6 68.3h0M260.3 89.5h0M316.2 104.7h0M329.3 90.5h0M278.9 117.5h0M332.3 96.8h0M322.6 96.3h0M265.1 86.4h0M301.4 132.9h0M288.5 67.2h0M261.8 73.5h0M273 93.2h0M272.9 116.6h0M251.9 87.2h0M282.3 115.1h0M313.8 114.9h0M296.1 109h0M288.7 103.8h0M307.3 117.3h0M293.5 118.3h0M272.2 68.9h0M247.2 95.6h0M259.8 76.3h0M330.6 83.8h0M291.3 76.7h0M293 68.4h0M251.5 104.4h0M307.9 93.5h0M250.3 97.3h0M338.1 89.5h0M333.9 79.5h0M271.6 123.7h0M318.5 72.8h0M321 91.9h0M316 99.6h0M299.4 77.5h0M246.6 83.9h0M307.9 113.8h0M291 116.9h0M293.9 82.3h0M293.4 66h0M339.1 103.1h0M321.8 96.2h0M292.6 92.4h0M240 101.5h0M256.8 106.3h0M259.5 98.2h0M291.6 122.9h0M263.7 77.4h0M278.6 75.3h0M300.2 131.7h0M307.3 100.5h0M288.9 86.8h0M332.8 85.7h0M269.6 86.7h0M327.9 105.1h0M322.1 81.1h0M323.4 123h0M279.8 131.6h0M285.7 127h0M286.8 88.1h0M295 125.2h0M288.7 123h0M300.9 93.4h0M311.4 105.1h0M247.3 99h0M298.2 114.3h0M322.7 90.4h0M285.4 129.6h0M302.9 92.6h0M296.1 126.7h0M261.3 79.8h0M277.5 70.6h0M329.1 85.4h0M299.2 63.5h0M337.4 98.7h0M290.9 103.9h0M249.9 106.2h0M284.7 77.1h0M274.1 79.5h0M256.4 76.3h0M257.5 74.3h0M289.2 120.6h0M250.7 86.5h0M307.6 101.2h0M258 73.7h0M255.4 96.2h0M272.7 90.3h0M246.2 92.5h0M306 105.2h0M279.8 108.2h0M276.3 104.7h0M252.6 80.2h0M318.5 94.9h0M284.4 114.2h0M254.1 75.8h0M268.6 79.1h0M279.1 73h0M277.3 66.7h0M301.2 75.6h0M241.5 90.2h0M240.7 90.8h0M271.3 68.9h0M302.9 83h0M291.4 70.2h0M257.3 123h0M280.2 75.8h0M324.9 80.9h0M271.7 88h0M282.2 89.1h0M274.3 96.2h0M279.5 76.5h0M253.7 84.1h0M298.1 83.6h0M344.3 96.9h0M316 71.7h0M284.2 69h0M260.6 122h0M315.6 94.5h0M288.5 72h0M269.9 86.7h0M255.6 90.5h0M274.4 129.3h0M284.3 78.4h0M303 113.3h0M259.9 94h0M302.2 106.6h0M290.3 130.8h0M320.4 67.3h0M241.4 100.2h0M262.8 92.2h0M239.6 101.2h0M278.8 68.8h0M255.7 100.6h0M251.6 88.7h0M342.9 85.2h0M303.7 93.8h0M291 111.9h0M310.4 68.2h0M288.8 121.4h0M255 115.9h0M313.9 104.2h0M295.8 76.5h0M245.5 111.5h0M287.3 119.2h0M331.1 106.1h0M322.7 80.3h0M306.3 122.4h0M300.4 121.8h0M292.6 126.4h0M282.9 121.3h0M264.4 115.9h0M280.4 75.9h0M318.9 122.7h0M303.7 128.9h0M250.6 116.8h0M325.1 78h0M300.2 106.4h0M331 83.3h0M297.4 62.7h0M334.7 88.7h0M301.2 106.6h0M293.9 129.3h0M287.6 70.5h0M276.5 120h0M296.1 81.6h0M269.2 80.2h0M259.1 70.7h0M298.7 71.2h0M296.2 134.3h0M271 63.2h0M284.6 125.5h0M283.8 76.3h0M277.8 75.4h0M256 116.7h0M324.4 120.4h0M266.3 105.1h0M297.2 121.1h0M278.7 131.5h0M278.9 77.5h0M252.7 108.2h0M280.8 63.9h0M302.9 94.4h0M323.5 97.5h0M250.2 102.7h0M341.5 102.9h0M311.6 105.6h0M291.1 80.2h0M296 111.1h0M259.9 115.1h0M238.7 106.6h0M321.2 95.8h0M268.1 101.5h0M252.3 96.7h0M309.4 109.3h0M337.5 95.6h0M291.1 66.5h0M279.4 95.1h0M333.2 95.5h0M263.6 79.1h0M324.9 75.7h0M262.7 96.6h0M317.8 91.3h0M314.2 97.6h0M285 72.9h0M297.3 62.3h0M338.5 110.3h0M248.4 85.8h0M253.2 116.7h0M315.5 123.2h0M286.5 128.9h0M278 91.1h0M265.5 102.5h0M280.5 127.9h0M291.4 132.2h0M268.9 65h0M276.6 119.9h0M333.6 93.1h0M303.1 125.9h0M296.7 120.4h0M329.4 91.1h0M248.5 102.2h0M286.4 128.3h0M284.4 73.2h0M244 102.1h0M314.9 93.5h0M313 86.8h0M253.1 79.3h0M253.4 88.6h0M309 64.3h0M334.6 99.4h0M290.6 60.3h0M287.1 66h0M314.3 77.5h0M244.8 99.6h0M249.9 93.9h0M274.5 97.5h0M295.3 65.6h0M299.8 118.5h0M301.5 118.1h0M335.7 91.5h0M243.6 95.4h0M271.5 105.5h0M290.9 128.1h0M247.1 78.3h0M301.7 107.9h0M283.1 115.7h0M273.6 118.3h0M311.6 95.2h0M259 92h0M329.5 86.1h0M263.3 88.8h0M324 103.8h0M309.7 123.4h0M257.5 116.6h0M290.4 85.5h0M318.6 79.2h0M248 79.3h0M327.1 92.5h0M307.3 99.4h0M308.4 86.9h0M284.1 115.4h0M328.3 99.6h0M320.3 119.7h0M294.2 72.9h0M284.2 128.3h0M270.3 101.8h0M247.2 91.6h0M262 94.2h0M299.9 117h0M292.8 111.1h0M283.5 113h0M324.1 80.6h0M276.3 96h0M308 70.3h0M283.1 125.9h0M311.7 131.6h0M298.9 129.9h0M281.6 115h0M309.9 121h0M301.2 63.4h0M260.1 120.9h0M262.5 75.9h0M317.5 80.6h0M339.7 102h0M252.4 80.9h0M306.7 127.1h0M259.6 95.5h0M284.4 129.5h0M285.3 102.1h0M312.6 96.3h0M332.4 102.8h0M303.7 119.6h0M334.4 81.9h0M290.9 66h0M258.2 102.9h0M291.8 114.8h0M276 128.8h0M290.7 81.5h0M300.4 75.2h0M291.6 84.5h0M318 86h0M247.1 104.7h0M302.1 81h0M258.3 94h0M336.8 95.4h0M269.4 95.8h0M310.1 112.1h0M309 62.9h0M320.9 91.3h0M240.3 95.3h0M317.5 76.1h0M298.4 69.7h0M308.1 95.9h0M280 71.9h0M273.5 70.2h0M327.6 112.3h0M261.8 99h0M344.2 97.6h0M268.4 88.4h0M320.9 114.8h0M312.8 119.2h0M254.3 76.6h0M257.8 111.2h0M310 83.3h0M267.2 89.3h0M256.7 92.3h0M303.4 78.6h0M339.7 102.2h0M241.6 100.1h0M323.8 86h0M325.5 109.7h0M303.7 117h0M259.2 116.7h0M338.3 87.2h0M294.9 79.8h0M267.8 81.9h0M336 108.2h0M327.1 107h0M252.7 95.4h0M328 78.1h0M341.4 84.1h0M308.7 68.1h0M337.7 86.6h0M280.6 95.5h0M280.9 73.4h0M286.8 60.5h0M299.3 115.1h0M295.8 72h0M289 119.5h0M306.2 86.6h0M265.5 72.7h0M282.6 122.9h0M245.4 80.3h0M253 80.2h0M328.1 114.2h0M336 96.5h0M287.1 108.4h0M298.8 79.4h0M287.7 104.8h0M343.2 102.4h0M291.8 70.2h0M299.9 132.8h0M302.6 86h0M257.7 87.1h0M344.6 93.3h0M308.1 130h0M311.4 109.8h0M286.1 129.4h0M274.4 110.7h0M308.7 108h0M306.5 109.3h0M260.6 76.5h0M311.4 62.4h0M273.8 121.3h0M317.5 87.9h0M290.1 65.7h0M323.7 120.5h0M251.2 97.4h0M329.1 86.5h0M274.8 107h0M292.9 61.2h0M263.6 66.5h0M320.1 74.1h0M302.1 96.5h0M260.3 111.3h0M262 117.3h0M316.4 94.9h0M290.3 112h0M275 70.2h0M323.5 95.9h0M253.1 93.6h0M263.9 117.7h0M274.4 102.1h0M323.6 93h0M312.4 98h0M329.6 117.4h0M250 97h0M337.8 101.3h0M271.3 111.2h0M332.9 89.4h0M274.5 118.2h0M326.8 76h0M255.4 82.6h0M262.4 92.1h0M292.9 100.1h0M321 76.5h0M276.8 77.1h0M303.7 96h0M253.7 88.7h0M246.3 94.8h0M260.2 74h0M245.3 106.8h0M285.8 99h0M318.3 88.6h0M269.9 62.4h0M303.6 105.3h0M269.3 124.2h0M342.9 95.7h0M250.4 99.7h0M248.1 99h0M259.6 74.4h0M315.9 96h0M276.3 112.9h0M304.9 105.5h0M322.6 66.4h0M310.2 129.2h0M310.9 110.3h0M330.4 114.3h0M318.6 121.1h0M257.3 117.3h0M331.4 100.7h0M261.7 107.7h0M264.2 70.5h0M333.7 94.4h0M254.2 86.1h0M279.2 61.9h0M285.1 84.1h0M266.1 115h0M315.6 104.8h0M316.9 66.1h0M245.6 94.7h0M323.7 88.1h0M325.5 90.4h0M268.1 79.4h0M297 123.5h0M311.9 68.4h0M292.1 134.4h0M327.8 80.7h0M324.1 88.8h0M325.3 121.9h0M312.8 66.5h0M326.4 116.9h0M317.8 120.8h0M253.4 97.7h0M326.9 76.3h0M246.4 100.5h0M290.7 76.3h0M289.8 80.3h0M324.3 70.4h0M273.9 94.6h0M292.7 73.3h0M308.3 122h0M254.4 93.3h0M316.4 92.2h0M255.4 100.4h0M311 117.6h0M335.7 96h0M290.7 107.8h0M330 94.8h0M269.8 68.2h0M276.6 65.9h0M244.4 95.9h0M292.6 133.6h0M272 96.1h0M327.9 93.8h0M310.2 101.8h0M260.7 110.9h0M300.4 82.8h0M314.3 77.2h0M307 90.2h0M290.1 131.7h0M283 113.1h0M282.7 77.2h0M273.9 124.3h0M298.9 91.6h0M257.7 96h0M259 102.6h0M260.8 109.1h0M341.4 88.2h0M269.1 124.1h0M298.9 80.9h0M259.1 81.9h0M341.9 96.5h0M284 78.6h0M300.6 66.9h0M326.5 79.6h0M323.9 76.1h0M262.7 75.7h0M273.2 130.1h0M291.5 124.2h0M279 123.3h0M260.5 118.3h0M282.3 110.9h0M250.9 79h0M305.8 92h0M250.9 109.8h0M277.8 80.3h0M289.6 103.4h0M328.2 96.5h0M266.3 118.4h0M284.3 125.1h0M291.7 111.2h0M274.2 92.6h0M332.7 84.8h0M297.9 63.3h0M315.5 82.8h0M333.4 90.4h0M326.2 116.6h0M322.8 73.3h0M260.4 80.7h0M284.7 63h0M263.2 117.5h0M293.1 64.4h0M338.3 100.9h0M329 77.2h0M289.3 64.1h0M264.8 100.5h0M275.4 68h0M284 126.5h0M286.3 117.4h0M279.6 73h0M337.1 109.2h0M280.9 100.2h0M271.6 88.4h0M321.8 77.9h0M293.6 90.7h0M247.4 111.9h0M242.8 98.7h0M315.8 73.9h0M322.2 80.3h0M288.2 97.9h0M259 94.8h0M337.9 91.3h0M292.6 55.4h0M240.4 99h0M278.7 95.6h0M267.1 112.7h0M297.2 76.4h0M334.6 97.4h0M327.2 86.2h0M245.9 86.7h0M277.4 94.8h0M264.1 97.3h0M344.5 97.2h0M288.1 68h0M279.9 61.9h0M297.5 129.1h0M340.5 99h0M303.7 91h0M280.4 126.3h0M296 103.1h0M244.5 81.6h0M319.9 80.6h0M306.5 121.5h0M253.5 96.4h0M317.7 126.4h0M284.7 131.2h0M293.1 101.6h0M243.6 88.2h0M307.6 71.3h0M287.7 102.9h0M299.8 106.3h0M293 82.6h0M269.2 87.3h0M276.1 90.7h0M309.4 100h0M254 115.4h0M317.5 94h0M335.7 102.4h0M281 91.3h0M276 89h0M273.5 103.3h0M292 111.6h0M295.4 101.1h0M279.9 90.4h0M312.5 91.6h0M245.3 107h0M285.8 123h0M279.8 112.6h0M316.7 129.3h0M262 94.4h0M271.9 80.7h0M289 63.4h0M320 72.6h0M335.1 93.8h0M286 120h0M305.9 111.8h0M322 96.6h0M309.9 85.6h0M287.6 85.5h0M321.6 111.7h0M328.2 75.3h0M289.9 74.9h0M284.8 115.5h0M290.3 62.5h0M248.8 79h0M298.1 119.8h0M320.1 82.5h0M238.2 103.1h0M269 116.2h0M298.8 75.1h0M318.5 99.7h0M312.5 110.8h0M249.2 91.7h0M325.1 73.3h0M304 128.5h0M248.8 94.6h0M272.6 83.3h0M328.1 82.6h0M264.3 111.3h0M320.6 92.8h0M287.4 76.5h0M264.1 91.8h0M325.2 95.4h0M296.2 127.3h0M306 120.4h0M287.3 69.6h0M285.3 71.6h0M275.2 71.9h0M249.6 77.9h0M287.6 109.2h0M272.4 113.7h0M309.4 119h0M264.1 106.8h0M293.1 125.9h0M278.1 70.8h0M310.3 84.5h0M276 82.9h0M291.4 122.6h0M265.4 74.7h0M299.9 67.6h0M272.3 114.9h0M250.7 90.7h0M303 95.1h0M331.9 91.8h0M271.8 124.5h0M322.9 96.7h0M253 79.4h0M268 75.9h0M279.4 127.8h0M273.8 83.9h0M268.6 108.2h0M253.6 78.9h0M329.7 83.5h0M292.8 69.7h0M271.4 66.5h0M343 101.4h0M321.1 87.7h0M293.6 128.5h0M249.5 95.1h0M309.4 63.2h0M291.1 127.3h0M289.7 78.4h0M296.9 66.5h0M284.8 131.4h0M283.8 65.1h0M304.5 85.6h0M271.2 73.8h0M294.3 119.8h0M275.1 117.7h0M328.2 107.9h0M299.5 109.2h0M280.3 114.4h0M283.2 91.8h0M270.5 103.7h0M263.4 96.4h0M321.6 102.6h0M278.4 131.9h0M315.3 99.3h0M268.3 126.6h0M262.5 120.4h0M328.7 86.4h0M302.4 90.7h0M336.9 92.1h0M263.3 82.4h0M290.9 85.1h0M323 88.2h0M264.8 115.9h0M253.5 105.5h0M296.1 116.4h0M309.4 91.7h0M309.7 83.6h0M336.6 109.5h0M275.6 110.7h0M264.8 99.8h0M253.1 92.1h0M337.5 109.2h0M243.7 103.3h0M340.3 106.3h0M270 126.2h0M288.8 111.9h0M311.9 112.5h0M264.9 76.6h0M280.5 116.3h0M268.1 80.1h0M254.9 77.9h0M292.9 127.4h0M285 124.7h0M257.7 110.9h0M276.2 102.7h0M328.5 93.2h0M264.3 101.5h0M242.3 95.2h0M260.3 88.1h0M270.2 97.5h0M245.5 96.1h0M320.1 122.2h0M287.8 60.7h0M291.1 88.8h0M290.2 57.8h0M296.7 91.1h0M263.6 78.3h0M307.1 90.4h0M238.5 98.6h0M291 105.3h0M251.2 97.8h0M322.7 117.7h0M336.1 103.6h0M279.4 115.4h0M300.8 69.8h0M258.5 110.5h0M283.3 103.8h0M291.2 88.6h0M310.8 99.1h0M256.3 76.4h0M306.3 62.2h0M303.5 71.3h0M300.4 115.8h0M326.2 100.7h0M269.4 72.1h0M238.1 100h0M293.6 114.1h0M278.5 130.9h0M303.7 99.1h0M263.5 111.4h0M290 122.5h0M304 123.4h0M320.3 106.8h0M278.9 85.2h0M249.4 77.1h0M266.2 124.7h0M262.8 74h0M339.2 83.2h0M321.9 112.3h0M327.8 94.4h0M274.5 122.7h0M290.1 70.9h0M338.7 92.3h0M250.8 88.3h0M249.6 79.6h0M251.9 96.1h0M281.2 86.5h0M324.4 73h0M302.9 126.7h0M292.2 131.4h0M282.7 125.7h0M299.7 68.9h0M245.6 110.1h0M304.9 87.2h0M272.3 121.5h0M294.7 72.8h0M293.5 68.5h0M308.4 113.4h0M305 82.2h0M270.1 102.4h0M276.2 79.4h0M283.9 130.2h0M298.3 78.2h0M335 84.5h0M322.6 126h0M290.9 58.2h0M256.7 84h0M285.2 129.8h0M315.6 97.1h0M255.7 95.4h0M258.5 97.4h0M327.5 102.3h0M309.3 127.6h0M272.9 86.4h0M289.1 122.9h0M242.5 107.2h0M277.3 70.8h0M253.9 77.9h0M303 64.1h0M268.4 94.3h0M318.5 83.1h0M304.7 100h0M288.4 132.2h0M262.7 116.4h0M309 69.1h0M311.8 115.1h0M314.9 73.5h0M318.8 113.3h0M258.2 68.1h0M300.2 129.6h0M319.6 118.4h0M331.9 96.3h0M323.1 110.1h0M292.2 90.1h0M301.2 73.1h0M328.1 99.3h0M297.9 112.1h0M254 95h0M324.2 102.9h0M335.2 79.7h0M280.6 116.6h0M278 96.6h0M290.3 135.4h0M312.2 127.2h0M308.7 127.2h0M294.7 66.5h0M255.2 105.4h0M249.4 91.4h0M238 101.1h0M296.1 57.2h0M313.2 77.7h0M245.9 89.8h0M311.8 99.2h0M317 97.1h0M261.4 90.9h0M262.7 120.9h0M314.9 89.3h0M293.7 67.8h0M330.9 78.3h0M299.8 82.6h0M288.2 121.3h0M313.2 79.8h0M299.1 76.3h0M335.1 90.2h0M281.8 61.8h0M336.5 96h0M328.9 76.9h0M335 88h0M297.9 131.2h0M249.5 89.7h0M279.2 91.7h0M270.3 69.4h0M302.2 68.1h0M322.7 115.5h0M244.9 90.4h0M248.3 99.4h0M283.9 77.6h0M256.9 74.1h0M335.1 97.5h0M257.9 103.3h0M317 86.4h0M291 121.6h0M285 118.2h0M269.2 75.5h0M249.1 94.4h0M302.7 82.3h0M258.3 74.7h0M345.2 96.4h0M257.7 118.6h0M305.5 122.6h0M295.3 124.4h0M289 70.1h0M278.4 108.7h0M332.6 86.8h0M288 80.3h0M305.2 66.7h0M245.1 94.6h0M241 99.5h0M272.4 93.5h0M278.8 131.5h0M265.5 68.4h0M284 73.9h0M252.9 88.5h0M305.5 84.4h0M305.6 116.7h0M297.8 131.1h0M242.5 90.4h0M250 96.5h0M316.3 100.6h0M281.4 81.3h0M249.4 82.2h0M276 121.4h0M305.4 130.3h0M305.7 107.8h0M323.5 95h0M310.2 125.6h0M304.8 116.5h0M290.4 116.7h0M277.1 69.3h0M281.1 83.1h0M312.4 103.1h0M302.9 74.9h0M290.9 113.5h0M238.4 95.2h0M249.5 96.8h0M266 73.2h0M245.9 107.6h0M296.3 72.9h0M307.3 101.9h0M336.6 99.3h0M315.5 125.1h0M283.6 120.4h0M290 108.2h0M304.4 65.2h0M288.2 87.6h0M298.7 61.4h0M320.4 70.4h0M236.7 92.1h0M300.3 120.9h0M289.7 115.1h0M294 65.1h0M273.2 105.5h0M330.1 102.5h0M315.6 86.6h0M310.1 116.1h0M283.2 64.8h0M291.2 124.9h0M333.8 108.9h0M341.2 101.4h0M322.3 98.8h0M251.6 95.3h0M239.7 100.1h0M295.5 113.7h0M270.3 115.3h0M332.7 90.3h0M271 82.8h0M288.4 72.4h0M298.6 64.2h0M302.4 121.8h0M279.3 105.3h0M331.1 95.2h0M292.5 100h0M252.8 114.5h0M315.3 69.6h0M254.5 119.3h0M276.6 112.4h0M300 129.1h0M241.6 101.1h0M294.1 63.3h0M298.5 70.6h0M281.9 89.3h0M326.4 77.8h0M307.3 106.2h0M291.9 102.6h0M292.5 73.8h0M265.9 121.5h0M291.4 129.1h0M311.5 108.4h0M306.3 115h0M341.6 86.3h0M325.8 117.9h0M319.9 96.8h0M249.1 82.7h0M260.2 125h0M287.8 134h0M264.4 93.8h0M306.1 69.9h0M305.9 98.6h0M293.2 132.2h0M327.5 98.1h0M341.1 101.5h0M342.3 104.6h0M284.2 69.7h0M260.6 107.7h0M294.7 130.2h0M318.6 89.1h0M261.9 91.8h0M313.9 93.9h0M339.7 99.5h0M300.1 83.5h0M251.6 113.1h0M295.5 92.5h0M300.3 108.7h0M300.8 125.2h0M244.1 87.6h0M291.4 131h0M284.3 57.5h0M262.1 87h0M308.4 81.9h0M299.8 124.6h0M248.8 89.5h0M332.9 79.6h0M343.6 92.4h0M312.9 75.8h0M291 111.2h0M291.3 89.2h0M338.6 89h0M312 129h0M272.9 76.1h0M259.8 94.1h0M255.8 101.8h0M292.4 67.9h0M312 100.2h0M295.3 131.9h0M301.7 65.9h0M245.3 108h0M287.4 77.7h0M312.1 103.6h0M296.3 119.4h0M315.7 94.9h0M255.9 108.9h0M273.8 98.6h0M299 71.8h0M262 74.7h0M327.8 69.5h0M254.9 111.3h0M295.6 82.3h0M276.3 128.1h0M319.4 109.7h0M335 90.3h0M305.2 69.2h0M246.4 105.1h0M299.9 63.2h0M325.8 86.1h0M268.2 105.8h0M240.3 96.7h0M275.8 92.5h0M268.6 78.1h0M259.4 79h0M287.4 120.7h0M279.7 99.9h0M246.8 96.3h0M239.6 95.2h0M295.3 126h0M307.6 68.9h0M289.3 87.2h0M250.1 86h0M247.5 103.3h0M254 109.9h0M298.7 97.3h0M284.8 114.3h0M270.9 79.1h0M300.8 98.4h0M273 119h0M289.6 110.1h0M273.9 87h0M326.9 108.7h0M264.4 89.3h0M265.3 100.7h0M276.2 61.5h0M296.3 57.9h0M319.5 95.5h0M323.6 112h0M294.4 60.4h0M255 92.4h0M261.2 87.6h0M301.5 117.9h0M317.9 69.5h0M277.1 113h0M305.4 84h0M302.4 101.9h0M259 116.1h0M254.5 98.9h0M264.3 128.8h0M292 70.5h0M261.5 114.5h0M285.5 132.9h0M321.9 70.2h0M342.1 97.5h0M313.6 98h0M268.7 113.9h0M271.1 110.6h0M337.1 110.8h0M291.2 109.7h0M289.8 87.8h0M299.7 75.5h0M276.9 125.8h0M271.4 66.5h0M310.2 129.8h0M241 100.2h0M335.8 93.2h0M299.8 68.6h0M249.2 105.7h0M253.4 80.2h0M306.1 98.4h0M340.8 83.6h0M312.6 69.4h0M332.8 86.9h0M294.1 70.6h0M332.6 99.8h0M290.3 118.4h0M257.8 110.8h0M301.9 85.6h0M249.9 75.7h0M276.7 64.2h0M259 72.4h0M266 73.7h0M328 100.4h0M293.4 113h0M242.4 97.7h0M329.3 80h0M296.1 100.4h0M291.6 119.3h0M284.4 60.3h0M295 115.6h0M300.3 104.7h0M251.4 111h0M275.1 129.4h0M315 105.8h0M343.1 98.7h0M280.2 70.7h0M316.4 72.7h0M314.1 101.8h0M288 72.2h0M334.4 103.4h0M295 119.2h0M265.5 120.4h0M238.7 93.5h0M274.7 64.9h0M251.1 85.7h0M328.7 102.1h0M339.4 110h0M262.5 87.5h0M340.8 94.4h0M266.9 84.7h0M289.6 67.9h0M285.2 59.1h0M252.7 111.9h0M295.7 72.2h0M305.5 91.2h0M242.9 92.8h0M254.1 79h0M264.4 110.8h0M302.7 102.9h0M276 87.7h0M331.2 109.2h0M289.2 66.8h0M329.6 104.6h0M255 113h0M321 112.1h0M271.1 66.1h0M299.8 89.8h0M266.8 127.8h0M296.3 59.8h0M285.9 104.4h0M272.9 106.9h0M334.5 93.7h0M318.4 123.5h0M281 110.7h0M282 125.2h0M310.2 116.6h0M314 104.6h0M347.3 94.6h0M241.9 94.6h0M250.2 87.6h0M301.5 69.8h0M279.4 109.6h0M305.4 79.5h0M335.9 78.3h0M274.5 118.9h0M262.9 105.5h0M282.9 121.5h0M266.5 102.8h0M296.4 115.6h0M259.7 74.5h0M257.2 81.4h0M268.4 68.6h0M291.1 117.1h0M299.9 82.3h0M304.9 98.8h0M333.3 91.7h0M338.5 92.8h0M275 124.1h0M298.1 85.2h0M286.5 67.5h0M310.7 93.1h0M288.9 89.7h0M299 74h0M239.4 95.6h0M260 80.2h0M284.5 110.8h0M334.4 97.9h0M276 103.4h0M327.4 103.2h0M290.8 122.8h0M251.6 102.7h0M304.4 119.7h0M266.6 89.4h0M256.3 92.3h0M311.9 77.3h0M293.5 96.9h0M282.7 75.3h0M323 94.9h0M316 107.9h0M330.1 106.2h0M300.2 68h0M256.1 96.2h0M293.2 66.2h0M294 69.8h0M241.4 99.7h0M340.2 93.3h0M300.1 88.8h0M326.5 96.5h0M257.5 108.5h0M263.6 86.4h0M300.1 97h0M242.8 90.6h0M298.1 83.2h0M316.5 93.8h0M311.5 83.9h0M288.2 73.9h0M284.5 115.4h0M290.3 69.8h0M308.7 71.9h0M244.8 86.6h0M265.2 124.1h0M305.6 94.6h0M317.8 125.6h0M333.2 102.6h0M322.1 110.4h0M275.3 77.1h0M280.7 69.4h0M291 58.1h0M288.1 134.8h0M260.1 102.1h0M299.9 66.3h0M298.1 112.6h0M306.8 108.7h0M325.5 85.3h0M298.9 132.8h0M314.3 79.1h0M242.2 93.1h0M315.4 72.4h0M279.8 70.8h0M297.6 85.6h0M309.4 102.1h0M276.8 91h0M273.3 96.3h0M259.3 107h0M249.6 93.3h0M291.3 106.7h0M296.9 82.3h0M329.5 75.5h0M259 71.2h0M294.6 79.6h0M264.2 92.4h0M302.1 67.8h0M280.5 124.5h0M289 104.5h0M301.3 91.8h0M251.2 117.5h0M305.7 97.7h0M287.8 132.2h0M292.9 131.8h0M307.9 121.1h0M301.5 122.7h0M288.6 78.4h0M304.1 74.7h0M277.7 66.3h0M253.4 93.7h0M307.5 62.4h0M262 88.3h0M276.2 104.3h0M291.4 98.5h0M333.4 82.8h0M279.1 129.9h0M308.5 81.8h0M292.5 86.3h0M269.5 104h0M293.7 124.9h0M297.5 76h0M308 69.1h0M265.3 108.7h0M301.5 82h0M315.9 76.5h0M283.9 130.4h0M304.1 58.9h0M288.4 114.5h0M272.8 122.5h0M251.3 102.9h0M273.9 107.7h0M310.2 72.7h0M320.5 95.8h0M266.6 81.9h0M280.7 96.2h0M293.1 80.4h0M331.7 93.4h0M325.5 77.6h0M256.9 71.6h0M296.9 76.1h0M302.4 66.9h0M264.7 103.2h0M331.5 74.2h0M310.6 115.6h0M317.4 117.3h0M311.2 103.2h0M279.2 59.6h0M282.7 67.3h0M310.9 73.8h0M292.1 103.1h0M300.8 93.3h0M305.7 72.2h0M296.1 118.2h0M297.5 113.9h0M329.5 73.6h0M303.4 129.8h0M277.2 127.1h0M264.2 116.6h0M318.7 70.3h0M324.5 90.6h0M294.5 131.9h0M309.7 84.4h0M273.2 97.3h0M303.4 75.8h0M321.3 100.1h0M322.2 96.5h0M272.5 87.6h0M319.6 100.6h0M274.1 101.2h0M244.5 101.4h0M303.1 110.6h0M290.5 125.5h0M278.4 63.7h0M292 62.2h0M261.4 90.6h0M290.4 65.3h0M287.3 120.9h0M244.4 84h0M291.1 80.9h0M301.4 87.9h0M315.3 74.3h0M337.7 86.1h0M326.5 75.2h0M266.7 64.5h0M292.7 118.7h0M247.9 103.8h0M321.7 105.8h0M250.9 110.8h0M329.8 83.3h0M295.4 73.5h0M281.2 110.4h0M280.2 94.9h0M325.5 88.1h0M299 131.1h0M289.2 114.7h0M296.8 71.7h0M265.8 121.6h0M304.6 85h0M270.7 114.2h0M247.8 105.2h0M278.8 86.6h0M310.7 96.7h0M332.9 115.1h0M291.9 73.1h0M304.1 72.1h0M312.3 123.7h0M326.2 91.8h0M277.6 130.6h0M271.6 86.3h0M321.1 124.7h0M262.3 99.3h0M297.1 125.5h0M294.3 60.3h0M296.5 112.2h0M249.8 94h0M307.8 121.4h0M280 80h0M292.1 72.9h0M281.4 74.6h0M262.7 109h0M298.3 103.8h0M259.6 90.5h0M311.4 88.8h0M286.8 106.6h0M257.7 104h0M304.5 80.9h0M271.8 118.6h0M274.2 116.1h0M294.1 110.8h0M321.9 117.2h0M331 94.2h0M285.5 76.5h0M281.5 131.7h0M268.9 106.9h0M338.8 97.2h0M318.1 96.3h0M293 79.2h0M307.9 97.9h0M264.3 63.3h0M309.4 97.9h0M332.9 107.8h0M246.1 99h0M271 110.7h0M300.6 72.7h0M288.7 113.9h0M249.9 110.5h0M304.3 123.2h0M257.8 84h0M320.1 115.7h0M277.5 106.8h0M242.2 101.3h0M283.3 131.6h0M339.7 90.1h0M279.3 82.2h0M272.1 128h0M301 130.3h0M264.7 113.5h0M279.5 108.7h0M286.1 109.5h0M330.1 98.7h0M311.7 80.3h0M289.7 129.9h0M281.1 60.7h0M275.1 90.3h0M301.9 87.4h0M253.5 74.4h0M261.1 90.1h0M290.6 123.1h0M296.9 129.7h0M290.6 66.7h0M300.6 116h0M247.6 92.1h0M241.5 88.5h0M340.6 93.4h0M271.2 65.3h0M267.5 98.6h0M257.1 95.3h0M281.4 88.2h0M332.6 85.3h0M286.8 133.9h0M315.2 111.8h0M254.7 88.5h0M316.8 66.8h0M325.2 86.5h0M260.2 93h0M302.7 124h0M290.2 122h0M338.8 104.6h0M304.3 73.6h0M308.7 61.1h0M254.5 94.4h0M283.3 94.6h0M275.2 96h0M244.7 93.8h0M317.1 106.2h0M288.6 75.3h0M267.3 85.7h0M309.8 81.1h0M273.2 89.3h0M251.7 115.7h0M268.1 110.9h0M297.3 63.5h0M341.1 91.2h0M297.2 76.4h0M308 97.2h0M271.4 120.3h0M300.7 120.6h0M276.7 118.1h0M332.5 99.3h0M312.1 113.3h0M303.5 127.9h0M293.3 111.7h0M294.4 133.8h0M282.6 77.8h0M289.4 58.3h0M293.5 109.2h0M317.5 76h0M285.5 70.2h0M325.4 117.4h0M245.5 88.6h0M307.1 65.9h0M259.2 106.1h0M312.4 67.5h0M304.3 117.6h0M261.6 110.2h0M281.7 99.7h0M252.5 73.6h0M272.7 125.7h0M313.4 117.4h0M321.9 78.4h0M252.9 106.6h0M314 76.1h0M337.9 79.3h0M248.5 95.6h0M287.2 84.2h0M319.3 90.1h0M307.2 78.4h0M280.3 86h0M248.5 89.1h0M293.7 126.8h0M338.8 83.7h0M262 113h0M329.2 115.9h0M279.7 75.5h0M282 120.4h0M260.1 88.5h0M275.3 72.5h0M314.3 126.8h0M264.2 99.3h0M281.6 125.7h0M299.1 129.2h0M289.5 95.2h0M279.3 108.8h0M306.5 128.7h0M316.7 79.7h0M269.1 72.6h0M266.3 71.9h0M314.3 83.7h0M286.8 65.2h0M299.2 103.9h0M287.6 66.2h0M270.4 78.9h0M320.3 116.6h0M246.2 106.7h0M274.1 124.9h0M292.4 100.9h0M276.1 112.9h0M251.1 97.7h0M303.2 111.2h0M282.9 111h0M298.4 60.4h0M284.7 62.4h0M263.6 95.7h0M283 122.7h0M294 62.4h0M238.8 94.9h0M240.1 92.3h0M339.5 83h0M284.8 120.5h0M250.9 80.3h0M250.1 91.5h0M277.2 81.4h0M252.3 116.7h0M257.2 71.2h0M308.4 128h0M286.1 114.8h0M247.7 95.2h0M257.5 70.8h0M266.3 77.9h0M296.4 70.6h0M265.8 76.2h0M301.5 75.6h0M278.3 76.8h0M306 126.5h0M293.3 123.9h0M288.8 76.7h0M299 73.6h0M277 75.3h0M304.4 126.1h0M252.7 114h0M267.7 77.4h0M294.3 58.8h0M259.6 91.6h0M293.8 129.1h0M263.8 93.7h0M294 61.7h0M324.4 83h0M321 79.1h0M312.3 100.1h0M290.1 71h0M293.8 76.3h0M258.6 115.9h0M311.8 71.8h0M268.1 116.3h0M271.6 124.2h0M264.3 72.6h0M266.7 108.9h0M248.3 101.1h0M298.9 66.8h0M292.9 61.2h0M314.5 92.3h0M258.2 83.2h0M286.6 128.2h0M331.9 101.7h0M321.5 123.8h0M318.8 83.8h0M338.7 99.1h0M328.1 74.8h0M321.8 80.4h0M250 93.4h0M262.2 87.2h0M248 102.3h0M277.1 123.5h0M285.1 130.8h0M340 83.5h0M246.7 80.2h0M270.1 105.1h0M247.4 95.5h0M273.9 112.3h0M338.3 85.1h0M294.3 71.2h0M302.2 78.9h0M333.2 97.3h0M287.8 109.2h0M277.9 83.1h0M285.7 86.8h0M250.7 84.5h0M273.2 89.3h0M272.6 125.4h0M311.4 94.4h0M258.6 93.1h0M297.7 126.8h0M265.3 71.8h0M298.9 118.3h0M243.5 98h0M304 118.8h0M315.9 115.7h0M279.6 73.7h0M318.7 107.8h0M275.8 118.8h0M272.5 106.3h0M258.4 105h0M284 85.8h0M297.7 59.4h0M329.8 116.3h0M288.7 130.1h0M319.1 96.9h0M306 67.9h0M276.9 103.2h0M258.3 86h0M240.5 88.9h0M281.2 58.1h0M279.3 103.3h0M310.5 83.9h0M252.8 111.2h0M330.8 90.2h0M291.8 91.4h0M328.1 97.8h0M254.5 76.9h0M319.4 93.1h0M270.7 120.1h0M261.6 111.7h0M250.6 81.7h0M265.5 116.4h0M248.8 100.9h0M320.3 98.3h0M307.2 72.6h0M326.8 117.9h0M309.8 124h0M267.6 85.7h0M286.9 122.5h0M290.1 90.4h0M326.9 95.1h0M256.1 106.1h0M325.9 108.1h0M328.3 98.3h0M302.5 129.3h0M277.3 95.5h0M291 61.9h0M310.7 65.7h0M282.5 121.3h0M327.3 97.5h0M258.5 77.8h0M317.9 88h0M317 103.9h0M321.9 72h0M296.5 116.5h0M313.6 72.1h0M244.7 96.1h0M256.6 88.4h0M330.9 110.3h0M323.4 90.3h0M320.1 101.7h0M287.3 85.1h0M309.3 69h0M342.5 96.3h0M316 120.9h0M282.3 123.2h0M281.5 123.2h0M270.2 69.2h0M311.5 119.3h0M308 111h0M321.7 110.4h0M284.1 131.9h0M323.5 97.6h0M295.5 90h0M242.3 87.5h0M315.7 64h0M280.6 77.4h0M284.3 74h0M295.6 79h0M318.8 87.2h0M249.4 96.2h0M266.7 101h0M290.1 103.3h0M320.3 107.7h0M324.1 87.6h0M244.2 92.3h0M288.8 101.3h0M285.6 90.6h0M281.9 133.2h0M323.2 100.4h0M334.1 80.7h0M311.6 64.8h0M281.6 116.9h0M329.7 114.2h0M280.1 117.2h0M297.2 63.7h0M289.6 73.8h0M292.4 73.3h0M292.9 124.2h0M259.8 90.3h0M292.1 77.3h0M260.4 116.2h0M267.8 67.7h0M291.4 58.6h0M336.3 101.3h0M280.7 117.3h0M287.4 60.8h0M264.6 123.6h0M297.2 81.1h0M291.7 62.4h0M291.3 122.3h0M324.3 72.7h0M268.2 109.5h0M270.8 97.5h0M272.2 91.3h0M339 100.1h0M282.3 97.6h0M293 56.8h0M263.4 120.6h0M337.3 86h0M255.4 77.5h0M262.6 103.3h0M302 88.3h0M341.5 94.9h0M259.7 93.3h0M284.6 75.7h0M286 72.4h0M294.5 113.5h0M274.2 73.7h0M276.6 76.1h0M241 86.3h0M337.2 103.3h0M269.3 71.2h0M260.5 96h0M272.4 107.4h0M293.2 121h0M305.3 81.6h0M293.3 126h0M278.8 121.9h0M275 121.1h0M295.4 57.9h0M267.8 102.4h0M321 91h0M289.6 78h0M288.9 62.9h0M283 81.9h0M246.3 92.9h0M303.4 74.2h0M267.5 112.5h0M291.8 72.9h0M273.7 75.9h0M315.5 90.8h0M265.8 100.8h0M308.9 119.3h0M342.9 95.4h0M294.1 112.9h0M273 72.1h0M281 77.4h0M319.5 92.6h0M291.2 104.7h0M269.4 62.8h0M303.5 89h0M321.4 118.2h0M290.1 61.7h0M265.5 116.4h0M280.4 66.6h0M315.7 99.3h0M273.1 67.1h0M291.1 128.2h0M336.8 102.8h0M282 114.1h0M244.8 92.8h0M249.7 100.8h0M290.7 126h0M295.5 130.8h0M283.5 104.6h0M273.4 63.3h0M284.8 65.8h0M276 90.6h0M280.4 73.5h0M295 129.4h0M318.9 78.4h0M265.3 67.3h0M326.6 76.1h0M320.5 92h0M316.2 66.1h0M265.5 116.2h0M327 107.7h0M254 95.9h0M263.5 80h0M289.2 96h0M275.2 129.3h0M298.9 110.8h0M271.9 66.3h0M242.9 107.7h0M300 77.2h0M279.5 112.1h0M321.9 79.8h0M311.4 66.7h0M339.9 92.9h0M312.8 82.1h0M308.8 71.1h0M308.7 79h0M246.9 102h0M332.2 81.5h0M276.1 73.2h0M273.2 68.9h0M276.1 90.6h0M290.9 117.7h0M322.6 91.9h0M309.8 87.2h0M306.6 114h0M275.8 121.3h0M311.9 98.5h0M272.8 75.4h0M338.4 86.4h0M341 92.5h0M287 113.2h0M290.7 85.3h0M332.5 87h0M309.8 90.8h0M249.6 104.7h0M297.1 65.3h0M313.1 108.5h0M285.2 72.9h0M314.7 121.9h0M311.7 122.7h0M259.6 93.3h0M244.7 96.1h0M317.1 92.4h0M325.6 112.2h0M276.1 124.4h0M267.9 96.5h0M289.1 124.5h0M315.2 124.8h0M341.9 97.8h0M330.8 81.3h0M251.5 91.8h0M310.8 66.6h0M308.8 126.1h0M298.5 93h0M287 80.3h0M258.8 69.9h0M269 105.9h0M280.1 107.8h0M318.1 81.4h0M290.5 115.5h0M288.1 113.1h0M285.8 80.1h0M244 95.7h0M322 113.4h0M288.2 61.6h0M291.9 132.8h0M298.5 71.5h0M294.4 87h0M296.7 105.9h0M307.4 78.6h0M272.6 65.9h0M243.2 98.2h0M267.3 82.7h0M330.9 86.1h0M288.9 128.2h0M280.9 112h0M274.6 110.7h0M279.6 84.5h0M250.8 91.1h0M284.9 64.9h0M274.7 120.7h0M323.1 119.8h0M265.8 116.2h0M251.3 115.4h0M312.2 126.1h0M289.6 121.5h0M328 94.6h0M292.1 71.6h0M337.8 109.7h0M262.8 118.6h0M343 94.7h0M322.4 111.7h0M276.5 70.6h0M317 118.3h0M340.2 95.5h0M266.8 113h0M269.4 91.7h0M325.9 85.4h0M261 96.1h0M315 64.5h0M270.6 69.7h0M253.6 103.5h0M324.8 77.3h0M300.8 110.3h0M287.4 130.7h0M340.4 94.7h0M279.5 95.8h0M326 95.9h0M328.7 83.8h0M296 72.4h0M275.4 119.1h0M286.5 59.8h0M321.4 75h0M310.1 119.7h0M317.7 81.8h0M240.3 104.4h0M274.3 128.7h0M333.8 92.7h0M295.2 71.2h0M306.7 123.4h0M304.1 70.2h0M291.6 78.8h0M254.5 109.4h0M303.4 77.2h0M335.2 104h0M265.9 101.4h0M331.4 94.8h0M276.7 83.7h0M317.1 119.4h0M269.8 76.9h0M270.9 115.7h0M324.6 86.6h0M327.7 94.7h0M289.5 97h0M341.7 97.1h0M252.9 89.8h0M272 89.3h0M284.4 118.4h0M275.1 77.1h0M259.6 120.5h0M305.3 126.8h0M244.1 97.1h0M343.4 105.5h0M305.8 61.3h0M263.2 83.2h0M308.1 101.6h0M292.2 69.8h0M267.3 115h0M299.1 107.3h0M333 104h0M339.2 93.5h0M333 95.5h0M266 95h0M341.1 92.3h0M276.1 114h0M329.8 83h0M280.3 59.8h0M256.2 85.3h0M297.2 126.8h0M240 104.7h0M290.2 115.5h0M245.9 96.1h0M284.9 125.8h0M304.1 86.8h0M297.5 99.5h0M270.6 72.9h0M270.6 83.7h0M279.8 132.9h0M291.5 56.9h0M259.2 85.3h0M307 60.5h0M295.8 131.3h0M309.6 128.1h0M336.2 107.5h0M252.4 114.5h0M285.3 99h0M273.1 115.3h0M272.4 125.4h0M310.4 105.5h0M290.1 77.6h0M284.6 79.6h0M315 110.2h0M302.2 102.9h0M303.1 72h0M334.2 93.6h0M338.8 105.7h0M254 80.4h0M263.4 82h0M281.5 63.2h0M299.7 82.6h0M322.7 101h0M313.9 72.5h0M281.5 88.6h0M276.1 104.2h0M290.6 87.5h0M306 97.4h0M294.9 95.6h0M310.7 79.9h0M313.4 65.1h0M323.2 121h0M256.5 92.5h0M320.9 100.2h0M322.4 96h0M342.5 100.3h0M284.9 98.4h0M293.6 77.4h0M325.9 120.3h0M279.6 90.1h0M269.6 129.8h0M299.2 123.8h0M330 86.2h0M249.6 110.2h0M279.2 96.8h0M281.2 84.4h0M331.3 90.5h0M307 88.7h0M293.1 80.5h0M305.8 63.6h0M276.7 66.1h0M261.5 126.7h0M314 110.3h0M239.8 100.9h0M321.8 79h0M323.6 72.3h0M285.9 72.8h0M249.5 86.2h0M263.1 79.3h0M272.9 73.7h0M266.8 77.4h0M286.6 128.2h0M302.3 112.1h0M272.6 128.4h0M290.6 129.4h0M263.8 116.4h0M259.3 115.4h0M273.8 86.2h0M296.7 68.3h0M307.8 124.5h0M341.8 92.5h0M326.9 93h0M281.1 60.2h0M320.6 84.7h0M309.1 70.1h0M292.1 77.3h0M274.8 96h0M299.7 134.3h0M345.4 92.9h0M320 108.6h0M266.7 90.9h0M304.6 130.6h0M259.6 121h0M280.6 113.4h0M276 72.9h0M293.1 94.7h0M316.9 102.8h0M310.4 81.7h0M242.4 99.2h0M305.7 72h0M278.8 123.9h0M326.3 95.6h0M284.5 76.6h0M307 76.9h0M252.7 84.6h0M294.8 123.7h0M319.4 106h0M245.7 105.4h0M305.1 70.1h0M289.2 105.4h0M301.1 88.8h0M293.8 87.2h0M317.5 106.1h0M257.5 70.7h0M243.5 105.3h0M298 62.2h0M339.4 102.7h0M284.5 130.8h0M307.2 96.3h0M317.9 76.1h0M319.7 95.9h0M311.3 103.4h0M296.8 89.7h0M285 58.4h0M336.4 89.3h0M263 96h0M333.3 104.8h0M287.2 76h0M276.9 70.1h0M293.3 65.4h0M293.1 125.2h0M305.9 82.7h0M272 78.2h0M270 63h0M292.9 74.2h0M332.1 114.2h0M321.4 106h0M304.5 91.2h0M273.6 112h0M277.6 81.7h0M321.8 77.7h0M318.5 109.9h0M260.7 124.4h0M326.2 111.7h0M280.7 71.4h0M258.9 101.4h0M294.1 63h0M336.3 109.4h0M322.4 92.5h0M261.7 111.2h0M263.8 81.9h0M308.7 74.9h0M272.1 106.4h0M327.9 96.6h0M332.4 91h0M290.1 57.7h0M313.2 118.4h0M311.5 103.2h0M262.9 75.6h0M293.1 93.6h0M255.3 114.4h0M285.2 120.2h0M307.6 129.8h0M268.2 127h0M320.7 112.5h0M254.1 96.6h0M280.8 103.4h0M320.2 94.2h0M329.1 80.6h0M267.6 100.9h0M260.1 93.9h0M336.8 96.4h0M299.4 78.9h0M287.3 77.8h0M291.9 127.3h0M337.4 85.4h0M279.1 125h0M329 106.6h0M255.7 78.1h0M316.9 97.3h0M315.4 78.1h0M302.5 106.2h0M274.2 72.8h0M276.5 125.7h0M274.5 82.3h0M304.3 91.9h0M280.5 98.4h0M293.5 115h0M315.7 110.8h0M279.4 83.3h0M341.6 97.5h0M304.4 130.4h0M258.7 101.7h0M294.7 73.3h0M241.5 97h0M322.3 109h0M301.5 129.5h0M317.1 82h0M288.4 115.4h0M314.4 107h0M252.9 95.9h0M320.7 78.2h0M285.7 115.3h0M286.7 78.1h0M328.9 93.3h0M245.5 96.7h0M290.4 84.2h0M340.6 107h0M290.7 107.5h0M295.2 80.6h0M290.7 69.5h0M336.2 95.4h0M255.6 105.1h0M287.7 122.9h0M294.5 90.9h0M276.9 98.2h0M339.5 94.2h0M341.1 102.7h0M340.3 103.2h0M338.2 82.1h0M278.8 97.7h0M261 124.5h0M283.7 130.7h0M250.5 117.9h0M319.9 124.1h0M272.2 105.7h0M296.3 95.2h0M318.3 82.9h0M283.1 63h0M289.1 61.8h0M265.5 77.1h0M329.3 96.4h0M267.8 117.4h0M318.9 114h0M251.1 88.4h0M278.7 79.6h0M326.9 85.9h0M304.4 63.2h0M294.2 64.7h0M246.7 100.4h0M303.5 120.8h0M317.9 75.3h0M263.9 68.8h0M240.5 92h0M260.3 82.2h0M258.7 122h0M286.1 91.8h0M313 122.5h0M319.7 86.3h0M319.6 111.5h0M305.2 70.1h0M321.9 78.7h0M309.9 104.2h0M242.5 102.3h0M298.6 109.1h0M303.1 118.1h0M243.2 103.3h0M304.7 113h0M247.7 88.3h0M259.9 116.5h0M253.5 84.4h0M308.4 110.2h0M297.1 95.6h0M260.1 97h0M285.4 130.1h0M262.3 95.9h0M341.5 96h0M267.7 74.8h0M264.9 96.8h0M260.1 105.2h0M288.3 58.5h0M305.8 84.1h0M342.5 91h0M283.5 108.7h0M251 102.8h0M253.8 74.1h0M287.4 129.9h0M320.6 75.3h0M272.6 64.8h0M287.6 117.4h0M333.8 94h0M252.5 74.8h0M239.9 96.6h0M295.2 126h0M309.5 64.8h0M289.2 81h0M336.9 83.6h0M244.3 108.6h0M285.5 132.7h0M317.3 100.9h0M277.1 126.9h0M263.1 104.7h0M302.8 110.2h0M255.5 103.4h0M276.2 79h0M253.2 97.7h0M299.9 122.4h0M274.2 73.4h0M274.1 70.6h0M292.2 60.7h0M267.7 113.8h0M282.8 105.3h0M271.9 125.1h0M295 60.1h0M297.4 116.3h0M245.8 105h0M325.2 103.5h0M309.4 103.1h0M305.8 108.7h0M305.5 117.1h0M297.5 129h0M286.2 129.9h0M312 115.6h0M328.4 84.2h0M341.2 97.5h0M292.7 128h0M244.4 94h0M282.9 82.5h0M299.6 120.3h0M316.5 91.8h0M247.5 113.1h0M267.4 120.8h0M286.9 87.9h0M310.3 127.2h0M307.7 101.9h0M289.5 79.5h0M255.9 98.2h0M287.3 132.4h0M262.2 105.8h0M343.2 102.5h0M270.4 121.4h0M288.2 120.6h0M263.9 98.3h0M270.4 102h0M310.4 106h0M240.9 92.8h0M269.9 92h0M290.9 72.9h0M248.2 96.8h0M313.9 101.4h0M278.8 80.7h0M320.9 92.7h0M280.3 71.5h0M263.8 105.4h0M313 63.1h0M243.8 99.7h0M317.5 114.2h0M334.4 85.2h0M291.1 65h0M304.8 99.2h0M316.3 91.5h0M308.1 96.6h0M300.2 63.4h0M296.7 131h0M241.8 87.7h0M237.8 89.1h0M325.2 123.6h0M313.9 117.5h0M293.6 98.9h0M264 100.1h0M334.4 102h0M287.2 110.6h0M320.9 106.9h0M286.8 67.1h0M300.2 66.7h0M302.7 94.6h0M257.5 94.4h0M286.6 116.5h0M270.4 96.8h0M288.8 117.7h0M252 104.5h0M292.3 133.7h0M314.6 124.4h0M290.9 99.7h0M278.2 114.2h0M268.2 122.3h0M272.8 109.5h0M299.5 59.3h0M279.8 133.1h0M320.4 108.9h0M281.1 76.2h0M315.2 65.4h0M299.8 67.7h0M259.9 98.6h0M246.5 84h0M278.5 110.7h0M261.2 70.5h0M265.9 116h0M311.4 71.1h0M272.3 95.6h0M318 91.5h0M264.6 71.4h0M273.7 68.4h0M250.7 96.3h0M324.1 81.8h0M328.5 82.8h0M323.9 99.4h0M298 57.3h0M284.3 104.7h0M278 122.1h0M285.6 65.6h0M313.1 73.6h0M319.9 73.9h0M295.1 117.2h0M308 92.4h0M281.8 70.9h0M317.8 88.8h0M253.9 71.6h0M285.9 77.4h0M281.3 115h0M249.6 94.5h0M290.9 112.1h0M331.5 88.8h0M298.9 67.2h0M267.7 125.5h0M316.3 86.5h0M280.5 123.5h0M280.9 65.2h0M315.1 88.3h0M275.7 116.4h0M303.3 106h0M281.2 99.7h0M285.9 62.6h0M324 110h0M299.8 112h0M297.2 133.3h0M287 62h0M298.3 100.2h0M293.2 112.9h0M262.2 112.7h0M300.9 79.9h0M284.3 124.6h0M307.3 127.8h0M338.8 105.5h0M296.6 72.1h0M310.6 61.8h0M276 108.2h0M272.6 88.5h0M259.9 119.6h0M267.9 121.7h0M297.2 80h0M304.6 86.5h0M314.7 97.3h0M274.2 82.8h0M281.4 108.4h0M296.4 62.7h0M285.9 82.4h0M324.7 118.1h0M263.2 117.4h0M275.1 61.5h0M321.3 97.7h0M318.2 84.5h0M304.7 103.5h0M268.2 127.9h0M279.1 70.4h0M313.3 102.3h0M291.2 68.4h0M325 74.3h0M269.5 108.3h0M300 110.7h0M290.7 120h0M336.4 95.8h0M293.7 109.2h0M298.7 71.4h0M297.8 125.3h0M267.1 93.4h0M302.6 94.5h0M294.8 132.2h0M256.9 120.1h0M270.3 66.6h0M325.4 94.2h0M291.9 116.5h0M319 119.7h0M279.4 131.1h0M276.7 94.2h0M302.2 64.7h0M294 78.2h0M262.5 80.5h0M298.8 101.9h0M285.7 59.6h0M317.7 81.7h0M335.1 104.9h0M290.1 91h0M294.2 97.9h0M264.6 90.4h0M291 57.8h0M329.3 80.7h0M326 76.7h0M260.5 80.5h0M302 87.4h0M330.1 89.8h0M284.6 59.9h0M284.6 128.7h0M272.2 105.6h0M291.1 88.8h0M252.3 102.3h0M324 106h0M250 86.8h0M286.3 103.6h0M299.1 62.5h0M269.7 92.8h0M306.8 92.5h0M238.8 97.1h0M303.1 88.9h0M306.7 82.6h0M263.2 111.8h0M267.7 124.5h0M321.4 121.3h0M309.8 95.5h0M302.1 66.9h0M326 115.6h0M256.4 95.8h0M263.7 108.4h0M267.3 75.3h0M295.4 110.1h0M258.3 99.8h0M315.6 124.1h0M319.3 104.2h0M337.3 111.6h0M314.8 85h0M293 122.8h0M273.8 103.3h0M298.6 104.5h0M267 111.2h0M324.2 100.9h0M238.2 103.2h0M253.1 101.8h0M331.3 90.4h0M241 94.2h0M256.5 100.4h0M269 98.3h0M297.6 58.6h0M249.6 116.6h0M257.1 94.8h0M276.4 93.9h0M327.6 113.9h0M266.9 82.6h0M294 68.7h0M320.4 102.6h0M261.6 120.9h0M286.7 75h0M294.3 134.4h0M315.4 110.7h0M346.4 95.7h0M273.9 82.3h0M266.6 123h0M261.2 93.1h0M280.9 74.9h0M258.9 101h0M267.9 100.7h0M267.6 112.4h0M302.3 131h0M336.8 93.5h0M292.9 94.5h0M275.3 116.5h0M241.3 94.4h0M327.7 102h0M285 60.3h0M265.8 66.2h0M268.6 120.8h0M298.2 119.3h0M298.1 71.5h0M283 69.7h0M302.5 73.5h0M283.2 108.5h0M310.7 123.5h0M260.3 87.9h0M267.8 72.5h0M325.1 92.2h0M258.4 83.5h0M293.5 75.4h0M296.5 89.4h0M276.7 115h0M276 66.5h0M247.9 106.2h0M271.1 128.4h0M267.7 92.5h0M285.3 118.3h0M280.8 108.4h0M258.8 98h0M314.9 67.4h0M338 104.1h0M285.1 114.2h0M291.7 64.5h0M287.6 105.6h0M262.5 85.9h0M261.1 97.4h0M320.4 98.1h0M330.6 101.1h0M292.9 126.8h0M282.6 114h0M314.5 63.5h0M330.4 108.5h0M265.2 96.1h0M247.8 107.6h0M260.8 119.3h0M323.7 82.2h0M314.9 121.6h0M252.4 75.3h0M270.1 86.7h0M291.2 120.3h0M307.2 72h0M333.2 99.5h0M287.3 61.7h0M249 97.4h0M284.3 119.8h0M288.7 127.3h0M292.7 62.1h0M291.3 118.1h0M271.9 114.9h0M300.1 87.8h0M327 107.3h0M300.8 132h0M321.4 115h0M275.1 120.4h0M283.1 87.7h0M263.4 116.4h0M261.7 119.9h0M328.7 92.7h0M264.3 111.8h0M260 99.4h0M320.5 82.5h0M297 65h0M310.1 94h0M296.6 124.1h0M330.1 77.2h0M301 123.9h0M284.4 121.5h0M317.2 79.7h0M281.2 125.4h0M266.9 93.9h0M244.9 100.4h0M313.4 95h0M293 104.8h0M317.8 101.9h0M270.2 65h0M261.7 82.7h0M273.6 77.5h0M327 75.9h0M325.9 96h0M262.9 83.5h0M304.6 92.1h0M327.8 84.8h0M238.3 93.8h0M262.7 104.9h0M292.7 126.7h0M294.4 112.1h0M295.6 123.9h0M309.5 84.2h0M266.7 104.9h0M275.7 69.5h0M309.7 129.4h0M288.2 131.6h0M290.5 85.5h0M290.8 123.4h0M302.3 133.7h0M250.2 96.1h0M295 71h0M279.4 120.4h0M239.8 96.1h0M254.4 95.2h0M299.6 96.2h0M298.7 89.9h0M262.5 84.4h0M298.7 56.8h0M262.2 112.3h0M285.3 102.8h0M306.7 100.7h0M277.1 87.6h0M249.9 93.7h0M252.2 73.5h0M302.5 131.9h0M301.1 106.1h0M305.7 77.2h0M258 93.4h0M255.7 91.6h0M284.5 131.2h0M285.4 63.4h0M283.5 128.1h0M244.2 97.1h0M262.3 100.2h0M275.1 92h0M277.3 102.8h0M240.7 97.7h0M296.5 59.8h0M296.9 77h0M265.5 114.8h0M287.6 60.4h0M269.3 122.9h0M316.2 113.3h0M337.6 89.2h0M342.8 84.8h0M297.3 85.8h0M263 116.5h0M273.9 83.4h0M281.7 110.7h0M284.9 100.7h0M327.4 112.3h0M323.2 95.4h0M271.8 68.8h0M298.2 77.8h0M265.7 73h0M314.4 114h0M329.3 98.2h0M330.2 102.9h0M274.5 90.4h0M312.4 102.2h0M312.3 96.4h0M262.8 109.5h0M327.2 111h0M286.8 94.4h0M326.9 98.7h0M287.3 122.9h0M293 66.3h0M275.2 99.6h0M255 113.5h0M338.7 93.9h0M278.7 82.8h0M337.2 92.1h0M330.6 97.9h0M342.9 96.1h0M319.2 77.8h0M273.6 69.5h0M280 119.3h0M282.8 81.9h0M318.5 69.6h0M336.8 103.4h0M317 65.1h0M245.2 95.9h0M258.2 107.8h0M331.8 94.5h0M299.1 132.7h0M284.2 73.3h0M257.3 93.7h0M296.9 61h0M246 102h0M290.7 61.9h0M338.9 90h0M316.1 122.8h0M252.1 90.2h0M303.4 107.2h0M265.3 113.1h0M246.9 99.9h0M269.1 97.3h0M311.6 74.2h0M257.5 102.8h0M256.9 111.7h0M307.9 92.6h0M317.4 75.3h0M327 81.7h0M325.8 74.9h0M275.3 84.7h0M294.1 71.6h0M340.1 94.5h0M302.4 94.4h0M261.3 121.4h0M333.5 101.5h0M288.3 62.7h0M266.9 64.5h0M312.4 119.1h0M338.4 103.5h0M290.4 107.9h0M281 112h0M261 122.7h0M330.6 99.2h0M275.8 106.3h0M326.2 89.2h0M251.5 92h0M284.8 94.9h0M297.2 86.8h0M315.5 107.9h0M273.5 125.7h0M296 66.8h0M271.9 82.7h0M344.2 96.5h0M327.8 116.2h0M271.2 103.2h0M281 124.9h0M285.5 118.8h0M333.8 96.7h0M249.9 95.4h0M296.4 74.2h0M259.9 119.3h0M298.7 89.1h0M266.5 125.5h0M249.6 107.8h0M291.8 86.7h0M287.4 71.7h0M271.1 62.1h0M300.7 91.3h0M285.1 127.9h0M280.4 118h0M321.8 112.9h0M324.9 106h0M275.8 111h0M302.7 122h0M322.4 93.5h0M278.6 73.7h0M283.8 60.5h0M258.9 102.1h0M332 82.5h0M338.5 96.1h0M330.7 100.9h0M267.1 72.7h0M246.2 101.3h0M310.3 104h0M305.8 74h0M277.1 117.9h0M260.1 84.4h0M338.6 108.9h0M290.2 68.8h0M263.2 103.8h0M303.5 130.3h0M291.8 75.2h0M320.4 121.7h0M288.8 77.7h0M295.2 76.4h0M319.4 72.8h0M301.5 121.7h0M291 118.7h0M259.5 90.2h0M288.9 121.1h0M279 125.8h0M293.4 87.4h0M322.3 121.8h0M273.1 81.7h0M265.6 73.8h0M316.5 93.3h0M316.8 118.1h0M306.1 109.5h0M296.1 119.3h0M279.6 127.1h0M247.3 106.8h0M334.3 106.5h0M269.5 113.5h0M257.2 93.1h0M303.1 73.3h0M318.6 122h0M324.2 90.9h0M324.7 101h0M302.6 66.4h0M310.6 124.1h0M280.4 125.1h0M248.4 89h0M276.6 104.9h0M270.3 108h0M291.1 70.3h0M247.2 103.5h0M309 122h0M288.1 78.7h0M255 85.8h0M271.1 114.3h0M320.6 117.1h0M316.4 106h0M309.6 118.8h0M311.3 114.6h0M272.8 126.9h0M267.1 111.4h0M271.5 92.5h0M314 96.4h0M338.7 104.9h0M263.4 81h0M273.4 105.3h0M250 104.1h0M310.5 122.4h0M316.3 96.2h0M290.3 99.3h0M322.3 118.2h0M289.9 62h0M275.9 116.9h0M268.9 112h0M298.3 82.4h0M286.8 94.5h0M329.4 103.1h0M326.4 78.3h0M338.1 101.3h0M319.8 95.9h0M297.7 90.2h0M274.2 95.6h0M260.2 85.9h0M267.1 62.6h0M339.6 98.1h0M336.7 82.1h0M271.4 115.1h0M287 73.8h0M298.2 96.9h0M277.9 76.8h0M346 92.2h0M314.3 113.3h0M279.4 134.1h0M311.1 77h0M294.5 120.7h0M289.1 60.2h0M284.9 75.3h0M239.9 98.6h0M314.7 117.6h0M317.3 101h0M243.9 100.5h0M292.3 73.1h0M243.4 105.9h0M291.7 115.3h0M248.5 96.2h0M310.9 85.1h0M263.1 99.3h0M291.8 68.9h0M258.7 120.4h0M323 80.6h0M259.8 91.2h0M263.1 105.2h0M298.4 71.6h0M335.8 81h0M316.9 68h0M314.8 122.8h0M300.6 87.6h0M239.4 99.4h0M242.4 89.2h0M293.5 71.1h0M255.5 90.7h0M247.5 96.1h0M297.4 96.4h0M257.5 118.6h0M273.4 92.8h0M293.8 85.4h0M304.8 118.5h0M270 67.1h0M334.3 101h0M313.5 125.2h0M255 74h0M333.6 117.9h0M328.6 86.5h0M310.5 69.3h0M306.1 115.5h0M318.5 113.9h0M308 63.7h0M259.6 121.7h0M271.1 98.2h0M298 57.6h0M261.3 100.4h0M299 128h0M314.4 102.9h0M273.8 93.3h0M261.2 122.2h0M335 111.5h0M256 89.6h0M264.9 72.1h0M295.8 91h0M308.4 118.9h0M256.5 75.8h0M322.1 98.9h0M314.9 76.9h0M317 92.1h0M316.8 110.7h0M246.3 80.5h0M263.3 124.5h0M258.4 70.3h0M290.4 117.9h0M324.3 78h0M280.9 113.3h0M311.4 89.8h0M314.5 99.8h0M317.6 93.1h0M252 91.9h0M328.9 100.8h0M323 117.6h0M257.3 111h0M311 97.9h0M326.1 117.8h0M318.5 82.6h0M266.2 124.4h0M245.7 91.9h0M291.1 82.7h0M315.4 86.6h0M308.5 125.4h0M315.5 74.3h0M289.3 72.4h0M290.6 64.5h0M311.4 95.3h0M339 95.8h0M334.6 87.5h0M240.1 96.1h0M280.3 111.9h0M253.5 103.5h0M268.9 115.2h0M276 131.6h0M296.1 72.9h0M290 129.8h0M288.7 69.1h0M317.1 76.1h0M302.5 76.4h0M304.1 115.2h0M253.8 102.2h0M306.2 127.3h0M319.5 114.1h0M292.4 127.1h0M318.4 104.8h0M282.6 79h0M247.5 104.9h0M250.4 86.1h0M256.3 76.7h0M291.2 63.7h0M264.2 72.3h0M315.3 85.2h0M294.7 99.1h0M293.5 73h0M298.5 103.7h0M274.5 107.6h0M319 102.2h0M251.3 88.4h0M278.8 80h0M298.1 62.6h0M304.6 82.5h0M322 119.2h0M306 95.8h0M304.5 74.6h0M335.5 107.1h0M306.3 106.2h0M320.3 69.7h0M272.6 109h0M316.8 126.5h0M333.2 78.3h0M283.2 61.5h0M302.8 115.4h0M292.9 91.4h0M279.1 125.3h0M258.8 95.6h0M254 96.3h0M303.4 66.7h0M337.1 109.3h0M276.8 66.6h0M297.5 119.6h0M252.7 84h0M313.5 88.7h0M314.4 124.5h0M331.3 91.5h0M289.7 116.3h0M292.3 89.8h0M259.6 104.9h0M278.5 129.1h0M279.8 76.6h0M331.2 103.3h0M342.6 99.5h0M333.1 87.8h0M252.4 77.2h0M314.5 74.2h0M320.4 88.9h0M331.9 85.2h0M289.8 127.9h0M293.4 78.1h0M295.8 127.1h0M304.5 104.3h0M307.9 104.6h0M289 114.7h0M265.4 64.6h0M326 98.6h0M280.2 61h0M307.5 126.7h0M295.6 111.7h0M272.5 71h0M299.5 121.7h0M317.7 72.5h0M287.1 130.1h0M266 106.2h0M340.6 105.3h0M312.3 122.3h0M279.7 65.9h0M264 106.3h0M270.7 92.5h0M331.4 94.6h0M284.4 65.7h0M283.2 113.2h0M339.9 96.5h0M307.3 127.4h0M291.6 111.7h0M243.3 109.1h0M288.7 128.7h0M281.8 62.9h0M274.6 86.5h0M262.7 67.8h0M284 60.8h0M295.2 121h0M291 63.8h0M292 130.4h0M285.3 126.8h0M274.7 84.5h0M336.5 102.9h0M259.3 75.7h0M323.6 70.7h0M325.2 101.9h0M281.8 133.2h0M244.6 101.1h0M309.9 62.7h0M280.7 106h0M264.7 104.8h0M273.6 77.7h0M271 63.4h0M320.6 95.2h0M305.5 104.6h0M333.2 80.8h0M319.2 87.3h0M334.2 83.3h0M302.7 131.6h0M299 71.5h0M274.2 66h0M270.9 116.8h0M261.8 102.5h0M279.3 112h0M290.4 62.8h0M342.3 101h0M296.2 118.6h0M267.7 120.6h0M245.8 108h0M256.8 84.9h0M254.7 83.7h0M338.4 103.3h0M290.9 63.3h0M300.2 72.2h0M275.3 71.6h0M308.7 69.2h0M269.7 129.6h0M319.9 106.4h0M278.9 91.1h0M294.8 59.8h0M259.6 95.1h0M257 91.8h0M254.5 83.1h0M294.6 119.5h0M330.3 102.4h0M310.8 82.5h0M314.9 121.7h0M298.7 84h0M283.1 67h0M318.7 86.1h0M336.1 110.8h0M318.6 102.6h0M282.9 82.9h0M303.8 65.5h0M273.3 67.7h0M291.8 131.9h0M283.4 125.5h0M249.5 96.9h0M307.9 59.4h0M283.5 64.2h0M283.5 61.9h0M312.2 114.6h0M340.4 96.5h0M338.1 95.7h0M322.4 73.1h0M285.6 92.2h0M276.1 97.3h0M253.2 74.5h0M309.4 96.1h0M274.9 78.3h0M265.7 83.6h0M293.9 60.6h0M327.2 100.7h0M238.4 90.2h0M269.6 96.1h0M260.1 88.4h0M289.1 66.5h0M270.9 100h0M307.8 96h0M272.7 67.2h0M255.2 109.3h0M266.8 107.9h0M306.4 84.1h0M259.2 74.9h0M246 81.1h0M272 127.1h0M294.9 125.7h0M275.7 66.1h0M268.2 108.6h0M291.9 123.1h0M267.4 120.8h0M310.8 66.3h0M276.6 97h0M286.9 82.7h0M278.1 119.5h0M286.5 97.4h0M281.5 66.9h0M320.5 69.8h0M264.6 119.1h0M260.1 70.5h0M299.1 71.3h0M294.1 86.7h0M260.9 119.3h0M342.3 94.3h0M265.2 99.6h0M296.3 127.8h0M308.4 118.9h0M248.8 108.5h0M289 93.5h0M292.4 98.7h0M287.6 64.9h0M302.1 128.8h0M262.7 70.1h0M274.7 70.8h0M262.7 95.6h0M292.7 130.2h0M336.5 94.9h0M313.2 87.6h0M305.8 127.8h0M256.8 74.9h0M252.3 81.7h0M310 63.5h0M263.7 92.9h0M291.6 119.2h0M283.8 130.8h0M275.3 80h0M253 99.4h0M286.4 117h0M326.9 100.8h0M264.1 102.4h0M261 74.6h0M336.3 99.5h0M285.6 74.9h0M340.3 95.3h0M288 77.5h0M291.9 103.2h0M304.8 102.2h0M294.6 69.4h0M292.6 119.8h0M318.5 83.9h0M262.9 124.6h0M318.4 86.2h0M249.8 102.7h0M254.9 98.3h0M318.7 90.5h0M273.6 105.6h0M301.5 98.5h0M291.9 128.8h0M275.1 78.7h0M265.1 98h0M283.4 96.6h0M321.9 124.9h0M269.6 76.1h0M296.3 121.4h0M276.6 103.4h0M319.7 112.4h0M276.6 71.9h0M317.2 111.5h0M285.4 129.3h0M285 60.7h0M339 89.2h0M335 94.9h0M274.3 92.7h0M312.3 63.3h0M259.6 114.7h0M295 98.9h0M260.3 113h0M316.5 106.4h0M282.1 70.1h0M322.7 119.6h0M271.9 95.8h0M250.5 88h0M267.9 123.7h0M320.2 84.7h0M311.8 90.2h0M287.5 83.5h0M299.9 102.7h0M302.4 66.7h0M249.4 110.8h0M295.3 63.9h0M266.5 76.5h0M270.3 111.9h0M260.3 113.7h0M308 76.9h0M307.2 64.3h0M290.5 125.6h0M292.3 63.3h0M319.1 90.9h0M285.4 131.4h0M278.5 63.9h0M312.9 128h0M311.8 113.4h0M306.8 96.8h0M268.8 127.1h0M278.1 67.8h0M313.1 91.6h0M327.8 77.3h0M273.1 114.2h0M285.6 59.3h0M253.6 103.7h0M330.1 98.4h0M316.7 119.7h0M330.7 109.3h0M297.1 67.9h0M272.2 130.5h0M319.4 71.7h0M274.8 128.9h0M246.4 89.2h0M305.2 117.1h0M265.6 113.1h0M262.2 81.2h0M292 123.4h0M334.3 94.9h0M290.5 117.4h0M306.3 123.3h0M319.7 80h0M269.8 68.9h0M324.3 117.1h0M330.9 93.5h0M273.3 123.4h0M262.9 114h0M293.7 87.1h0M330.9 93.6h0M261.5 66.8h0M288.8 77.9h0M246.7 91.9h0M298.7 134.1h0M263.2 122.7h0M272.9 81.5h0M289.5 69.6h0M311.7 115.9h0M293.6 88.2h0M293.2 68.9h0M256.4 83.9h0M287.4 119.6h0M242.9 104.7h0M289.7 85.8h0M294.7 76.1h0M269.5 81.6h0M298.2 95.9h0M339 103h0M276.4 111.2h0M297.1 84.3h0M278.3 93.7h0M333.1 77.7h0M295 124.9h0M244.6 83.7h0M305.7 72h0M291.3 126.5h0M323.8 93h0M274.4 99.4h0M242.9 91.8h0M306.3 112.2h0M329 88.4h0M273.6 79.1h0M266.3 98.2h0M287.9 70.1h0M262.5 90.2h0M285.7 130.4h0M337.9 95h0M239.2 95.6h0M280.8 127h0M290.7 120.1h0M239.8 105.6h0M257.6 82.9h0M284.5 120.9h0M252.4 100.4h0M332 94.8h0M293.1 133.7h0M289.4 63.9h0M242.5 105.9h0M322.8 114.3h0M312.3 68.5h0M316.8 121.2h0M292.3 128.2h0M309.7 107.4h0M290.2 119h0M266.5 116.4h0M281.6 107.2h0M246.4 99h0M307.6 127.3h0M279.2 95.2h0M275.7 74.4h0M297.8 60.4h0M280.4 90.4h0M291.2 102.4h0M270.2 104.7h0M262.7 122.5h0M297.4 86.7h0M330 109.5h0M252.6 77.2h0M291.9 129.7h0M308.8 81h0M290.7 114.8h0M260.3 99.3h0M312.1 108.7h0M248.9 85.6h0M300.9 90.9h0M287.6 101.3h0M283.5 79.2h0M325.6 78.7h0M281.8 69h0M292.8 66.5h0M303.4 63.6h0M308.7 113.7h0M267.9 105h0M262.4 102.9h0M266.4 92.2h0M264.6 113.7h0M318.8 73.6h0M283.2 115.7h0M320.2 104.6h0M287.4 78.5h0M291.2 135.9h0M311.9 118.6h0M282.6 60.9h0M261.1 117h0M338.3 89.2h0M273.5 63.6h0M308.5 94.3h0M332 85.3h0M265.2 76.6h0M304.8 87.8h0M320.1 108.5h0M290.2 83.9h0M295.2 89.9h0M297.4 59.3h0M301.9 61.2h0M313.2 125.1h0M330.3 79.2h0M295 92.2h0M304.2 116.7h0M269.3 96.1h0M247.1 90.2h0M248.6 96.9h0M327.7 122.6h0M297.5 59.7h0M292 87.4h0M331.8 96.4h0M299.8 74.8h0M278.4 128.3h0M257.8 116.4h0M317 110.2h0M280 124.2h0M292.5 81.4h0M274.1 101.2h0M249.4 111.4h0M341.2 86.7h0M279.1 63.9h0M251.5 88.8h0M311.6 78.9h0M259.1 70.4h0M345.2 99h0M242.5 93.5h0M282.1 127.7h0M333.6 91h0M240.4 92.2h0M264.1 124.5h0M262.9 107.4h0M251.7 111.6h0M281.2 108.1h0M287.7 66.3h0M267.5 78.4h0M309.9 115h0M280.3 94h0M281 116.9h0M338.3 108.3h0M325.4 97.9h0M268.4 73.6h0M320.3 99.3h0M278.8 87.9h0M240.5 95.9h0M296.4 124h0M337.4 101.6h0M296.6 125.4h0M273.2 131h0M271.9 118h0M315.3 68.2h0M296.5 61.3h0M259.2 83.6h0M322.7 97.5h0M273.2 125.6h0M307.1 64.5h0M246.8 115.7h0M291.3 68.3h0M249.2 107.8h0M325.6 101h0M288.9 71.5h0M253.3 114.8h0M305.2 100.9h0M270.4 107.8h0M244.7 102.9h0M293 133.4h0M265 115.8h0M243.4 87.2h0M247.4 93.2h0M245.7 92h0M247.3 95.7h0M255.8 98.1h0M317 104.8h0M251.2 109.6h0M281.6 80.6h0M253.2 103.9h0M323.9 73.1h0M268.1 66.8h0M269.4 120.3h0M343.5 101.4h0M301.8 121.7h0M289.8 128.6h0M313.3 96h0M337.9 85.8h0M315.6 65.9h0M339.2 100.4h0M326.5 79.6h0M299.6 83.9h0M264.7 66.1h0M255.1 94.4h0M312.2 75.5h0M278.7 81h0M255.9 119.3h0M260.3 76.3h0M267 66.4h0M293.6 79.1h0M253.4 115.1h0M252 99.7h0M311.7 82.4h0M320.1 121.2h0M311.8 126.5h0M272.2 115.4h0M283.9 88.1h0M250.8 102.3h0M263.1 115.1h0M310.7 96.3h0M325.4 120.1h0M269.1 99.9h0M306.7 95.5h0M344.2 97.4h0M315.2 89.7h0M332.6 87.6h0M284.6 67.6h0M261.9 117.9h0M273.7 67h0M290.4 85.9h0M340.8 95.5h0M265 84.4h0M291.2 135.2h0M273.9 89.7h0M293 79.5h0M272 127.6h0M245.9 96.9h0M296.7 108h0M327.6 79h0M280.9 100.2h0M338.8 85.9h0M294.4 110.3h0M277.6 131.7h0M316.2 113.9h0M304.5 94h0M294.8 129.6h0M305.9 116.4h0M322.1 94.9h0M301.4 63.8h0M338.9 102.7h0M286.1 73.5h0M294.5 114.5h0M259.6 104.3h0M277.3 96.5h0M297.6 134.5h0M295.1 98.1h0M308.4 118.8h0M251.3 81.5h0M326 76.5h0M269.9 67h0M273.1 88.7h0M332 97.1h0M316.1 94.3h0M296.4 89.2h0M302.3 96.6h0M256.2 89.4h0M297.9 105.4h0M307.2 81.9h0M257.8 73.6h0M288.9 57.5h0M246.2 101.3h0M271.8 112h0M265.8 78.7h0M293.8 76.9h0M248.3 78.9h0M266.7 75.3h0M266.3 75.8h0M332.6 105.3h0M262.9 105h0M254.2 108.1h0M272.7 77.2h0M251.6 112h0M293.2 109.7h0M255.6 112.4h0M301.2 84.5h0M332.6 92.9h0M331.3 108.9h0M278.7 99.7h0M281.2 118h0M273.6 61.6h0M311.2 68.5h0M309.4 73.9h0M306.6 59.8h0M337.9 108h0M340.1 97.1h0M267.2 109.2h0M317.4 87.9h0M343.1 97.2h0M264.9 115.2h0M274.1 87.8h0M327.6 100.4h0M291.7 87.3h0M345.6 96.6h0M246.4 92.3h0M263.2 72.4h0M302.7 77h0M334.7 105.9h0M285.2 59.9h0M314.4 101.8h0M326.9 92.8h0M297.9 112.8h0M263.8 82.5h0M246.1 104.6h0M257.4 84.3h0M319.9 86.1h0M324 73.9h0M291.6 127.3h0M342 94.2h0M341 92h0M328.8 92.3h0M267.7 109.9h0M337.1 85.8h0M236.2 97.6h0M314.6 90.6h0M298.7 65.6h0M294.2 88.4h0M248.6 111.6h0M244.2 101.1h0M335.6 102.2h0M316.5 102.7h0M280.9 94.1h0M322.8 77.9h0M279.1 73.1h0M317.1 125.6h0M277.4 104.6h0M279.7 83h0M254.1 80.9h0M275.3 113h0M253.9 75.9h0M312.6 94.6h0M326.3 86.2h0M328.3 97h0M263.3 76.6h0M329.5 81.6h0M263.9 97.6h0M245.8 112.4h0M254.1 82.5h0M323.6 100.7h0M260.9 89.8h0M297.3 119.7h0M322.8 120h0M290 119.6h0M300.8 118.2h0M292.2 89.6h0M333.5 90.2h0M271.3 131.1h0M289.8 118h0M330.7 93.5h0M320.5 118.3h0M317.2 83.2h0M252.2 107.3h0M280.2 116.6h0M297.5 99h0M323.3 101.4h0M266.9 101h0M274.1 97.5h0M303.7 110.8h0M289.7 72.8h0M250 110.7h0M260.3 73.8h0M326.6 75.6h0M320.3 112h0M275.9 121.9h0M250.5 81.9h0M293.5 84h0M320.4 96.7h0M294.5 119.9h0M273 110.4h0M289.7 79.6h0M302.1 81.9h0M268.4 90.7h0M310.4 71.5h0M264.1 117h0M318.5 104.3h0M287.5 98.4h0M263.3 114.7h0M294.9 67.1h0M245.1 96.4h0M277.9 116h0M264 117.3h0M280.3 130.4h0M238.8 93.7h0M325.3 88.2h0M245.7 104.5h0M294.9 112.3h0M284.1 109.9h0M271.9 77.4h0M295.8 60.5h0M281 67.1h0M310.5 93.7h0M247 101.5h0M265.8 103h0M298.2 104.6h0M318.8 115.2h0M295.7 112.6h0M275.2 60.7h0M243.3 104.5h0M245.3 96.2h0M276.3 73h0M314.6 105.7h0M305.4 111.8h0M275.1 74.2h0M284.3 99.9h0M322.9 114h0M298.9 119.2h0M343.5 94h0M278.5 116.9h0M266.9 109.4h0M284.3 126.9h0M247.2 94.6h0M283.5 72.3h0M295.2 131.1h0M334.5 100.8h0M290.5 127.5h0M278.4 108.3h0M266.9 107.7h0M336.1 84h0M308.1 101.1h0M289.4 127.5h0M323.9 99.2h0M287.4 64.1h0M262.6 74.9h0M265.4 108.5h0M323.6 92.4h0M281.7 61.7h0M256 99.1h0M286.5 90.9h0M319.5 71.7h0M274.3 116.1h0M259.4 116.8h0M309.8 97.8h0M242 91.7h0M309.2 123.2h0M309.8 123h0M236.4 99.1h0M332 83.6h0M265.5 125.1h0M296.7 78h0M286.9 102.1h0M297.4 60.1h0M327.1 95.5h0M291.1 122.7h0M313.7 117.2h0M246.9 92.4h0M260.3 99.6h0M295.8 101h0M318.8 116.3h0M307.1 99.4h0M306.8 107.5h0M262.9 122.9h0M283.6 69h0" fill="none" stroke="#43a5c0" stroke-width="1.2" stroke-linecap="round"/>
<path d="M287.5 81h0M282.1 89.8h0M289.9 78.3h0M283.7 85.3h0M257.5 81.7h0M315.8 98.6h0M318 97.9h0M246.7 108.3h0M317 101.1h0M304.4 120.6h0M328 83.7h0M284.3 110.5h0M333.5 106h0M281 93.9h0M284 68.7h0M329.9 92.4h0M303.3 70.4h0M266.7 80.3h0M307.4 71.8h0M298.6 73.7h0M259.8 94.1h0M294.5 103.6h0M294.7 129.4h0M297.1 111.2h0M334.2 82.3h0M267 113.5h0M343.5 89.7h0M292.5 92.7h0M325.3 80h0M282 83.1h0M312.2 119.6h0M289.6 81.1h0M254.8 75.2h0M267.3 110.5h0M248.9 96.5h0M319.1 107.1h0M299.3 103.3h0M310.6 92.4h0M249.6 112.8h0M292 103.4h0M269.5 94.1h0M290.3 123.8h0M332.3 116.9h0M247.3 112.5h0M295.1 60.4h0M298.9 104.2h0M250.9 98.7h0M342.6 98.9h0M257.7 101.7h0M271.7 127.7h0M272.4 70h0M277.4 127.5h0M269.9 100.5h0M317 106.8h0M265.4 125.6h0M278.6 111.2h0M304.9 119.5h0M291.7 59.1h0M327.5 108.8h0M328.3 101.8h0M289.4 104.5h0M260.6 70.6h0M279.8 66.9h0M253.1 98h0M332.5 89.9h0M261.8 78.2h0M270.1 72.8h0M252.6 96.5h0M290.5 96.5h0M271.1 97.2h0M261.9 90.2h0M275.5 71.4h0M315.4 112.5h0M335.9 81.8h0M297.5 127.3h0M244.7 110.2h0M320.5 117.2h0M289.7 119.8h0M284.2 71.3h0M288.6 121.4h0M263.8 90.1h0M310 123.3h0M279.1 78.7h0M263.4 100.7h0M259.5 70.5h0M326.8 75.2h0M281.1 121.3h0M280.3 121h0M288.1 95.1h0M282.4 126.8h0M260.1 91h0M281.6 109.9h0M318.2 81.2h0M254.8 106.4h0M304.1 119.4h0M282.9 96.1h0M319.3 121.4h0M301.2 92.6h0M327.1 87.2h0M308.4 64.1h0M318.2 76.4h0M300.6 126.8h0M301.3 106.6h0M286.8 76h0M303 122.5h0M277.2 124.4h0M268.5 74.8h0M289.8 129.5h0M274.4 85.6h0M294.3 113.8h0M324.7 92.3h0M338.8 100.5h0M325.9 102.9h0M293.2 125.8h0M309.7 87.8h0M313.5 91.2h0M284.9 99.9h0M282 98.7h0M292.5 111.7h0M317.1 109.5h0M309.6 67.4h0M293 133.4h0M308.3 124.4h0M339.6 88.9h0M294.6 129.1h0M252.2 81.8h0M317.2 111.2h0M269.6 120.7h0M284 126.8h0M239.9 95.6h0M297.8 99.9h0M296.2 116.5h0M280.8 71.8h0M268.7 101.1h0M290.3 115h0M292.3 80.4h0M278.6 125.6h0M288.1 83.4h0M321.3 71.6h0M283.5 85.1h0M308.9 95.6h0M243.6 89.6h0M312.2 117.6h0M323 82.9h0M288.3 103.2h0M264.4 96.6h0M313.6 99.1h0M331.9 79.5h0M339.8 99.2h0M313.8 114.1h0M299.2 129.3h0M292.1 69.2h0M294.7 116.2h0M294.3 80.1h0M315.7 95.5h0M301.6 91h0M309.1 72.6h0M257.3 102.6h0M277.4 120.7h0M308.9 86.6h0M291.3 83.5h0M268.6 81.4h0M301.1 130.8h0M249.4 110.4h0M322.7 98.3h0M294.8 113.1h0M287.8 68h0M281.2 118.6h0M292 66.2h0M277.8 69h0M283.8 82.5h0M322.4 106.4h0M305.4 64.8h0M308.5 64.1h0M266.4 73.6h0M324 97.4h0M268.6 69.2h0M248.2 90.1h0M290.8 60h0M316.5 66.9h0M318.8 84.2h0M292 111.3h0M268.3 72.3h0M313.1 70.7h0M306.9 108h0M268.4 112.9h0M287 63.5h0M248.1 93.9h0M297.2 125.3h0M278.6 98.8h0M248.7 97h0M263.3 84.6h0M329.9 114.5h0M340.3 84.4h0M260.5 119.6h0M272.4 107.5h0M255 81.8h0M266.8 82.4h0M292.8 63.7h0M342.8 94h0M268.4 118.7h0M271.9 95.8h0M311.7 71.3h0M270.4 64.7h0M326.8 109.7h0M257.5 105.6h0M315.2 85.9h0M264.5 101.6h0M253 117.4h0M284.2 111.3h0M338.4 93.3h0M282.4 117.7h0M285.2 115.5h0M291.3 132.2h0M276.4 94.5h0M292.5 62.1h0M272 128h0M262.8 118.1h0M298.2 121.8h0M255.8 117.3h0M269.9 79.4h0M260.5 95.4h0M333.2 111.4h0M269.4 117.9h0M287.7 74.9h0M285.5 57.6h0M282.7 61h0M297.1 89.4h0M307.4 122.5h0M269.7 80.1h0M275.8 101.5h0M279.9 66.2h0M329.2 115.5h0M253.3 95.1h0M258.7 99.1h0M306.6 105.7h0M313.8 68.1h0M318 105.4h0M273.8 77.1h0M329.9 85.4h0M269.7 102.6h0M291.2 127.2h0M297.4 62.2h0M264.8 95.4h0M270.5 111h0M295.9 122.8h0M276.3 100.2h0M247.1 84.5h0M250.8 92.5h0M247.9 96.8h0M307.3 99.5h0M267 107.5h0M290.4 114.4h0M335.7 109.8h0M329.6 106.2h0M305.5 94.5h0M275.4 118.2h0M257.4 107h0M293.8 132.9h0M276 108.1h0M305.7 103.6h0M249 98.2h0M306.6 79.2h0M336.6 89.8h0M262.5 80.7h0M321.3 110.4h0M298 71.3h0M318.4 94.9h0M336.1 78.5h0M268.8 117.5h0M266.1 118.9h0M287.8 81.8h0M268.6 92.7h0M332.2 105.6h0M251.8 73.8h0M306.2 59.6h0M241.5 86.3h0M270.6 128.7h0M331.8 84.1h0M331.7 93.7h0M287.5 85.5h0M298.3 112.8h0M300 68.3h0M309.4 70.2h0M333.9 107.2h0M298.2 128.3h0M288.7 105.2h0M308.4 64.1h0M283.1 73.1h0M264.2 86.2h0M283.4 123.1h0M304.8 71.6h0M310.4 109.8h0M324.1 97h0M325.4 101h0M297.2 133.1h0M279.5 98.6h0M296.1 96.6h0M250.7 98h0M281.6 128.5h0M295.9 119.9h0M342.9 93.3h0M286.3 64.9h0M285.7 104.7h0M283.3 129.3h0M270.1 107.3h0M305.3 85.4h0M290.2 79.9h0M267.9 64.1h0M294.7 96.5h0M258.6 88.8h0M289.4 83.6h0M277.7 133.9h0M302.2 67.3h0M265.7 116.8h0M248.8 96.1h0M251.4 97.1h0M310.7 125.1h0M274.2 66.7h0M291.3 130.9h0M261 84.7h0M293.6 129.2h0M283.3 89h0M296.3 131.4h0M270.8 66.1h0M336.4 92h0M293.5 121.3h0M315 97.4h0M262.5 71.1h0M338.3 97.5h0M282.8 112.7h0M288.9 64.4h0M284.7 124.6h0M255.4 86.2h0M334.8 96h0M291.1 64.1h0M321.8 116.5h0M316.4 89h0M245.1 90.5h0M294.2 132h0M302.5 123.6h0M295.3 107h0M320.1 120.5h0M327.4 105.5h0M265 103.5h0M301.9 82.8h0M265.1 88h0M330.9 82.8h0M266.3 71.3h0M325.8 98.4h0M246.8 75.9h0M263.9 89.2h0M261.1 112.9h0M285.6 119.2h0M265.1 76.7h0M290.5 113.4h0M294.5 112.9h0M241.4 94.6h0M287.5 65.5h0M261.5 93.2h0M309.1 107.9h0M310.6 121.8h0M259.4 73.7h0M295.3 114.9h0M294.8 58.4h0M261.8 121.8h0M255 93.4h0M271 65.3h0M329.8 98.6h0M286.3 74.3h0M299.5 125.9h0M253.2 88.9h0M301.1 67.5h0M297.8 67.7h0M284.6 126.6h0M246.2 99.5h0M250.5 96.3h0M263.7 113.6h0M333.9 95.8h0M305.2 86.1h0M252.1 97.5h0M284.6 127.5h0M297.4 78.7h0M296.2 110.7h0M313.4 110.9h0M241.7 97.9h0M275.7 62.9h0M255.1 105.3h0M317.9 66.8h0M261.1 90.7h0M294.3 83.9h0M339.9 96.2h0M257.2 82.7h0M254.4 91.9h0M246.4 95.7h0M241.2 96.5h0M277.4 115.5h0M275.1 99.1h0M296.7 102.5h0M291.2 76.3h0M321.1 88.4h0M281.8 69h0M300.1 124.6h0M246.4 82.6h0M305.8 101.3h0M287.6 104.6h0M305.9 97.8h0M295.5 126.4h0M281.1 78.1h0M272.6 113.3h0M315.1 84.2h0M245.7 111h0M285 71h0M267 81.8h0M326.6 77.7h0M245.7 98.9h0M297.7 58.3h0M315.7 116.7h0M314.5 113.4h0M270.9 71.1h0M266.6 122h0M248.3 77.9h0M314.5 103.1h0M316.8 96.7h0M273.6 122.8h0M305.5 64.3h0M333.7 106.8h0M256.5 97.5h0M272.4 81h0M263.3 90.9h0M260.8 102.8h0M312.2 120.9h0M327.8 107.7h0M313.2 84.5h0M290.9 116.2h0M307.5 110.4h0M313.3 117.9h0M307.8 97.1h0M296 99.3h0M332.3 86.8h0M302.3 117.3h0M279.9 115.5h0M317.1 93.4h0M292.9 89.6h0M276.5 128.1h0M295.8 130h0M279.6 69.8h0M271.9 96.5h0M305.8 98.2h0M287.5 128.8h0M297.9 96.5h0M298.5 96.2h0M317.2 95.6h0M259 98.7h0M289.8 63.5h0M270.3 71.1h0M288.4 109.7h0M321.2 113.8h0M303.1 111.7h0M327 98.1h0M303.2 59.9h0M329.5 107.6h0M338.8 89h0M323.8 112.8h0M338.3 106h0M287 110.1h0M255.7 97h0M291.5 57h0M251.8 111.1h0M284.7 116.2h0M279.5 113.8h0M283.5 114h0M342.6 101.9h0M318.1 94.7h0M282.5 67.7h0M257.6 72.6h0M303.8 76.6h0M260.7 108.2h0M292.1 67.7h0M252.8 96.8h0M335.9 108.6h0M263.1 88.4h0M281.3 81.3h0M292.3 115.7h0M304 124.6h0M340.5 91.6h0M286 111.6h0M279.8 105.8h0M292.2 59.6h0M252.1 83.1h0M286.4 126.9h0M261.7 93.4h0M289.9 73.1h0M276.3 87.1h0M340.5 108.4h0M257.6 96.7h0M295.8 84.7h0M324.4 90h0M308.7 74.6h0M322.5 96.3h0M293.1 107.6h0M281.1 132.5h0M304.6 121.8h0M245.9 92.3h0M284 66.8h0M283.7 114.9h0M293.3 87.7h0M299.1 81.8h0M322.2 101.8h0M315.6 127.1h0M303.8 111.7h0M271.8 65.8h0M289 71.1h0M266.3 82.9h0M257.7 96h0M328.6 111.7h0M274.6 77.9h0M317.4 78.7h0M322.7 109.6h0M304.2 78.6h0M336.7 97.5h0M288.8 122.7h0M249.5 91.1h0M319.6 76.5h0M265.5 101.4h0M313.5 129.1h0M328.9 106.2h0M264.1 86.4h0M299.3 91.2h0M268.4 64.8h0M325.8 91.5h0M240.7 97.6h0M238.6 100.3h0M254.3 104.5h0M301.2 105.5h0M268 68.8h0M289.8 130.7h0M251.9 104.5h0M305.7 81.3h0M264 84.3h0M315.3 93.8h0M308.3 104.6h0M289.4 101.7h0M323.9 91.6h0M247 90.4h0M280.8 80.6h0M291 62.1h0M289.6 60.5h0M292.2 63.7h0M277 76.8h0M297.9 99.6h0M278.7 110h0M266.4 109.7h0M300.6 96.5h0M303.2 79.2h0M325.8 93.9h0M279.1 100.1h0M241.8 95.2h0M261.8 119h0M334 96.7h0M298.1 121.9h0M340 95.5h0M310.5 99.1h0M310.7 120.5h0M260.8 82.6h0M340.1 100.3h0M299.5 119.5h0M336.9 80.6h0M328.3 83.9h0M304.9 97h0M270.3 77.3h0M289.8 82.7h0M332.2 103.2h0M325.5 103.1h0M297 78.4h0M328.6 98.5h0M328.9 114.4h0M239.3 87.7h0M245 95.1h0M301 131.4h0M338.9 98.1h0M336.8 96h0M246.4 105.6h0M282.6 120.7h0M243.2 84.3h0M251.9 89.9h0M326 102.5h0M287.4 83.6h0M289.3 94.9h0M285.1 80.1h0M318 112.6h0M296.9 128.8h0M289 131.4h0M238.3 90.2h0M284.2 68.9h0M285.8 125.3h0M276.4 130.2h0M306.1 125h0M268.9 90.5h0M280.6 110.6h0M278 85.6h0M265.7 92.9h0M257.3 97.2h0M289.7 70.1h0M307.6 118.7h0M322.6 91.7h0M279 104.2h0M279.4 107.1h0M266.4 104h0M278.7 117.7h0M284.7 121.4h0M297.5 94h0M285.1 60.4h0M296.5 130.3h0M266.9 111.3h0M284.7 58.4h0M341.8 91.5h0M276.1 76.6h0M299.2 108.3h0M333.8 83.6h0M244.2 103.7h0M328.1 113.3h0M317.5 71.3h0M285 80.8h0M318.5 91.2h0M307 118.5h0M333 91.7h0M301.4 80.5h0M310.7 124h0M294.2 133h0M276.3 94.2h0M281 112.5h0M308.1 89.9h0M303.1 67h0M291.6 59.1h0M285.5 69.8h0M290.5 85.8h0M312.1 117.9h0M239.8 94.8h0M322 111.9h0M253.7 114.7h0M295.8 86.5h0M309.2 67.9h0M296.9 67.9h0M252.2 97h0M266.1 76h0M270.5 77.9h0M329.1 83.2h0M320.6 94.2h0M259 84.6h0M274.7 73.9h0M296.4 99.1h0M271.9 84h0M258.1 79.2h0M315.8 101.9h0M251.5 88.6h0M323 95.8h0M314.4 101h0M268.5 126.3h0M316.9 100.5h0M247.3 84.7h0M323.7 93.9h0M312.5 74.2h0M272.1 97.8h0M329.1 100.3h0M264.8 80.2h0M296.4 57.2h0" fill="none" stroke="#b07a58" stroke-width="1.1" stroke-linecap="round"/></g>

<text x="0.30" y="13.90" font-size="15.5" text-anchor="start" font-weight="bold" fill="#000" >a</text>
<text x="25.40" y="18.40" font-size="11.7" text-anchor="middle" font-weight="normal" fill="#1a1a1a" >0%</text>
<text x="85.60" y="18.40" font-size="11.7" text-anchor="middle" font-weight="normal" fill="#1a1a1a" >20%</text>
<text x="145.60" y="18.40" font-size="11.7" text-anchor="middle" font-weight="normal" fill="#1a1a1a" >40%</text>
<line x1="25.5" y1="31.5" x2="145.8" y2="31.5" stroke="#707070" stroke-width="1"/>
<rect x="25.5" y="35.50" width="102.50" height="19.5" fill="#c00000"/>
<text x="16.90" y="49.35" font-size="11.7" text-anchor="end" font-weight="normal" fill="#1a1a1a" >T</text>
<rect x="25.5" y="62.66" width="69.30" height="19.5" fill="#c00000"/>
<text x="16.90" y="76.51" font-size="11.7" text-anchor="end" font-weight="normal" fill="#1a1a1a" >W</text>
<rect x="25.5" y="89.82" width="38.20" height="19.5" fill="#c00000"/>
<text x="16.90" y="103.67" font-size="11.7" text-anchor="end" font-weight="normal" fill="#1a1a1a" >S</text>
<rect x="25.5" y="116.98" width="37.00" height="19.5" fill="#c00000"/>
<text x="16.90" y="130.83" font-size="11.7" text-anchor="end" font-weight="normal" fill="#1a1a1a" >O</text>
<rect x="25.5" y="144.14" width="13.60" height="19.5" fill="#c00000"/>
<text x="16.90" y="157.99" font-size="11.7" text-anchor="end" font-weight="normal" fill="#1a1a1a" >V</text>
<rect x="25.5" y="171.30" width="8.00" height="19.5" fill="#c00000"/>
<text x="16.90" y="185.15" font-size="11.7" text-anchor="end" font-weight="normal" fill="#1a1a1a" >Z</text>
<rect x="25.5" y="198.46" width="6.30" height="19.5" fill="#c00000"/>
<text x="16.90" y="212.31" font-size="11.7" text-anchor="end" font-weight="normal" fill="#1a1a1a" >U</text>
<rect x="25.5" y="225.62" width="4.80" height="19.5" fill="#c00000"/>
<text x="16.90" y="239.47" font-size="11.7" text-anchor="end" font-weight="normal" fill="#1a1a1a" >P</text>
<rect x="25.5" y="252.78" width="3.80" height="19.5" fill="#c00000"/>
<text x="16.90" y="266.63" font-size="11.7" text-anchor="end" font-weight="normal" fill="#1a1a1a" >G</text>
<rect x="25.5" y="279.94" width="3.40" height="19.5" fill="#c00000"/>
<text x="16.90" y="293.79" font-size="11.7" text-anchor="end" font-weight="normal" fill="#1a1a1a" >M</text>
<rect x="25.5" y="307.10" width="3.40" height="19.5" fill="#c00000"/>
<text x="16.90" y="320.95" font-size="11.7" text-anchor="end" font-weight="normal" fill="#1a1a1a" >Q</text>
<rect x="25.5" y="334.26" width="3.40" height="19.5" fill="#c00000"/>
<text x="16.90" y="348.11" font-size="11.7" text-anchor="end" font-weight="normal" fill="#1a1a1a" >E</text>
<rect x="25.5" y="361.42" width="2.50" height="19.5" fill="#c00000"/>
<text x="16.90" y="375.27" font-size="11.7" text-anchor="end" font-weight="normal" fill="#1a1a1a" >K</text>
<rect x="25.5" y="388.58" width="2.00" height="19.5" fill="#c00000"/>
<text x="16.90" y="402.43" font-size="11.7" text-anchor="end" font-weight="normal" fill="#1a1a1a" >I</text>
<rect x="25.5" y="415.74" width="1.70" height="19.5" fill="#c00000"/>
<text x="16.90" y="429.59" font-size="11.7" text-anchor="end" font-weight="normal" fill="#1a1a1a" >C</text>
<line x1="25.5" y1="31" x2="25.5" y2="438.7" stroke="#555" stroke-width="1"/>
<text x="211.90" y="13.70" font-size="15.5" text-anchor="start" font-weight="bold" fill="#000" >b</text>
<text x="451.00" y="14.30" font-size="15.5" text-anchor="start" font-weight="bold" fill="#000" >c</text>
<line x1="491.6" y1="16.9" x2="491.6" y2="159.0" stroke="#777" stroke-width="1.2"/>
<line x1="491.6" y1="159.0" x2="666.1" y2="159.0" stroke="#777" stroke-width="1.2"/>
<text x="486.00" y="20.90" font-size="11.7" text-anchor="end" font-weight="normal" fill="#1a1a1a" >0.4</text>
<text x="486.00" y="56.50" font-size="11.7" text-anchor="end" font-weight="normal" fill="#1a1a1a" >0.3</text>
<text x="486.00" y="92.10" font-size="11.7" text-anchor="end" font-weight="normal" fill="#1a1a1a" >0.2</text>
<text x="486.00" y="127.70" font-size="11.7" text-anchor="end" font-weight="normal" fill="#1a1a1a" >0.1</text>
<text x="486.00" y="163.30" font-size="11.7" text-anchor="end" font-weight="normal" fill="#1a1a1a" >0</text>
<text x="491.70" y="173.20" font-size="11.7" text-anchor="middle" font-weight="normal" fill="#1a1a1a" >0</text>
<text x="549.20" y="173.20" font-size="11.7" text-anchor="middle" font-weight="normal" fill="#1a1a1a" >2</text>
<text x="607.90" y="173.20" font-size="11.7" text-anchor="middle" font-weight="normal" fill="#1a1a1a" >4</text>
<text x="665.60" y="173.20" font-size="11.7" text-anchor="middle" font-weight="normal" fill="#1a1a1a" >6</text>
<text x="578.80" y="190.00" font-size="11.7" text-anchor="middle" font-weight="normal" fill="#1a1a1a" >Betweeness centrality</text>
<text transform="translate(458.9 88.0) rotate(-90)" x="0" y="0" font-size="11.7" text-anchor="middle" fill="#1a1a1a">Density</text>
<path d="M492.10,70.70 C493.07,73.57 496.22,82.88 497.90,87.90 C499.58,92.92 500.77,96.33 502.20,100.80 C503.63,105.27 505.07,110.05 506.50,114.70 C507.93,119.35 509.22,124.28 510.80,128.70 C512.38,133.12 514.38,137.67 516.00,141.20 C517.62,144.73 518.67,147.50 520.50,149.90 C522.33,152.30 524.42,154.28 527.00,155.60 C529.58,156.92 532.27,157.37 536.00,157.80 C539.73,158.23 543.73,158.13 549.40,158.20 C555.07,158.27 562.57,158.18 570.00,158.20 C577.43,158.22 590.00,158.28 594.00,158.30" fill="none" stroke="#1db34f" stroke-width="2" stroke-linejoin="round"/>
<path d="M492.10,109.40 C493.07,109.67 495.50,110.00 497.90,111.00 C500.30,112.00 503.65,113.53 506.50,115.40 C509.35,117.27 512.15,119.63 515.00,122.20 C517.85,124.77 520.73,127.93 523.60,130.80 C526.47,133.67 529.47,136.93 532.20,139.40 C534.93,141.87 538.00,144.07 540.00,145.60 C542.00,147.13 542.78,147.75 544.20,148.60 C545.62,149.45 547.08,150.02 548.50,150.70 C549.92,151.38 551.28,152.03 552.70,152.70 C554.12,153.37 555.58,154.12 557.00,154.70 C558.42,155.28 559.93,155.95 561.20,156.20 C562.47,156.45 563.47,156.40 564.60,156.20 C565.73,156.00 566.93,155.28 568.00,155.00 C569.07,154.72 570.00,154.43 571.00,154.50 C572.00,154.57 572.93,154.95 574.00,155.40 C575.07,155.85 576.00,156.78 577.40,157.20 C578.80,157.62 580.85,157.90 582.40,157.90 C583.95,157.90 585.27,157.20 586.70,157.20 C588.13,157.20 589.45,157.67 591.00,157.90 C592.55,158.13 594.60,158.60 596.00,158.60 C597.40,158.60 597.07,157.95 599.40,157.90 C601.73,157.85 606.57,158.28 610.00,158.30 C613.43,158.32 616.67,157.98 620.00,158.00 C623.33,158.02 624.00,158.35 630.00,158.40 C636.00,158.45 651.67,158.32 656.00,158.30" fill="none" stroke="#7232b0" stroke-width="2" stroke-linejoin="round"/>
<line x1="539.3" y1="42.9" x2="556.8" y2="42.9" stroke="#1db34f" stroke-width="2"/>
<line x1="539.3" y1="58.5" x2="556.8" y2="58.5" stroke="#7232b0" stroke-width="2"/>
<text x="563.20" y="46.90" font-size="10" text-anchor="start" font-weight="normal" fill="#1a1a1a" >All proteins</text>
<text x="563.20" y="62.50" font-size="10" text-anchor="start" font-weight="normal" fill="#1a1a1a" >Selected proteins</text>
<text x="144.00" y="212.40" font-size="15.5" text-anchor="start" font-weight="bold" fill="#000" >d</text>
<rect x="212.20" y="235.7" width="24.3" height="69.50" fill="#b07fdb"/>
<text transform="translate(227.60 319.30) rotate(-45)" x="0" y="0" font-size="11.8" text-anchor="end" fill="#1a1a1a">Amyloid-beta precursor protein</text>
<rect x="245.50" y="245.0" width="24.3" height="60.20" fill="#b07fdb"/>
<text transform="translate(260.90 319.30) rotate(-45)" x="0" y="0" font-size="11.8" text-anchor="end" fill="#1a1a1a">Fibronectin</text>
<rect x="278.80" y="266.6" width="24.3" height="38.60" fill="#b07fdb"/>
<text transform="translate(294.20 319.30) rotate(-45)" x="0" y="0" font-size="11.8" text-anchor="end" fill="#1a1a1a">Heat shock cognate 71 kDa protein</text>
<rect x="312.10" y="277.0" width="24.3" height="28.20" fill="#b07fdb"/>
<text transform="translate(327.50 319.30) rotate(-45)" x="0" y="0" font-size="11.8" text-anchor="end" fill="#1a1a1a">Catenin beta-1</text>
<rect x="345.40" y="281.6" width="24.3" height="23.60" fill="#b07fdb"/>
<text transform="translate(360.80 319.30) rotate(-45)" x="0" y="0" font-size="11.8" text-anchor="end" fill="#1a1a1a">Histone H4</text>
<rect x="378.70" y="281.9" width="24.3" height="23.30" fill="#b07fdb"/>
<text transform="translate(394.10 319.30) rotate(-45)" x="0" y="0" font-size="11.8" text-anchor="end" fill="#1a1a1a">Ras-related C3 botulinum toxin substrate 1</text>
<rect x="412.00" y="282.6" width="24.3" height="22.60" fill="#b07fdb"/>
<text transform="translate(427.40 319.30) rotate(-45)" x="0" y="0" font-size="11.8" text-anchor="end" fill="#1a1a1a">Filamin-A</text>
<rect x="445.30" y="285.2" width="24.3" height="20.00" fill="#b07fdb"/>
<text transform="translate(460.70 319.30) rotate(-45)" x="0" y="0" font-size="11.8" text-anchor="end" fill="#1a1a1a">Gelsolin</text>
<rect x="478.60" y="288.6" width="24.3" height="16.60" fill="#b07fdb"/>
<text transform="translate(494.00 319.30) rotate(-45)" x="0" y="0" font-size="11.8" text-anchor="end" fill="#1a1a1a">Glyceraldehyde-3-phosphate dehydrogenase</text>
<rect x="511.90" y="292.8" width="24.3" height="12.40" fill="#b07fdb"/>
<text transform="translate(527.30 319.30) rotate(-45)" x="0" y="0" font-size="11.8" text-anchor="end" fill="#1a1a1a">Alpha-2-macroglobulin</text>
<rect x="545.20" y="294.3" width="24.3" height="10.90" fill="#b07fdb"/>
<text transform="translate(560.60 319.30) rotate(-45)" x="0" y="0" font-size="11.8" text-anchor="end" fill="#1a1a1a">Annexin A2</text>
<rect x="578.50" y="295.0" width="24.3" height="10.20" fill="#b07fdb"/>
<text transform="translate(593.90 319.30) rotate(-45)" x="0" y="0" font-size="11.8" text-anchor="end" fill="#1a1a1a">Integrin beta-1</text>
<rect x="611.80" y="295.4" width="24.3" height="9.80" fill="#b07fdb"/>
<text transform="translate(627.20 319.30) rotate(-45)" x="0" y="0" font-size="11.8" text-anchor="end" fill="#1a1a1a">Beta-2-microglobulin</text>
<rect x="645.10" y="296.9" width="24.3" height="8.30" fill="#b07fdb"/>
<text transform="translate(660.50 319.30) rotate(-45)" x="0" y="0" font-size="11.8" text-anchor="end" fill="#1a1a1a">Zyxin</text>
<rect x="678.40" y="297.3" width="24.3" height="7.90" fill="#b07fdb"/>
<text transform="translate(693.80 319.30) rotate(-45)" x="0" y="0" font-size="11.8" text-anchor="end" fill="#1a1a1a">Transthyretin</text>
<line x1="207.5" y1="227.6" x2="207.5" y2="305.2" stroke="#444" stroke-width="1"/>
<line x1="207.0" y1="305.2" x2="707" y2="305.2" stroke="#333" stroke-width="1.1"/>
<text x="202.40" y="233.40" font-size="11.7" text-anchor="end" font-weight="normal" fill="#1a1a1a" >300</text>
<text x="202.40" y="259.17" font-size="11.7" text-anchor="end" font-weight="normal" fill="#1a1a1a" >200</text>
<text x="202.40" y="284.94" font-size="11.7" text-anchor="end" font-weight="normal" fill="#1a1a1a" >100</text>
<text x="202.40" y="310.71" font-size="11.7" text-anchor="end" font-weight="normal" fill="#1a1a1a" >0</text>
<text transform="translate(172.6 266.85) rotate(-90)" x="0" y="0" font-size="11.7" text-anchor="middle" fill="#1a1a1a">Betweeness centrality</text>
</svg>
</body></html>
